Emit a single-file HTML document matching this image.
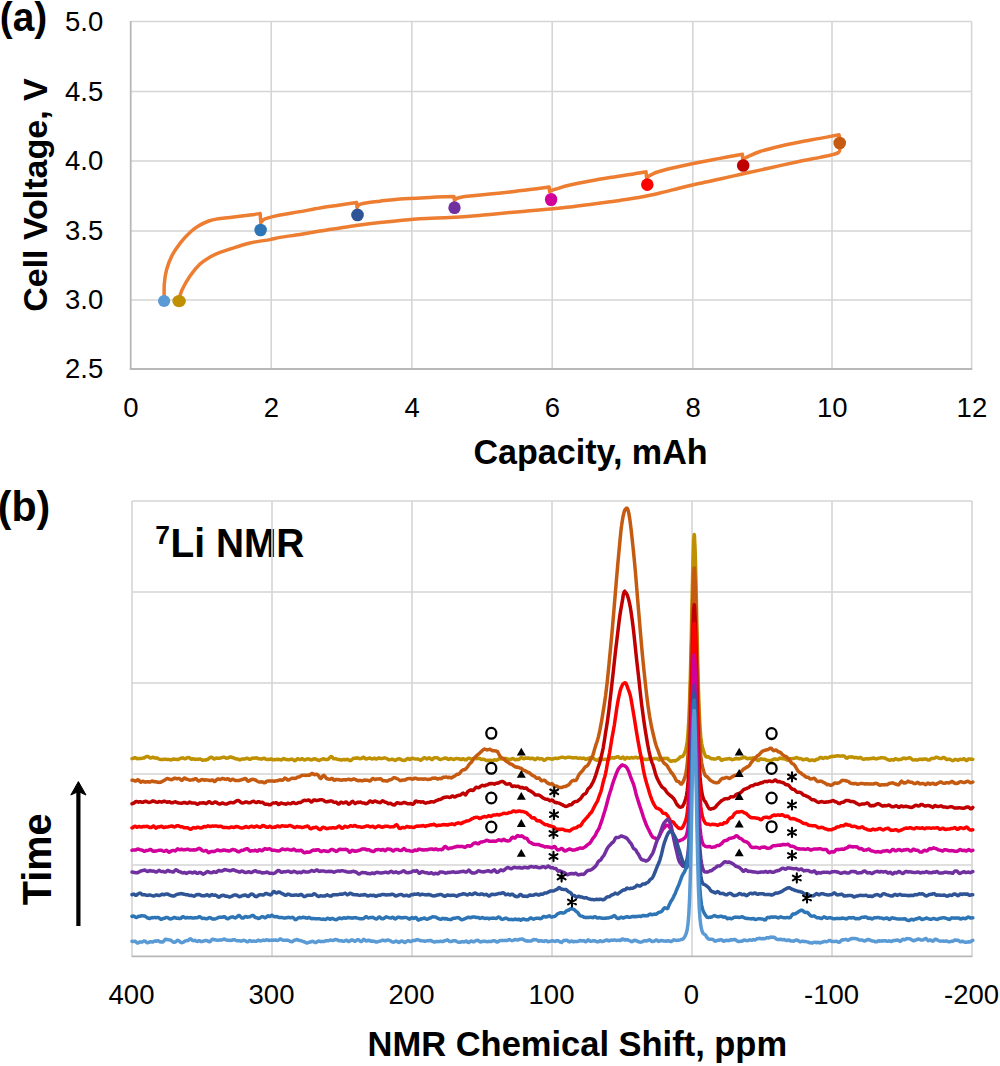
<!DOCTYPE html>
<html><head><meta charset="utf-8"><style>
html,body{margin:0;padding:0;background:#fff;overflow:hidden;}
svg{display:block;}
text{font-family:"Liberation Sans", sans-serif;}
</style></head><body>
<svg width="1000" height="1066" viewBox="0 0 1000 1066">
<rect width="1000" height="1066" fill="#fff"/>
<line x1="271.20" y1="21.50" x2="271.20" y2="369.00" stroke="#d5d5d5" stroke-width="1.6"/>
<line x1="411.80" y1="21.50" x2="411.80" y2="369.00" stroke="#d5d5d5" stroke-width="1.6"/>
<line x1="552.20" y1="21.50" x2="552.20" y2="369.00" stroke="#d5d5d5" stroke-width="1.6"/>
<line x1="692.80" y1="21.50" x2="692.80" y2="369.00" stroke="#d5d5d5" stroke-width="1.6"/>
<line x1="832.00" y1="21.50" x2="832.00" y2="369.00" stroke="#d5d5d5" stroke-width="1.6"/>
<line x1="971.60" y1="21.50" x2="971.60" y2="369.00" stroke="#d5d5d5" stroke-width="1.6"/>
<line x1="130.70" y1="21.50" x2="971.60" y2="21.50" stroke="#d5d5d5" stroke-width="1.6"/>
<line x1="130.70" y1="91.50" x2="971.60" y2="91.50" stroke="#d5d5d5" stroke-width="1.6"/>
<line x1="130.70" y1="161.00" x2="971.60" y2="161.00" stroke="#d5d5d5" stroke-width="1.6"/>
<line x1="130.70" y1="231.00" x2="971.60" y2="231.00" stroke="#d5d5d5" stroke-width="1.6"/>
<line x1="130.70" y1="300.00" x2="971.60" y2="300.00" stroke="#d5d5d5" stroke-width="1.6"/>
<line x1="130.70" y1="20.90" x2="130.70" y2="369.00" stroke="#b8b8b8" stroke-width="1.8"/>
<line x1="129.80" y1="369.00" x2="972.20" y2="369.00" stroke="#b8b8b8" stroke-width="1.8"/>
<path d="M164.20,299.50 C164.22,296.92 163.92,288.92 164.30,284.00 C164.68,279.08 165.22,274.73 166.50,270.00 C167.78,265.27 169.48,260.37 172.00,255.60 C174.52,250.83 178.43,245.42 181.60,241.40 C184.77,237.38 188.27,234.03 191.00,231.50 C193.73,228.97 195.03,227.95 198.00,226.20 C200.97,224.45 205.47,222.23 208.80,221.00 C212.13,219.77 214.47,219.40 218.00,218.80 C221.53,218.20 224.67,218.03 230.00,217.40 C235.33,216.77 244.97,215.63 250.00,215.00 C255.03,214.37 258.50,213.83 260.20,213.60 L260.80,222.80 C261.17,222.37 262.05,220.95 263.00,220.20 C263.95,219.45 263.67,219.17 266.50,218.30 C269.33,217.43 274.42,216.12 280.00,215.00 C285.58,213.88 293.33,212.77 300.00,211.60 C306.67,210.43 313.33,209.10 320.00,208.00 C326.67,206.90 333.90,205.93 340.00,205.00 C346.10,204.07 353.83,202.83 356.60,202.40 L357.00,207.40 C357.42,206.93 358.33,205.30 359.50,204.60 C360.67,203.90 360.58,203.77 364.00,203.20 C367.42,202.63 374.00,201.90 380.00,201.20 C386.00,200.50 391.67,199.63 400.00,199.00 C408.33,198.37 421.00,197.83 430.00,197.40 C439.00,196.97 450.00,196.57 454.00,196.40 L454.40,200.20 C454.83,199.88 455.90,198.80 457.00,198.30 C458.10,197.80 458.83,197.58 461.00,197.20 C463.17,196.82 465.17,196.53 470.00,196.00 C474.83,195.47 483.33,194.67 490.00,194.00 C496.67,193.33 503.33,192.73 510.00,192.00 C516.67,191.27 523.47,190.43 530.00,189.60 C536.53,188.77 546.00,187.43 549.20,187.00 L549.60,191.60 C550.00,191.40 550.93,190.83 552.00,190.40 C553.07,189.97 553.00,189.90 556.00,189.00 C559.00,188.10 564.33,186.33 570.00,185.00 C575.67,183.67 583.33,182.23 590.00,181.00 C596.67,179.77 603.33,178.67 610.00,177.60 C616.67,176.53 624.00,175.57 630.00,174.60 C636.00,173.63 643.33,172.27 646.00,171.80 L646.60,177.80 C647.00,177.50 648.10,176.57 649.00,176.00 C649.90,175.43 650.17,175.20 652.00,174.40 C653.83,173.60 653.33,172.97 660.00,171.20 C666.67,169.43 682.00,165.93 692.00,163.80 C702.00,161.67 711.60,160.00 720.00,158.40 C728.40,156.80 738.67,154.90 742.40,154.20 L742.80,160.00 C743.17,159.70 744.13,158.77 745.00,158.20 C745.87,157.63 745.50,157.72 748.00,156.60 C750.50,155.48 754.67,153.23 760.00,151.50 C765.33,149.77 773.33,147.78 780.00,146.20 C786.67,144.62 793.33,143.30 800.00,142.00 C806.67,140.70 813.50,139.60 820.00,138.40 C826.50,137.20 835.83,135.40 839.00,134.80 L839.40,136.00 C839.47,138.17 839.95,146.25 839.80,149.00 C839.65,151.75 839.80,151.53 838.50,152.50 C837.20,153.47 835.08,153.98 832.00,154.80 C828.92,155.62 825.33,156.32 820.00,157.40 C814.67,158.48 806.67,159.93 800.00,161.30 C793.33,162.67 786.67,164.13 780.00,165.60 C773.33,167.07 766.67,168.62 760.00,170.10 C753.33,171.58 746.67,173.02 740.00,174.50 C733.33,175.98 726.67,177.53 720.00,179.00 C713.33,180.47 706.67,181.80 700.00,183.30 C693.33,184.80 686.67,186.38 680.00,188.00 C673.33,189.62 666.67,191.45 660.00,193.00 C653.33,194.55 646.67,196.07 640.00,197.30 C633.33,198.53 625.00,199.65 620.00,200.40 C615.00,201.15 615.00,201.13 610.00,201.80 C605.00,202.47 596.67,203.53 590.00,204.40 C583.33,205.27 576.67,206.23 570.00,207.00 C563.33,207.77 556.67,208.37 550.00,209.00 C543.33,209.63 536.67,210.20 530.00,210.80 C523.33,211.40 516.67,212.00 510.00,212.60 C503.33,213.20 496.67,213.80 490.00,214.40 C483.33,215.00 476.67,215.68 470.00,216.20 C463.33,216.72 458.33,217.07 450.00,217.50 C441.67,217.93 428.33,218.28 420.00,218.80 C411.67,219.32 406.67,219.97 400.00,220.60 C393.33,221.23 386.67,221.87 380.00,222.60 C373.33,223.33 366.67,224.10 360.00,225.00 C353.33,225.90 346.67,227.00 340.00,228.00 C333.33,229.00 326.67,229.93 320.00,231.00 C313.33,232.07 306.67,233.33 300.00,234.40 C293.33,235.47 285.00,236.53 280.00,237.40 C275.00,238.27 275.00,238.67 270.00,239.60 C265.00,240.53 256.67,241.43 250.00,243.00 C243.33,244.57 235.00,247.43 230.00,249.00 C225.00,250.57 223.33,251.07 220.00,252.40 C216.67,253.73 213.33,255.07 210.00,257.00 C206.67,258.93 203.33,260.83 200.00,264.00 C196.67,267.17 193.00,271.67 190.00,276.00 C187.00,280.33 183.83,286.08 182.00,290.00 C180.17,293.92 179.50,297.92 179.00,299.50" fill="none" stroke="#ed7d31" stroke-width="3.5" stroke-linejoin="round" stroke-linecap="round"/>
<ellipse cx="164.1" cy="301.0" rx="6.1" ry="6.0" fill="#5b9bd5"/>
<ellipse cx="179.1" cy="301.1" rx="6.8" ry="6.1" fill="#bf9000"/>
<ellipse cx="260.6" cy="230.0" rx="6.3" ry="6.3" fill="#2e75b6"/>
<ellipse cx="357.5" cy="214.9" rx="6.35" ry="6.35" fill="#2f5597"/>
<ellipse cx="454.5" cy="207.7" rx="6.2" ry="6.4" fill="#7030a0"/>
<ellipse cx="551.1" cy="199.5" rx="6.2" ry="6.6" fill="#d2009a"/>
<ellipse cx="647.3" cy="184.6" rx="6.3" ry="6.3" fill="#ff0000"/>
<ellipse cx="743.2" cy="165.5" rx="6.3" ry="6.3" fill="#c00000"/>
<ellipse cx="839.7" cy="143.0" rx="6.3" ry="6.3" fill="#c55a11"/>
<text x="103.3" y="30.60" text-anchor="end" font-size="27.5" textLength="38.23" lengthAdjust="spacingAndGlyphs" fill="#000">5.0</text>
<text x="103.3" y="100.60" text-anchor="end" font-size="27.5" textLength="38.23" lengthAdjust="spacingAndGlyphs" fill="#000">4.5</text>
<text x="103.3" y="170.10" text-anchor="end" font-size="27.5" textLength="38.23" lengthAdjust="spacingAndGlyphs" fill="#000">4.0</text>
<text x="103.3" y="240.10" text-anchor="end" font-size="27.5" textLength="38.23" lengthAdjust="spacingAndGlyphs" fill="#000">3.5</text>
<text x="103.3" y="309.10" text-anchor="end" font-size="27.5" textLength="38.23" lengthAdjust="spacingAndGlyphs" fill="#000">3.0</text>
<text x="103.3" y="378.10" text-anchor="end" font-size="27.5" textLength="38.23" lengthAdjust="spacingAndGlyphs" fill="#000">2.5</text>
<text x="131.00" y="416.8" text-anchor="middle" font-size="27.5" textLength="15.29" lengthAdjust="spacingAndGlyphs" fill="#000">0</text>
<text x="271.50" y="416.8" text-anchor="middle" font-size="27.5" textLength="15.29" lengthAdjust="spacingAndGlyphs" fill="#000">2</text>
<text x="412.10" y="416.8" text-anchor="middle" font-size="27.5" textLength="15.29" lengthAdjust="spacingAndGlyphs" fill="#000">4</text>
<text x="552.50" y="416.8" text-anchor="middle" font-size="27.5" textLength="15.29" lengthAdjust="spacingAndGlyphs" fill="#000">6</text>
<text x="693.10" y="416.8" text-anchor="middle" font-size="27.5" textLength="15.29" lengthAdjust="spacingAndGlyphs" fill="#000">8</text>
<text x="832.30" y="416.8" text-anchor="middle" font-size="27.5" textLength="30.58" lengthAdjust="spacingAndGlyphs" fill="#000">10</text>
<text x="971.90" y="416.8" text-anchor="middle" font-size="27.5" textLength="30.58" lengthAdjust="spacingAndGlyphs" fill="#000">12</text>
<text x="473.4" y="464.2" font-size="34.4" font-weight="bold" textLength="234.2" lengthAdjust="spacingAndGlyphs">Capacity, mAh</text>
<text transform="translate(46.8,311.8) rotate(-90)" font-size="33.6" font-weight="bold" textLength="233.5" lengthAdjust="spacingAndGlyphs">Cell Voltage, V</text>
<text x="-0.3" y="31.2" font-size="40.8" font-weight="bold" textLength="47.5" lengthAdjust="spacingAndGlyphs">(a)</text>
<text x="155.2" y="543.6" font-size="26.4" font-weight="bold">7</text>
<text x="170.6" y="556.9" font-size="40.2" font-weight="bold" textLength="133.8" lengthAdjust="spacingAndGlyphs">Li NMR</text>
<line x1="272.00" y1="501.00" x2="272.00" y2="956.00" stroke="#d5d5d5" stroke-width="1.6"/>
<line x1="412.00" y1="501.00" x2="412.00" y2="956.00" stroke="#d5d5d5" stroke-width="1.6"/>
<line x1="552.00" y1="501.00" x2="552.00" y2="956.00" stroke="#d5d5d5" stroke-width="1.6"/>
<line x1="692.00" y1="501.00" x2="692.00" y2="956.00" stroke="#d5d5d5" stroke-width="1.6"/>
<line x1="832.00" y1="501.00" x2="832.00" y2="956.00" stroke="#d5d5d5" stroke-width="1.6"/>
<line x1="972.00" y1="501.00" x2="972.00" y2="956.00" stroke="#d5d5d5" stroke-width="1.6"/>
<line x1="132.00" y1="501.00" x2="972.00" y2="501.00" stroke="#d5d5d5" stroke-width="1.6"/>
<line x1="132.00" y1="592.00" x2="972.00" y2="592.00" stroke="#d5d5d5" stroke-width="1.6"/>
<line x1="132.00" y1="683.00" x2="972.00" y2="683.00" stroke="#d5d5d5" stroke-width="1.6"/>
<line x1="132.00" y1="774.00" x2="972.00" y2="774.00" stroke="#d5d5d5" stroke-width="1.6"/>
<line x1="132.00" y1="865.00" x2="972.00" y2="865.00" stroke="#d5d5d5" stroke-width="1.6"/>
<line x1="132.00" y1="501.00" x2="132.00" y2="956.00" stroke="#d5d5d5" stroke-width="1.6"/>
<line x1="131.50" y1="956.40" x2="972.50" y2="956.40" stroke="#b8b8b8" stroke-width="1.8"/>
<polyline points="132.0,758.64 132.8,758.50 133.6,758.20 134.4,757.83 135.2,757.74 136.0,758.03 136.8,758.50 137.6,758.73 138.4,758.57 139.2,758.45 140.0,758.54 140.8,758.55 141.6,758.37 142.4,758.17 143.2,758.12 144.0,758.06 144.8,757.53 145.6,757.06 146.4,756.45 147.2,756.49 148.0,756.53 148.8,757.11 149.6,757.50 150.4,758.05 151.2,757.89 152.0,757.59 152.8,757.16 153.6,757.55 154.4,757.92 155.2,758.21 156.0,757.95 156.8,757.94 157.6,758.23 158.4,758.70 159.2,759.16 160.0,759.35 160.8,759.53 161.6,759.56 162.4,759.49 163.2,759.48 164.0,759.29 164.8,759.20 165.6,759.21 166.4,759.32 167.2,759.55 168.0,759.39 168.8,759.42 169.6,759.49 170.4,759.84 171.2,759.97 172.0,759.64 172.8,759.19 173.6,758.98 174.4,759.15 175.2,759.26 176.0,759.35 176.8,759.45 177.6,759.57 178.4,759.48 179.2,759.00 180.0,758.72 180.8,758.31 181.6,758.16 182.4,757.83 183.2,758.03 184.0,758.51 184.8,758.86 185.6,758.67 186.4,758.15 187.2,757.71 188.0,757.60 188.8,757.46 189.6,757.92 190.4,758.52 191.2,759.22 192.0,759.19 192.8,758.86 193.6,758.84 194.4,759.07 195.2,759.43 196.0,759.34 196.8,759.30 197.6,759.27 198.4,759.20 199.2,759.09 200.0,758.91 200.8,759.27 201.6,759.70 202.4,760.21 203.2,760.28 204.0,760.09 204.8,759.98 205.6,759.82 206.4,759.94 207.2,759.53 208.0,759.27 208.8,758.52 209.6,758.01 210.4,757.35 211.2,757.15 212.0,757.39 212.8,758.12 213.6,758.75 214.4,758.94 215.2,758.45 216.0,758.16 216.8,758.06 217.6,758.20 218.4,758.18 219.2,758.20 220.0,758.15 220.8,757.96 221.6,757.60 222.4,757.38 223.2,757.33 224.0,757.24 224.8,757.47 225.6,757.66 226.4,758.14 227.2,758.10 228.0,758.04 228.8,757.54 229.6,757.19 230.4,756.98 231.2,757.05 232.0,757.51 232.8,757.58 233.6,758.09 234.4,758.04 235.2,758.69 236.0,758.80 236.8,759.05 237.6,758.98 238.4,759.18 239.2,759.70 240.0,759.91 240.8,759.67 241.6,759.06 242.4,758.89 243.2,758.89 244.0,759.15 244.8,758.91 245.6,758.71 246.4,758.18 247.2,758.24 248.0,758.38 248.8,759.03 249.6,759.20 250.4,759.22 251.2,758.71 252.0,758.32 252.8,758.12 253.6,758.11 254.4,758.25 255.2,758.08 256.0,757.87 256.8,757.93 257.6,758.32 258.4,758.73 259.2,758.66 260.0,758.80 260.8,758.92 261.6,759.15 262.4,758.77 263.2,758.40 264.0,758.26 264.8,758.51 265.6,759.09 266.4,759.31 267.2,759.51 268.0,759.34 268.8,759.47 269.6,759.29 270.4,759.08 271.2,758.99 272.0,759.21 272.8,759.75 273.6,759.83 274.4,759.83 275.2,759.46 276.0,759.39 276.8,759.32 277.6,759.42 278.4,759.33 279.2,759.44 280.0,759.62 280.8,759.95 281.6,759.79 282.4,759.21 283.2,758.66 284.0,758.61 284.8,759.07 285.6,759.39 286.4,759.47 287.2,759.52 288.0,759.69 288.8,759.72 289.6,759.71 290.4,759.33 291.2,759.34 292.0,759.11 292.8,759.54 293.6,759.93 294.4,760.63 295.2,760.71 296.0,760.11 296.8,759.27 297.6,758.75 298.4,759.01 299.2,759.37 300.0,759.61 300.8,759.28 301.6,758.85 302.4,758.76 303.2,759.25 304.0,759.79 304.8,759.92 305.6,759.58 306.4,759.23 307.2,758.99 308.0,758.92 308.8,758.97 309.6,759.17 310.4,759.69 311.2,759.88 312.0,759.84 312.8,759.28 313.6,758.95 314.4,758.85 315.2,758.98 316.0,759.29 316.8,759.49 317.6,760.09 318.4,760.23 319.2,760.43 320.0,759.89 320.8,759.83 321.6,759.33 322.4,759.09 323.2,758.76 324.0,758.97 324.8,759.32 325.6,759.40 326.4,759.46 327.2,759.43 328.0,759.26 328.8,758.64 329.6,757.75 330.4,756.99 331.2,756.53 332.0,756.86 332.8,757.85 333.6,758.74 334.4,758.81 335.2,758.56 336.0,758.63 336.8,759.19 337.6,759.43 338.4,759.46 339.2,759.45 340.0,759.71 340.8,760.02 341.6,759.94 342.4,759.76 343.2,759.41 344.0,759.65 344.8,759.61 345.6,759.78 346.4,759.45 347.2,759.36 348.0,759.45 348.8,759.89 349.6,760.45 350.4,760.57 351.2,760.27 352.0,759.51 352.8,758.80 353.6,758.18 354.4,758.27 355.2,758.25 356.0,758.26 356.8,757.85 357.6,757.98 358.4,758.25 359.2,758.60 360.0,758.68 360.8,758.55 361.6,758.35 362.4,757.62 363.2,757.35 364.0,757.37 364.8,758.32 365.6,758.83 366.4,759.01 367.2,758.69 368.0,758.37 368.8,758.14 369.6,757.99 370.4,758.24 371.2,758.65 372.0,759.06 372.8,758.89 373.6,758.42 374.4,758.20 375.2,758.45 376.0,758.98 376.8,758.96 377.6,758.55 378.4,758.00 379.2,757.94 380.0,758.23 380.8,758.53 381.6,758.48 382.4,758.41 383.2,758.17 384.0,758.10 384.8,757.82 385.6,758.11 386.4,758.34 387.2,758.94 388.0,759.27 388.8,759.75 389.6,759.84 390.4,759.62 391.2,759.38 392.0,759.24 392.8,759.33 393.6,759.66 394.4,760.14 395.2,760.47 396.0,760.02 396.8,759.54 397.6,759.00 398.4,758.89 399.2,758.83 400.0,758.97 400.8,759.44 401.6,759.80 402.4,760.29 403.2,760.36 404.0,760.46 404.8,760.33 405.6,760.10 406.4,759.32 407.2,758.64 408.0,758.45 408.8,759.10 409.6,759.57 410.4,759.38 411.2,758.63 412.0,758.23 412.8,758.28 413.6,758.67 414.4,758.89 415.2,759.01 416.0,758.99 416.8,758.96 417.6,758.99 418.4,759.13 419.2,759.53 420.0,759.98 420.8,760.27 421.6,759.77 422.4,759.13 423.2,758.24 424.0,757.93 424.8,757.71 425.6,758.18 426.4,758.79 427.2,758.95 428.0,758.55 428.8,757.87 429.6,757.93 430.4,758.55 431.2,759.38 432.0,759.65 432.8,759.01 433.6,758.20 434.4,757.71 435.2,757.75 436.0,757.86 436.8,757.75 437.6,757.98 438.4,758.34 439.2,759.19 440.0,759.47 440.8,759.54 441.6,759.09 442.4,758.90 443.2,758.67 444.0,758.45 444.8,758.06 445.6,757.96 446.4,758.20 447.2,758.83 448.0,759.32 448.8,759.39 449.6,759.05 450.4,758.55 451.2,758.58 452.0,758.82 452.8,759.30 453.6,759.43 454.4,759.36 455.2,758.87 456.0,758.50 456.8,758.50 457.6,758.66 458.4,758.81 459.2,758.73 460.0,759.30 460.8,759.53 461.6,759.62 462.4,758.86 463.2,758.80 464.0,758.90 464.8,759.78 465.6,759.75 466.4,759.75 467.2,758.85 468.0,758.47 468.8,758.16 469.6,758.40 470.4,758.81 471.2,759.01 472.0,759.19 472.8,758.91 473.6,758.62 474.4,758.45 475.2,758.52 476.0,758.66 476.8,758.61 477.6,758.50 478.4,758.38 479.2,758.35 480.0,758.68 480.8,759.06 481.6,759.41 482.4,759.25 483.2,759.20 484.0,759.27 484.8,759.59 485.6,760.19 486.4,760.41 487.2,760.73 488.0,760.40 488.8,760.32 489.6,760.12 490.4,760.19 491.2,760.43 492.0,760.54 492.8,760.48 493.6,760.09 494.4,759.79 495.2,759.94 496.0,760.06 496.8,760.15 497.6,759.54 498.4,759.28 499.2,758.89 500.0,758.90 500.8,758.57 501.6,758.75 502.4,758.99 503.2,759.19 504.0,758.80 504.8,758.43 505.6,758.44 506.4,758.73 507.2,759.02 508.0,759.12 508.8,759.23 509.6,759.46 510.4,759.41 511.2,759.27 512.0,758.61 512.8,758.59 513.6,758.75 514.4,759.56 515.2,759.65 516.0,759.67 516.8,759.34 517.6,759.59 518.4,759.59 519.2,759.39 520.0,758.46 520.8,757.68 521.6,757.48 522.4,758.02 523.2,758.66 524.0,758.65 524.8,758.20 525.6,758.06 526.4,758.04 527.2,758.34 528.0,757.93 528.8,758.32 529.6,758.34 530.4,758.85 531.2,758.41 532.0,758.22 532.8,758.17 533.6,758.83 534.4,759.56 535.2,759.68 536.0,759.04 536.8,758.30 537.6,758.02 538.4,758.41 539.2,758.83 540.0,758.96 540.8,758.82 541.6,758.64 542.4,758.99 543.2,759.63 544.0,760.25 544.8,760.21 545.6,759.60 546.4,758.93 547.2,758.58 548.0,758.52 548.8,758.46 549.6,758.60 550.4,758.73 551.2,759.10 552.0,759.15 552.8,759.11 553.6,758.69 554.4,758.36 555.2,758.15 556.0,758.28 556.8,758.46 557.6,758.48 558.4,758.29 559.2,757.87 560.0,757.68 560.8,757.47 561.6,757.35 562.4,757.22 563.2,757.22 564.0,757.62 564.8,757.84 565.6,757.93 566.4,757.60 567.2,757.39 568.0,757.24 568.8,757.37 569.6,757.35 570.4,757.48 571.2,757.46 572.0,757.75 572.8,757.82 573.6,757.94 574.4,757.68 575.2,757.66 576.0,757.52 576.8,757.91 577.6,758.16 578.4,758.32 579.2,758.12 580.0,757.97 580.8,758.12 581.6,758.43 582.4,758.38 583.2,758.19 584.0,758.07 584.8,758.67 585.6,759.20 586.4,759.18 587.2,758.77 588.0,758.35 588.8,758.19 589.6,757.95 590.4,757.57 591.2,757.52 592.0,757.41 592.8,757.91 593.6,758.35 594.4,759.08 595.2,759.47 596.0,760.00 596.8,760.34 597.6,760.31 598.4,759.55 599.2,758.75 600.0,758.35 600.8,758.61 601.6,759.08 602.4,759.53 603.2,759.55 604.0,759.40 604.8,759.13 605.6,759.22 606.4,759.49 607.2,759.75 608.0,759.67 608.8,759.30 609.6,758.77 610.4,758.18 611.2,757.74 612.0,757.65 612.8,758.05 613.6,758.10 614.4,757.96 615.2,757.40 616.0,757.30 616.8,756.98 617.6,756.84 618.4,756.84 619.2,757.52 620.0,758.13 620.8,758.33 621.5,758.19 621.6,757.77 622.4,757.45 623.0,757.03 623.2,757.44 624.0,758.13 624.8,758.93 624.8,759.17 625.5,758.91 625.6,758.52 626.3,758.05 626.4,757.75 627.2,757.52 628.0,757.79 628.8,758.11 629.6,758.27 630.4,757.81 631.2,757.61 632.0,757.57 632.8,758.00 633.6,757.88 634.4,757.75 635.2,757.21 636.0,757.30 636.8,757.61 637.6,758.00 638.4,757.88 639.2,757.47 640.0,757.38 640.8,757.46 641.6,757.74 642.4,758.07 643.2,758.78 644.0,759.15 644.8,759.41 645.6,759.25 646.4,759.53 647.2,759.41 648.0,759.30 648.8,758.79 649.6,758.58 650.4,758.67 651.2,758.89 652.0,759.02 652.8,758.83 653.6,758.52 654.4,758.51 655.2,758.48 656.0,758.52 656.8,758.35 657.6,758.71 658.4,759.47 659.2,760.04 660.0,759.90 660.8,759.35 661.6,758.99 662.4,758.79 663.2,758.49 664.0,758.35 664.8,758.45 665.6,758.55 666.4,758.31 667.2,758.29 668.0,758.69 668.0,759.30 668.8,759.87 669.6,760.50 670.4,760.86 670.5,761.16 671.2,761.14 672.0,761.09 672.8,760.70 673.6,760.76 674.4,760.78 675.2,760.98 676.0,760.56 676.8,759.98 677.6,759.49 678.4,758.96 679.2,758.26 680.0,757.13 680.8,756.72 681.6,756.63 682.4,756.62 683.2,755.61 684.0,754.28 684.8,752.58 685.6,750.40 686.4,746.93 687.2,741.69 688.0,733.51 688.8,720.47 689.6,701.05 690.4,674.20 691.2,640.51 692.0,602.61 692.8,566.43 693.6,540.99 694.2,534.51 694.4,535.26 695.2,551.66 696.0,583.64 696.8,621.45 697.6,657.65 698.4,687.91 699.2,710.92 700.0,726.84 700.8,737.22 701.6,743.35 702.4,747.30 703.2,749.89 704.0,752.43 704.8,754.49 705.6,756.24 706.4,756.95 707.2,756.99 708.0,756.74 708.8,756.97 709.6,757.65 710.4,758.27 711.2,758.69 712.0,758.60 712.8,758.86 713.6,758.82 714.4,759.14 715.2,759.01 716.0,758.86 716.8,758.49 717.6,757.97 718.4,757.62 719.2,757.72 720.0,758.67 720.8,759.78 721.6,760.39 722.4,760.09 723.2,759.62 724.0,759.22 724.8,759.31 725.6,759.12 726.4,759.06 727.2,758.84 728.0,758.88 728.8,758.71 729.6,758.59 730.4,758.77 731.2,759.25 732.0,759.74 732.8,759.59 733.6,759.39 734.4,759.03 735.2,758.81 736.0,758.50 736.8,758.52 737.6,758.70 738.4,758.95 739.2,758.85 740.0,758.71 740.8,758.18 741.6,758.13 742.4,757.79 743.2,757.76 744.0,757.12 744.8,757.21 745.6,757.53 746.4,758.46 747.2,758.69 748.0,758.76 748.8,758.31 749.6,758.34 750.4,758.32 751.2,758.48 752.0,758.29 752.8,758.00 753.6,757.72 754.4,757.86 755.2,758.24 756.0,758.97 756.8,759.81 757.6,760.45 758.4,760.51 759.2,759.88 760.0,759.21 760.8,758.84 761.6,758.99 762.4,759.28 763.2,759.38 764.0,759.34 764.8,759.32 765.6,759.76 766.4,760.06 767.2,760.40 768.0,760.34 768.8,760.53 769.6,760.58 770.4,760.73 771.2,760.58 772.0,760.18 772.8,759.63 773.6,759.10 774.4,759.11 775.2,759.02 776.0,759.31 776.8,759.34 777.6,759.58 778.4,759.04 779.2,758.46 780.0,758.03 780.8,758.26 781.6,758.60 782.4,758.70 783.2,758.86 784.0,758.84 784.8,758.99 785.6,759.03 786.4,759.68 787.2,760.11 788.0,760.25 788.8,759.38 789.6,758.92 790.4,758.57 791.2,758.80 792.0,758.63 792.8,758.59 793.6,758.43 794.4,758.33 795.2,758.03 796.0,757.74 796.8,757.53 797.6,757.82 798.4,758.37 799.2,758.72 800.0,758.63 800.8,758.51 801.6,758.94 802.4,759.53 803.2,759.72 804.0,759.58 804.8,759.31 805.6,759.25 806.4,758.96 807.2,759.06 808.0,759.40 808.8,760.24 809.6,760.47 810.4,760.58 811.2,760.12 812.0,759.97 812.8,759.94 813.6,760.34 814.4,760.63 815.2,760.28 816.0,759.64 816.8,759.29 817.6,759.25 818.4,758.95 819.2,758.17 820.0,757.51 820.8,757.44 821.6,757.83 822.4,758.20 823.2,758.40 824.0,758.01 824.8,757.66 825.6,757.41 826.4,757.82 827.2,758.06 828.0,757.82 828.8,757.47 829.6,757.06 830.4,756.91 831.2,756.43 832.0,756.39 832.8,756.35 833.6,756.51 834.4,756.28 835.2,756.19 836.0,756.07 836.8,755.97 837.6,755.78 838.4,755.80 839.2,755.98 840.0,756.13 840.8,756.10 841.6,756.03 842.4,756.05 843.2,755.85 844.0,755.99 844.8,756.39 845.6,757.52 846.4,758.12 847.2,758.17 848.0,757.47 848.8,757.04 849.6,756.97 850.4,756.97 851.2,757.09 852.0,756.86 852.8,757.27 853.6,757.42 854.4,757.74 855.2,757.48 856.0,757.44 856.8,757.61 857.6,758.00 858.4,758.12 859.2,757.80 860.0,757.52 860.8,757.60 861.6,758.34 862.4,758.87 863.2,759.26 864.0,759.19 864.8,759.11 865.6,758.77 866.4,758.74 867.2,758.71 868.0,759.05 868.8,758.85 869.6,758.78 870.4,758.49 871.2,758.56 872.0,758.54 872.8,758.26 873.6,758.06 874.4,758.27 875.2,758.70 876.0,758.92 876.8,758.70 877.6,758.46 878.4,758.32 879.2,758.14 880.0,758.02 880.8,757.80 881.6,757.73 882.4,757.74 883.2,757.88 884.0,757.95 884.8,758.09 885.6,758.38 886.4,758.94 887.2,759.36 888.0,759.72 888.8,760.09 889.6,760.13 890.4,760.14 891.2,759.54 892.0,759.64 892.8,759.82 893.6,760.14 894.4,759.62 895.2,758.80 896.0,758.63 896.8,759.13 897.6,759.67 898.4,759.73 899.2,759.52 900.0,759.42 900.8,759.44 901.6,759.04 902.4,758.74 903.2,758.06 904.0,758.31 904.8,758.34 905.6,758.70 906.4,758.51 907.2,758.37 908.0,758.21 908.8,757.86 909.6,757.75 910.4,757.87 911.2,758.68 912.0,759.35 912.8,759.88 913.6,759.88 914.4,759.89 915.2,759.75 916.0,759.90 916.8,760.00 917.6,760.02 918.4,759.70 919.2,759.45 920.0,759.21 920.8,759.32 921.6,759.26 922.4,759.50 923.2,759.27 924.0,759.22 924.8,758.94 925.6,759.01 926.4,759.21 927.2,759.41 928.0,759.89 928.8,759.97 929.6,759.91 930.4,759.21 931.2,758.60 932.0,758.28 932.8,758.38 933.6,758.46 934.4,758.18 935.2,757.81 936.0,757.27 936.8,757.35 937.6,757.40 938.4,757.97 939.2,758.12 940.0,758.49 940.8,758.53 941.6,758.42 942.4,757.95 943.2,757.50 944.0,757.39 944.8,757.88 945.6,758.59 946.4,759.42 947.2,759.41 948.0,759.43 948.8,759.07 949.6,759.33 950.4,759.43 951.2,759.98 952.0,760.37 952.8,760.65 953.6,760.21 954.4,759.79 955.2,759.38 956.0,759.65 956.8,759.77 957.6,760.24 958.4,760.02 959.2,759.86 960.0,759.27 960.8,759.34 961.6,759.38 962.4,759.38 963.2,758.97 964.0,758.77 964.8,759.14 965.6,760.04 966.4,760.61 967.2,760.28 968.0,759.33 968.8,758.89 969.6,758.94 970.4,759.20 971.2,759.12 972.0,759.15 972.8,759.34" fill="none" stroke="#bf9000" stroke-width="3.5" stroke-linejoin="round" stroke-linecap="round"/>
<polyline points="132.0,780.12 132.8,780.05 133.6,780.39 134.4,780.68 135.2,781.06 136.0,780.91 136.8,780.53 137.6,779.74 138.4,779.90 139.2,780.59 140.0,781.75 140.8,782.16 141.6,781.80 142.4,781.42 143.2,781.28 144.0,781.77 144.8,781.94 145.6,782.15 146.4,781.80 147.2,781.84 148.0,781.67 148.8,782.08 149.6,782.12 150.4,781.94 151.2,781.33 152.0,781.03 152.8,781.27 153.6,781.56 154.4,781.77 155.2,781.60 156.0,781.83 156.8,781.96 157.6,782.30 158.4,782.33 159.2,782.41 160.0,782.19 160.8,782.17 161.6,781.66 162.4,781.41 163.2,780.65 164.0,780.56 164.8,780.02 165.6,779.56 166.4,778.85 167.2,778.52 168.0,778.79 168.8,778.93 169.6,779.35 170.4,779.39 171.2,779.79 172.0,779.56 172.8,779.21 173.6,778.56 174.4,778.27 175.2,778.27 176.0,778.55 176.8,778.68 177.6,778.67 178.4,778.42 179.2,778.54 180.0,779.03 180.8,779.85 181.6,780.37 182.4,780.05 183.2,779.20 184.0,778.21 184.8,778.09 185.6,778.38 186.4,779.14 187.2,779.34 188.0,779.57 188.8,779.74 189.6,780.09 190.4,780.26 191.2,779.89 192.0,779.76 192.8,779.58 193.6,779.69 194.4,779.21 195.2,778.78 196.0,778.63 196.8,779.40 197.6,780.30 198.4,781.03 199.2,780.82 200.0,780.54 200.8,780.00 201.6,779.72 202.4,779.52 203.2,779.83 204.0,779.97 204.8,780.21 205.6,779.87 206.4,779.99 207.2,779.91 208.0,780.14 208.8,780.29 209.6,780.51 210.4,780.61 211.2,780.28 212.0,780.05 212.8,780.09 213.6,780.90 214.4,781.49 215.2,781.28 216.0,780.45 216.8,779.42 217.6,779.07 218.4,779.04 219.2,779.29 220.0,779.49 220.8,779.09 221.6,778.79 222.4,778.45 223.2,778.73 224.0,778.83 224.8,779.17 225.6,779.25 226.4,779.38 227.2,778.84 228.0,778.73 228.8,779.16 229.6,780.16 230.4,780.52 231.2,780.03 232.0,779.48 232.8,779.19 233.6,779.58 234.4,779.91 235.2,780.44 236.0,780.56 236.8,780.54 237.6,780.58 238.4,780.50 239.2,780.57 240.0,780.12 240.8,779.96 241.6,779.57 242.4,779.47 243.2,779.29 244.0,779.02 244.8,778.61 245.6,778.59 246.4,779.37 247.2,780.50 248.0,781.23 248.8,781.07 249.6,780.57 250.4,779.99 251.2,779.72 252.0,779.44 252.8,779.31 253.6,779.40 254.4,779.65 255.2,779.99 256.0,780.26 256.8,780.86 257.6,781.38 258.4,781.87 259.2,781.90 260.0,781.93 260.8,781.88 261.6,781.83 262.4,781.90 263.2,782.17 264.0,782.72 264.8,782.73 265.6,782.34 266.4,781.42 267.2,781.12 268.0,780.96 268.8,781.04 269.6,780.95 270.4,780.97 271.2,780.94 272.0,780.91 272.8,780.94 273.6,781.17 274.4,781.26 275.2,780.98 276.0,780.88 276.8,780.70 277.6,780.77 278.4,780.36 279.2,780.02 280.0,779.83 280.8,779.94 281.6,780.25 282.4,780.29 283.2,779.67 284.0,778.92 284.8,778.08 285.6,778.39 286.4,778.83 287.2,779.79 288.0,780.06 288.8,779.95 289.6,779.45 290.4,779.00 291.2,778.68 292.0,778.28 292.8,778.15 293.6,778.15 294.4,778.53 295.2,778.41 296.0,778.21 296.8,777.55 297.6,777.20 298.4,776.94 299.2,776.92 300.0,776.62 300.8,775.99 301.6,775.51 302.4,775.28 303.2,775.37 304.0,775.25 304.8,775.31 305.6,775.44 306.4,775.36 307.2,775.29 308.0,775.12 308.8,775.40 309.6,775.15 310.4,774.68 311.2,773.82 312.0,773.46 312.8,773.67 313.6,774.35 314.4,774.73 315.2,774.57 316.0,774.26 316.8,774.14 317.6,774.66 318.4,775.41 319.2,776.85 320.0,777.93 320.8,778.52 321.6,777.91 322.4,776.65 323.2,775.63 324.0,775.27 324.8,776.22 325.6,777.34 326.4,778.46 327.2,778.80 328.0,778.97 328.8,779.14 329.6,779.24 330.4,779.15 331.2,778.51 332.0,778.46 332.8,778.83 333.6,779.95 334.4,780.22 335.2,780.06 336.0,779.42 336.8,779.38 337.6,779.44 338.4,779.75 339.2,779.78 340.0,780.00 340.8,780.06 341.6,780.19 342.4,780.02 343.2,779.78 344.0,779.68 344.8,779.71 345.6,779.95 346.4,779.85 347.2,779.59 348.0,779.33 348.8,779.16 349.6,779.51 350.4,779.71 351.2,779.93 352.0,779.60 352.8,779.20 353.6,779.02 354.4,779.05 355.2,779.41 356.0,779.73 356.8,780.32 357.6,780.53 358.4,780.73 359.2,780.52 360.0,780.53 360.8,780.49 361.6,780.72 362.4,780.82 363.2,780.60 364.0,780.25 364.8,780.08 365.6,780.25 366.4,780.26 367.2,780.17 368.0,780.35 368.8,780.74 369.6,781.07 370.4,780.67 371.2,779.88 372.0,779.09 372.8,778.46 373.6,778.78 374.4,779.09 375.2,779.57 376.0,779.23 376.8,779.04 377.6,778.90 378.4,779.04 379.2,778.90 380.0,778.78 380.8,778.76 381.6,779.47 382.4,780.26 383.2,780.85 384.0,780.81 384.8,780.67 385.6,780.82 386.4,781.06 387.2,781.08 388.0,780.67 388.8,780.14 389.6,779.84 390.4,779.74 391.2,779.62 392.0,779.08 392.8,778.41 393.6,777.70 394.4,777.67 395.2,777.88 396.0,778.34 396.8,778.58 397.6,778.86 398.4,779.36 399.2,779.91 400.0,780.49 400.8,780.62 401.6,780.51 402.4,780.03 403.2,780.00 404.0,780.04 404.8,780.12 405.6,779.80 406.4,779.24 407.2,778.83 408.0,778.65 408.8,778.62 409.6,778.54 410.4,778.48 411.2,778.70 412.0,779.18 412.8,779.18 413.6,778.86 414.4,778.18 415.2,778.16 416.0,778.28 416.8,778.76 417.6,778.93 418.4,779.17 419.2,779.05 420.0,779.06 420.8,778.91 421.6,779.06 422.4,779.06 423.2,779.23 424.0,779.09 424.8,778.99 425.6,778.94 426.4,779.18 427.2,779.40 428.0,779.48 428.8,779.30 429.6,779.28 430.4,779.16 431.2,778.83 432.0,778.40 432.8,778.12 433.6,778.31 434.4,778.25 435.2,778.03 436.0,778.17 436.8,778.63 437.6,779.13 438.4,778.90 439.2,778.42 440.0,778.54 440.8,778.65 441.6,778.60 442.4,777.74 443.2,777.20 444.0,777.21 444.8,777.15 445.6,777.08 446.4,777.04 447.2,777.35 448.0,777.65 448.8,777.28 449.6,777.51 450.4,777.50 451.2,777.88 452.0,777.42 452.8,777.07 453.6,776.59 454.4,776.22 455.2,775.66 456.0,774.96 456.8,774.49 457.6,774.17 458.4,774.17 459.2,773.69 460.0,772.96 460.8,771.91 461.6,770.94 462.4,770.26 463.2,769.86 464.0,769.79 464.8,769.52 465.6,769.06 466.4,768.23 467.2,767.26 468.0,766.15 468.8,764.86 469.6,763.95 470.4,763.09 471.2,762.60 472.0,761.42 472.8,760.16 473.6,758.65 474.4,757.82 475.2,757.03 476.0,756.38 476.8,755.48 477.6,754.79 478.4,754.18 479.2,753.61 480.0,752.82 480.8,752.08 481.6,751.21 482.4,750.48 483.2,749.75 484.0,749.19 484.8,749.11 485.6,749.40 486.4,749.79 487.2,749.92 488.0,749.61 488.8,749.48 489.6,749.29 490.4,749.46 491.2,749.91 492.0,750.44 492.8,750.76 493.6,750.67 494.4,750.63 495.2,751.00 496.0,750.95 496.8,751.26 497.6,751.64 498.4,753.28 499.2,754.74 500.0,756.19 500.8,756.98 501.6,757.78 502.4,758.09 503.2,758.50 504.0,758.92 504.8,759.87 505.6,760.69 506.4,761.37 507.2,761.74 508.0,762.30 508.8,762.93 509.6,763.56 510.4,763.95 511.2,764.06 512.0,764.48 512.8,764.97 513.6,765.86 514.4,766.21 515.2,766.84 516.0,767.03 516.8,767.23 517.6,767.03 518.4,767.35 519.2,767.77 520.0,768.08 520.8,768.15 521.6,768.56 522.4,769.44 523.2,770.08 524.0,770.39 524.8,770.47 525.6,771.04 526.4,771.50 527.2,772.01 528.0,772.18 528.8,772.63 529.6,773.09 530.4,773.73 531.2,774.43 532.0,775.13 532.8,775.56 533.6,775.90 534.4,776.19 535.2,776.92 536.0,777.74 536.8,778.27 537.6,778.26 538.4,777.92 539.2,778.07 540.0,779.03 540.8,780.16 541.6,780.84 542.4,780.77 543.2,780.42 544.0,780.18 544.8,780.42 545.6,781.07 546.4,782.15 547.2,782.67 548.0,783.26 548.8,783.48 549.6,784.11 550.4,784.11 551.2,783.92 552.0,783.66 552.8,784.20 553.6,785.26 554.4,786.09 555.2,786.33 556.0,786.09 556.8,786.18 557.6,786.51 558.4,787.16 559.2,787.40 560.0,787.56 560.8,787.50 561.6,787.60 562.4,787.26 563.2,786.85 564.0,786.55 564.8,786.63 565.6,786.55 566.4,786.00 567.2,785.53 568.0,785.23 568.8,784.70 569.6,783.85 570.4,782.57 571.2,781.77 572.0,781.00 572.8,780.61 573.6,780.32 574.4,780.40 575.2,780.50 576.0,780.32 576.8,779.12 577.6,777.53 578.4,775.66 579.2,774.43 580.0,773.32 580.8,772.50 581.6,771.65 582.4,770.85 583.2,769.84 584.0,768.57 584.8,767.47 585.6,766.66 586.4,766.33 587.2,765.81 588.0,764.93 588.8,763.57 589.6,761.66 590.4,760.11 591.2,758.58 592.0,757.49 592.8,755.37 593.6,752.91 594.4,749.86 595.2,747.21 596.0,744.56 596.8,742.24 597.6,739.70 598.4,736.89 599.2,733.38 600.0,729.68 600.8,725.44 601.6,721.08 602.4,716.31 603.2,711.34 604.0,706.40 604.8,700.91 605.6,695.56 606.4,688.95 607.2,682.29 608.0,674.30 608.8,666.34 609.6,657.76 610.4,649.58 611.2,641.12 612.0,632.58 612.8,623.29 613.6,613.99 614.4,604.29 615.2,594.95 616.0,585.12 616.8,575.70 617.6,566.27 618.4,557.65 619.2,548.88 620.0,540.33 620.8,532.08 621.5,526.03 621.6,525.60 622.4,520.35 623.0,516.77 623.2,515.87 624.0,512.39 624.8,510.17 624.8,510.29 625.5,509.02 625.6,509.11 626.3,508.71 626.4,508.24 627.2,508.34 628.0,509.92 628.8,513.14 629.6,517.85 630.4,523.69 631.2,530.33 632.0,537.53 632.8,545.06 633.6,552.77 634.4,560.88 635.2,569.60 636.0,579.17 636.8,589.05 637.6,598.93 638.4,608.50 639.2,617.94 640.0,627.47 640.8,636.89 641.6,646.11 642.4,654.75 643.2,662.94 644.0,670.60 644.8,678.25 645.6,685.62 646.4,692.83 647.2,699.27 648.0,705.60 648.8,711.08 649.6,716.36 650.4,720.75 651.2,725.18 652.0,728.84 652.8,732.47 653.6,735.76 654.4,739.11 655.2,742.23 656.0,744.96 656.8,747.32 657.6,749.30 658.4,751.43 659.2,753.84 660.0,755.90 660.8,757.65 661.6,758.86 662.4,760.66 663.2,761.94 664.0,763.19 664.8,763.62 665.6,764.28 666.4,764.79 667.2,765.78 668.0,766.98 668.0,767.39 668.8,768.49 669.6,769.65 670.4,771.12 670.5,771.54 671.2,772.37 672.0,773.13 672.8,774.24 673.6,775.48 674.4,776.74 675.2,778.36 676.0,780.01 676.8,781.11 677.6,781.30 678.4,781.37 679.2,782.06 680.0,783.16 680.8,783.99 681.6,783.96 682.4,783.13 683.2,781.62 684.0,779.81 684.8,777.38 685.6,774.68 686.4,770.66 687.2,764.57 688.0,754.55 688.8,739.92 689.6,719.64 690.4,693.40 691.2,661.75 692.0,627.44 692.8,595.53 693.6,573.49 694.2,567.90 694.4,568.46 695.2,582.47 696.0,610.33 696.8,644.18 697.6,677.48 698.4,706.35 699.2,728.85 700.0,745.19 700.8,755.86 701.6,762.49 702.4,766.46 703.2,769.59 704.0,772.28 704.8,774.45 705.6,775.66 706.4,776.41 707.2,776.83 708.0,777.63 708.8,778.54 709.6,779.67 710.4,780.33 711.2,780.82 712.0,781.24 712.8,781.68 713.6,782.14 714.4,782.40 715.2,782.76 716.0,782.80 716.8,782.87 717.6,782.73 718.4,782.41 719.2,781.61 720.0,780.72 720.8,779.52 721.6,778.98 722.4,778.35 723.2,778.59 724.0,778.20 724.8,778.16 725.6,777.58 726.4,777.48 727.2,777.51 728.0,777.98 728.8,778.30 729.6,778.43 730.4,777.92 731.2,777.44 732.0,776.80 732.8,776.53 733.6,776.07 734.4,775.66 735.2,775.30 736.0,775.10 736.8,774.83 737.6,774.29 738.4,773.68 739.2,772.92 740.0,772.28 740.8,771.67 741.6,771.05 742.4,770.36 743.2,769.40 744.0,768.72 744.8,768.52 745.6,767.94 746.4,767.64 747.2,766.67 748.0,766.70 748.8,766.01 749.6,765.28 750.4,763.76 751.2,762.63 752.0,761.46 752.8,760.66 753.6,759.73 754.4,759.04 755.2,758.25 756.0,757.32 756.8,756.37 757.6,755.68 758.4,755.15 759.2,754.65 760.0,753.77 760.8,752.74 761.6,751.90 762.4,751.28 763.2,750.88 764.0,750.64 764.8,750.30 765.6,750.24 766.4,749.84 767.2,749.85 768.0,749.43 768.8,749.16 769.6,748.41 770.4,748.13 771.2,748.19 772.0,749.10 772.8,750.01 773.6,750.66 774.4,750.52 775.2,750.20 776.0,749.99 776.8,750.44 777.6,751.15 778.4,751.83 779.2,751.99 780.0,752.17 780.8,752.68 781.6,753.62 782.4,754.50 783.2,755.13 784.0,755.71 784.8,756.09 785.6,756.35 786.4,756.82 787.2,757.43 788.0,758.52 788.8,759.20 789.6,760.30 790.4,761.28 791.2,762.62 792.0,763.32 792.8,763.93 793.6,764.21 794.4,765.14 795.2,766.13 796.0,767.55 796.8,768.93 797.6,770.24 798.4,771.41 799.2,772.02 800.0,772.47 800.8,772.85 801.6,773.63 802.4,774.32 803.2,774.95 804.0,775.31 804.8,776.15 805.6,776.86 806.4,777.36 807.2,777.17 808.0,777.25 808.8,777.78 809.6,778.56 810.4,778.90 811.2,778.90 812.0,778.86 812.8,778.62 813.6,778.27 814.4,778.28 815.2,779.01 816.0,780.13 816.8,780.92 817.6,781.46 818.4,781.51 819.2,781.47 820.0,781.12 820.8,781.18 821.6,781.30 822.4,781.77 823.2,782.27 824.0,782.69 824.8,782.97 825.6,783.46 826.4,784.14 827.2,784.67 828.0,784.55 828.8,784.55 829.6,784.96 830.4,785.31 831.2,785.38 832.0,784.85 832.8,784.44 833.6,783.68 834.4,783.17 835.2,782.93 836.0,783.13 836.8,783.26 837.6,783.16 838.4,782.84 839.2,782.67 840.0,782.15 840.8,781.48 841.6,780.68 842.4,780.29 843.2,780.38 844.0,780.40 844.8,780.61 845.6,780.64 846.4,781.08 847.2,781.11 848.0,781.39 848.8,781.61 849.6,782.55 850.4,783.16 851.2,783.41 852.0,783.53 852.8,783.61 853.6,783.81 854.4,783.42 855.2,783.44 856.0,783.55 856.8,784.06 857.6,784.14 858.4,784.18 859.2,783.87 860.0,783.65 860.8,783.41 861.6,783.43 862.4,783.40 863.2,783.66 864.0,783.83 864.8,784.05 865.6,783.94 866.4,783.74 867.2,783.84 868.0,783.85 868.8,784.10 869.6,784.02 870.4,784.03 871.2,783.86 872.0,784.04 872.8,784.05 873.6,784.09 874.4,783.62 875.2,783.57 876.0,783.30 876.8,783.53 877.6,783.68 878.4,784.57 879.2,784.96 880.0,785.31 880.8,784.91 881.6,784.75 882.4,784.69 883.2,784.86 884.0,784.94 884.8,784.69 885.6,784.58 886.4,784.64 887.2,784.67 888.0,784.25 888.8,783.66 889.6,783.30 890.4,783.26 891.2,783.10 892.0,782.94 892.8,782.84 893.6,783.23 894.4,783.60 895.2,784.09 896.0,784.12 896.8,784.59 897.6,784.65 898.4,784.96 899.2,784.25 900.0,783.12 900.8,781.81 901.6,781.17 902.4,781.81 903.2,782.37 904.0,783.09 904.8,782.78 905.6,782.97 906.4,782.26 907.2,781.93 908.0,781.15 908.8,781.53 909.6,781.86 910.4,782.25 911.2,782.21 912.0,782.28 912.8,782.74 913.6,783.19 914.4,783.62 915.2,783.71 916.0,783.44 916.8,782.75 917.6,782.36 918.4,782.63 919.2,783.50 920.0,783.89 920.8,783.86 921.6,783.59 922.4,783.59 923.2,783.56 924.0,783.84 924.8,784.19 925.6,784.64 926.4,784.23 927.2,783.58 928.0,783.10 928.8,783.43 929.6,783.97 930.4,784.20 931.2,783.95 932.0,783.48 932.8,783.30 933.6,783.37 934.4,784.12 935.2,784.37 936.0,784.44 936.8,783.73 937.6,783.41 938.4,782.97 939.2,782.50 940.0,782.00 940.8,781.96 941.6,782.32 942.4,782.78 943.2,783.07 944.0,783.32 944.8,783.29 945.6,782.99 946.4,782.66 947.2,782.63 948.0,782.83 948.8,782.98 949.6,782.82 950.4,782.39 951.2,781.77 952.0,781.50 952.8,781.73 953.6,782.55 954.4,783.10 955.2,783.43 956.0,783.32 956.8,783.45 957.6,783.29 958.4,782.94 959.2,782.32 960.0,781.85 960.8,781.71 961.6,781.83 962.4,782.08 963.2,782.46 964.0,782.51 964.8,782.53 965.6,782.00 966.4,781.61 967.2,781.27 968.0,781.32 968.8,781.80 969.6,782.23 970.4,782.72 971.2,782.59 972.0,782.36 972.8,781.97" fill="none" stroke="#c55a11" stroke-width="3.5" stroke-linejoin="round" stroke-linecap="round"/>
<polyline points="132.0,803.70 132.8,803.61 133.6,803.14 134.4,802.70 135.2,801.95 136.0,801.57 136.8,801.57 137.6,801.89 138.4,802.14 139.2,801.79 140.0,801.65 140.8,801.64 141.6,802.17 142.4,802.34 143.2,802.25 144.0,801.69 144.8,801.37 145.6,801.25 146.4,801.45 147.2,801.82 148.0,802.18 148.8,802.40 149.6,802.28 150.4,802.12 151.2,801.86 152.0,801.31 152.8,800.94 153.6,800.91 154.4,801.41 155.2,801.72 156.0,801.94 156.8,802.19 157.6,802.28 158.4,802.08 159.2,801.61 160.0,801.68 160.8,801.92 161.6,802.17 162.4,801.93 163.2,801.50 164.0,801.27 164.8,801.20 165.6,801.70 166.4,801.95 167.2,802.24 168.0,801.98 168.8,801.86 169.6,801.87 170.4,802.16 171.2,802.67 172.0,802.72 172.8,802.77 173.6,802.26 174.4,802.10 175.2,801.76 176.0,802.06 176.8,802.36 177.6,802.81 178.4,802.95 179.2,803.01 180.0,803.12 180.8,803.19 181.6,803.22 182.4,803.03 183.2,802.79 184.0,802.55 184.8,802.55 185.6,802.74 186.4,803.18 187.2,803.40 188.0,803.15 188.8,802.56 189.6,802.13 190.4,802.42 191.2,802.80 192.0,803.12 192.8,803.04 193.6,802.98 194.4,802.94 195.2,803.10 196.0,803.56 196.8,804.13 197.6,804.34 198.4,803.89 199.2,803.30 200.0,802.89 200.8,803.02 201.6,803.00 202.4,803.01 203.2,802.78 204.0,802.84 204.8,803.13 205.6,803.57 206.4,803.60 207.2,803.06 208.0,802.15 208.8,801.66 209.6,801.75 210.4,802.43 211.2,803.01 212.0,803.33 212.8,803.17 213.6,802.85 214.4,802.33 215.2,801.96 216.0,802.13 216.8,802.55 217.6,803.30 218.4,803.60 219.2,804.06 220.0,804.01 220.8,803.69 221.6,803.22 222.4,803.03 223.2,803.23 224.0,803.55 224.8,803.83 225.6,804.07 226.4,804.04 227.2,803.74 228.0,803.39 228.8,802.92 229.6,802.70 230.4,802.46 231.2,802.47 232.0,802.67 232.8,802.72 233.6,802.74 234.4,802.21 235.2,801.72 236.0,801.24 236.8,800.78 237.6,800.61 238.4,800.52 239.2,800.99 240.0,801.64 240.8,802.33 241.6,802.88 242.4,803.06 243.2,802.90 244.0,802.62 244.8,802.25 245.6,802.06 246.4,801.94 247.2,802.19 248.0,802.58 248.8,802.81 249.6,802.86 250.4,802.55 251.2,802.23 252.0,801.58 252.8,801.39 253.6,801.24 254.4,801.78 255.2,802.15 256.0,802.59 256.8,802.45 257.6,802.00 258.4,801.71 259.2,801.73 260.0,802.27 260.8,802.41 261.6,802.37 262.4,802.19 263.2,802.68 264.0,803.54 264.8,804.11 265.6,804.37 266.4,804.10 267.2,804.27 268.0,804.32 268.8,804.76 269.6,804.80 270.4,804.77 271.2,804.21 272.0,803.61 272.8,803.11 273.6,803.05 274.4,803.12 275.2,802.94 276.0,802.63 276.8,802.86 277.6,803.59 278.4,804.44 279.2,804.31 280.0,803.73 280.8,802.98 281.6,803.05 282.4,803.36 283.2,803.61 284.0,803.73 284.8,803.92 285.6,804.24 286.4,803.95 287.2,803.58 288.0,803.14 288.8,803.43 289.6,803.62 290.4,803.82 291.2,803.56 292.0,802.99 292.8,802.69 293.6,802.54 294.4,803.06 295.2,803.37 296.0,803.62 296.8,803.39 297.6,803.02 298.4,802.62 299.2,802.51 300.0,802.44 300.8,802.39 301.6,801.86 302.4,801.37 303.2,800.66 304.0,800.43 304.8,800.28 305.6,800.62 306.4,800.58 307.2,800.49 308.0,800.08 308.8,799.98 309.6,800.41 310.4,801.21 311.2,802.03 312.0,801.76 312.8,801.11 313.6,800.08 314.4,799.99 315.2,800.00 316.0,800.49 316.8,800.53 317.6,800.55 318.4,800.16 319.2,800.00 320.0,799.79 320.8,799.86 321.6,799.72 322.4,799.80 323.2,800.05 324.0,800.63 324.8,801.26 325.6,801.67 326.4,801.74 327.2,801.76 328.0,801.49 328.8,801.43 329.6,801.01 330.4,801.00 331.2,800.88 332.0,801.11 332.8,801.52 333.6,802.15 334.4,802.39 335.2,802.27 336.0,802.10 336.8,802.69 337.6,803.61 338.4,804.11 339.2,803.77 340.0,802.80 340.8,802.20 341.6,802.28 342.4,802.80 343.2,803.06 344.0,802.85 344.8,802.42 345.6,802.12 346.4,802.12 347.2,802.86 348.0,803.64 348.8,804.25 349.6,803.86 350.4,803.34 351.2,802.18 352.0,801.65 352.8,801.30 353.6,802.26 354.4,802.92 355.2,803.61 356.0,803.00 356.8,802.67 357.6,802.18 358.4,802.57 359.2,802.23 360.0,802.16 360.8,802.02 361.6,802.67 362.4,802.99 363.2,803.04 364.0,803.07 364.8,803.22 365.6,803.64 366.4,803.63 367.2,803.50 368.0,802.82 368.8,801.96 369.6,801.17 370.4,800.93 371.2,801.44 372.0,801.99 372.8,802.21 373.6,801.68 374.4,801.23 375.2,800.92 376.0,801.36 376.8,801.67 377.6,802.03 378.4,802.17 379.2,802.45 380.0,802.67 380.8,802.22 381.6,801.51 382.4,800.83 383.2,800.92 384.0,801.58 384.8,802.10 385.6,802.34 386.4,802.36 387.2,802.90 388.0,803.51 388.8,803.66 389.6,803.38 390.4,803.21 391.2,803.74 392.0,804.16 392.8,804.69 393.6,804.76 394.4,805.02 395.2,804.37 396.0,803.70 396.8,802.78 397.6,802.75 398.4,802.94 399.2,803.28 400.0,803.61 400.8,803.56 401.6,803.57 402.4,803.07 403.2,802.75 404.0,802.54 404.8,802.61 405.6,802.87 406.4,803.21 407.2,803.48 408.0,803.83 408.8,803.75 409.6,803.70 410.4,803.52 411.2,803.76 412.0,804.10 412.8,804.33 413.6,803.81 414.4,802.88 415.2,801.45 416.0,801.10 416.8,801.13 417.6,801.88 418.4,801.77 419.2,801.82 420.0,801.70 420.8,802.15 421.6,801.94 422.4,801.95 423.2,801.78 424.0,802.44 424.8,802.86 425.6,803.16 426.4,802.95 427.2,802.65 428.0,802.50 428.8,802.44 429.6,802.32 430.4,801.96 431.2,801.73 432.0,801.71 432.8,801.88 433.6,802.07 434.4,801.74 435.2,801.28 436.0,800.61 436.8,800.47 437.6,800.15 438.4,799.82 439.2,799.48 440.0,799.41 440.8,799.30 441.6,798.83 442.4,798.29 443.2,797.71 444.0,797.47 444.8,797.30 445.6,797.25 446.4,797.05 447.2,796.99 448.0,797.02 448.8,797.39 449.6,797.50 450.4,797.36 451.2,796.63 452.0,796.00 452.8,795.98 453.6,796.58 454.4,797.07 455.2,797.02 456.0,796.33 456.8,795.94 457.6,795.41 458.4,795.47 459.2,795.21 460.0,795.15 460.8,794.72 461.6,794.10 462.4,793.50 463.2,793.08 464.0,793.69 464.8,794.40 465.6,794.85 466.4,793.76 467.2,792.61 468.0,791.36 468.8,790.91 469.6,790.29 470.4,790.01 471.2,790.04 472.0,790.28 472.8,790.53 473.6,790.10 474.4,789.19 475.2,788.03 476.0,787.33 476.8,787.28 477.6,787.62 478.4,787.77 479.2,787.47 480.0,786.91 480.8,786.12 481.6,785.62 482.4,785.30 483.2,785.67 484.0,785.91 484.8,785.73 485.6,785.16 486.4,785.01 487.2,784.98 488.0,784.68 488.8,783.83 489.6,783.57 490.4,783.54 491.2,783.81 492.0,783.46 492.8,783.66 493.6,783.79 494.4,784.18 495.2,783.69 496.0,783.34 496.8,783.10 497.6,783.17 498.4,783.04 499.2,782.50 500.0,782.14 500.8,781.71 501.6,781.60 502.4,781.49 503.2,781.68 504.0,782.18 504.8,782.91 505.6,783.73 506.4,784.05 507.2,784.16 508.0,783.91 508.8,783.80 509.6,783.67 510.4,784.22 511.2,785.33 512.0,786.29 512.8,786.55 513.6,786.13 514.4,785.95 515.2,786.11 516.0,786.47 516.8,786.40 517.6,786.19 518.4,786.25 519.2,786.88 520.0,787.58 520.8,787.76 521.6,787.50 522.4,787.50 523.2,787.79 524.0,788.31 524.8,788.18 525.6,788.08 526.4,788.03 527.2,788.87 528.0,789.76 528.8,790.41 529.6,790.62 530.4,790.95 531.2,791.51 532.0,792.06 532.8,792.58 533.6,793.32 534.4,794.14 535.2,794.76 536.0,794.93 536.8,794.92 537.6,794.90 538.4,794.93 539.2,795.23 540.0,795.59 540.8,796.36 541.6,796.85 542.4,797.58 543.2,797.92 544.0,798.38 544.8,798.81 545.6,799.16 546.4,799.37 547.2,799.16 548.0,799.43 548.8,799.99 549.6,800.66 550.4,800.66 551.2,800.24 552.0,800.08 552.8,800.34 553.6,801.32 554.4,801.90 555.2,802.52 556.0,802.43 556.8,802.78 557.6,802.84 558.4,803.03 559.2,803.16 560.0,803.64 560.8,804.08 561.6,804.57 562.4,804.64 563.2,805.28 564.0,805.55 564.8,806.22 565.6,806.24 566.4,806.45 567.2,806.17 568.0,805.76 568.8,805.13 569.6,804.73 570.4,804.92 571.2,804.72 572.0,804.23 572.8,803.10 573.6,802.45 574.4,801.89 575.2,801.62 576.0,801.61 576.8,801.49 577.6,801.09 578.4,800.24 579.2,799.72 580.0,799.13 580.8,798.41 581.6,797.19 582.4,795.96 583.2,794.92 584.0,794.26 584.8,794.05 585.6,793.57 586.4,792.51 587.2,790.70 588.0,789.09 588.8,788.20 589.6,787.62 590.4,786.70 591.2,785.43 592.0,783.89 592.8,782.64 593.6,780.82 594.4,778.91 595.2,776.72 596.0,774.32 596.8,771.89 597.6,769.03 598.4,766.65 599.2,764.25 600.0,761.70 600.8,758.58 601.6,755.19 602.4,751.60 603.2,747.80 604.0,743.03 604.8,737.91 605.6,732.58 606.4,727.70 607.2,722.70 608.0,717.09 608.8,710.96 609.6,704.17 610.4,697.38 611.2,690.19 612.0,683.16 612.8,675.98 613.6,668.76 614.4,661.34 615.2,654.08 616.0,647.15 616.8,640.65 617.6,633.85 618.4,627.17 619.2,620.51 620.0,614.76 620.8,609.76 621.5,605.85 621.6,605.22 622.4,600.59 623.0,597.13 623.2,595.31 624.0,592.23 624.8,591.15 624.8,591.91 625.5,592.29 625.6,592.68 626.3,593.24 626.4,593.52 627.2,594.92 628.0,597.31 628.8,600.15 629.6,603.67 630.4,607.70 631.2,612.84 632.0,618.40 632.8,624.50 633.6,631.12 634.4,638.36 635.2,646.15 636.0,653.80 636.8,661.19 637.6,668.11 638.4,675.09 639.2,682.25 640.0,689.92 640.8,697.17 641.6,704.09 642.4,710.03 643.2,715.99 644.0,721.76 644.8,727.27 645.6,732.29 646.4,737.03 647.2,741.84 648.0,746.28 648.8,750.26 649.6,753.82 650.4,757.39 651.2,760.26 652.0,762.63 652.8,764.39 653.6,766.91 654.4,769.65 655.2,772.71 656.0,775.30 656.8,777.53 657.6,779.23 658.4,780.84 659.2,782.32 660.0,783.86 660.8,785.10 661.6,786.47 662.4,787.35 663.2,788.00 664.0,788.33 664.8,789.23 665.6,790.35 666.4,791.66 667.2,792.63 668.0,793.46 668.0,793.42 668.8,794.20 669.6,794.92 670.4,795.67 670.5,795.61 671.2,796.16 672.0,796.88 672.8,797.66 673.6,798.52 674.4,799.68 675.2,801.09 676.0,802.82 676.8,804.11 677.6,805.23 678.4,806.00 679.2,806.79 680.0,807.12 680.8,807.25 681.6,806.88 682.4,806.50 683.2,805.20 684.0,803.58 684.8,801.28 685.6,799.01 686.4,795.86 687.2,791.03 688.0,783.29 688.8,771.53 689.6,754.08 690.4,730.17 691.2,699.93 692.0,666.05 692.8,633.55 693.6,610.56 694.2,604.71 694.4,605.35 695.2,620.15 696.0,648.82 696.8,682.65 697.6,714.91 698.4,742.05 699.2,762.32 700.0,776.13 700.8,785.04 701.6,790.90 702.4,795.23 703.2,798.10 704.0,800.03 704.8,801.12 705.6,802.17 706.4,803.70 707.2,805.34 708.0,806.88 708.8,808.12 709.6,808.81 710.4,809.16 711.2,808.94 712.0,808.62 712.8,808.44 713.6,808.22 714.4,808.02 715.2,807.33 716.0,806.45 716.8,805.39 717.6,804.50 718.4,803.60 719.2,802.95 720.0,802.05 720.8,801.40 721.6,800.65 722.4,800.26 723.2,799.80 724.0,799.25 724.8,798.94 725.6,798.66 726.4,798.69 727.2,798.61 728.0,798.74 728.8,798.41 729.6,797.74 730.4,797.01 731.2,796.78 732.0,796.89 732.8,796.84 733.6,796.69 734.4,796.17 735.2,795.54 736.0,794.69 736.8,794.08 737.6,793.78 738.4,793.68 739.2,793.46 740.0,793.01 740.8,792.45 741.6,791.73 742.4,790.95 743.2,789.99 744.0,789.44 744.8,789.08 745.6,788.98 746.4,788.56 747.2,788.21 748.0,787.87 748.8,787.52 749.6,786.94 750.4,786.08 751.2,785.85 752.0,785.65 752.8,785.79 753.6,785.20 754.4,784.72 755.2,784.20 756.0,784.14 756.8,784.13 757.6,784.21 758.4,784.01 759.2,783.59 760.0,783.18 760.8,782.80 761.6,782.90 762.4,782.52 763.2,782.23 764.0,781.59 764.8,781.39 765.6,781.41 766.4,781.55 767.2,781.70 768.0,781.34 768.8,781.04 769.6,780.92 770.4,781.19 771.2,781.49 772.0,781.65 772.8,781.51 773.6,781.10 774.4,780.29 775.2,779.99 776.0,780.25 776.8,781.14 777.6,781.69 778.4,781.71 779.2,781.58 780.0,781.71 780.8,782.17 781.6,782.48 782.4,782.54 783.2,782.73 784.0,783.06 784.8,783.95 785.6,784.47 786.4,784.82 787.2,784.65 788.0,784.94 788.8,785.52 789.6,786.40 790.4,787.32 791.2,788.32 792.0,789.08 792.8,789.25 793.6,789.31 794.4,789.55 795.2,790.47 796.0,791.32 796.8,792.08 797.6,792.28 798.4,792.28 799.2,792.26 800.0,792.38 800.8,792.65 801.6,793.22 802.4,793.97 803.2,794.82 804.0,795.20 804.8,795.37 805.6,795.74 806.4,796.03 807.2,796.55 808.0,796.67 808.8,797.19 809.6,797.77 810.4,798.58 811.2,799.31 812.0,799.76 812.8,799.73 813.6,799.80 814.4,799.88 815.2,800.49 816.0,801.01 816.8,801.59 817.6,802.13 818.4,802.41 819.2,802.37 820.0,801.99 820.8,801.67 821.6,801.56 822.4,801.75 823.2,801.88 824.0,802.31 824.8,802.23 825.6,802.20 826.4,801.87 827.2,801.95 828.0,802.02 828.8,801.73 829.6,801.61 830.4,801.32 831.2,801.39 832.0,800.87 832.8,800.58 833.6,800.70 834.4,801.19 835.2,801.81 836.0,801.79 836.8,802.23 837.6,802.53 838.4,803.50 839.2,803.51 840.0,803.48 840.8,802.58 841.6,802.39 842.4,802.17 843.2,802.28 844.0,801.90 844.8,801.23 845.6,800.67 846.4,800.43 847.2,800.50 848.0,800.57 848.8,800.71 849.6,801.06 850.4,801.44 851.2,801.61 852.0,801.50 852.8,801.54 853.6,801.69 854.4,802.05 855.2,802.44 856.0,803.07 856.8,803.44 857.6,803.83 858.4,804.18 859.2,804.66 860.0,804.64 860.8,804.37 861.6,804.05 862.4,804.11 863.2,804.06 864.0,804.06 864.8,803.88 865.6,803.61 866.4,803.34 867.2,802.89 868.0,803.25 868.8,803.89 869.6,805.28 870.4,805.79 871.2,805.91 872.0,805.55 872.8,805.60 873.6,805.72 874.4,805.51 875.2,805.11 876.0,804.51 876.8,804.21 877.6,803.78 878.4,803.72 879.2,804.05 880.0,804.59 880.8,805.20 881.6,805.54 882.4,806.06 883.2,806.06 884.0,805.77 884.8,805.53 885.6,805.62 886.4,805.77 887.2,805.61 888.0,805.16 888.8,805.05 889.6,805.13 890.4,805.83 891.2,806.42 892.0,806.79 892.8,806.86 893.6,806.75 894.4,806.54 895.2,806.13 896.0,805.79 896.8,805.95 897.6,806.54 898.4,807.23 899.2,807.30 900.0,806.74 900.8,806.00 901.6,805.88 902.4,806.27 903.2,806.78 904.0,806.64 904.8,806.42 905.6,806.24 906.4,806.48 907.2,806.53 908.0,806.72 908.8,806.79 909.6,807.21 910.4,807.34 911.2,807.51 912.0,807.32 912.8,806.98 913.6,806.47 914.4,805.91 915.2,805.44 916.0,805.30 916.8,805.38 917.6,805.81 918.4,806.10 919.2,805.89 920.0,805.43 920.8,804.54 921.6,804.62 922.4,804.57 923.2,805.21 924.0,805.54 924.8,805.93 925.6,806.05 926.4,805.78 927.2,805.61 928.0,805.49 928.8,805.61 929.6,805.97 930.4,806.06 931.2,806.61 932.0,806.96 932.8,807.36 933.6,806.66 934.4,805.94 935.2,805.58 936.0,805.97 936.8,806.24 937.6,806.43 938.4,806.42 939.2,806.45 940.0,806.13 940.8,805.88 941.6,806.00 942.4,806.51 943.2,807.02 944.0,807.07 944.8,806.89 945.6,807.07 946.4,807.28 947.2,807.58 948.0,807.33 948.8,807.14 949.6,806.87 950.4,806.73 951.2,806.71 952.0,806.81 952.8,807.12 953.6,807.61 954.4,807.93 955.2,807.99 956.0,808.00 956.8,807.97 957.6,808.08 958.4,807.77 959.2,807.79 960.0,807.85 960.8,808.02 961.6,808.08 962.4,808.16 963.2,808.28 964.0,808.22 964.8,807.86 965.6,807.52 966.4,807.24 967.2,806.99 968.0,806.93 968.8,807.18 969.6,808.01 970.4,808.75 971.2,808.85 972.0,808.27 972.8,807.42" fill="none" stroke="#c00000" stroke-width="3.5" stroke-linejoin="round" stroke-linecap="round"/>
<polyline points="132.0,827.97 132.8,827.65 133.6,826.88 134.4,826.34 135.2,826.14 136.0,826.78 136.8,827.27 137.6,827.16 138.4,826.62 139.2,826.38 140.0,826.77 140.8,827.08 141.6,827.10 142.4,826.77 143.2,826.57 144.0,826.43 144.8,826.63 145.6,826.44 146.4,826.41 147.2,826.26 148.0,826.73 148.8,826.98 149.6,827.48 150.4,827.54 151.2,827.61 152.0,826.94 152.8,826.31 153.6,825.95 154.4,826.78 155.2,827.69 156.0,828.13 156.8,827.41 157.6,826.97 158.4,826.83 159.2,827.05 160.0,826.70 160.8,826.35 161.6,826.16 162.4,826.75 163.2,827.32 164.0,827.58 164.8,827.19 165.6,826.97 166.4,827.03 167.2,827.10 168.0,826.87 168.8,826.61 169.6,826.55 170.4,826.37 171.2,826.05 172.0,825.91 172.8,826.37 173.6,826.85 174.4,827.02 175.2,826.64 176.0,826.16 176.8,825.80 177.6,825.63 178.4,825.72 179.2,826.16 180.0,826.53 180.8,826.88 181.6,826.66 182.4,826.95 183.2,827.21 184.0,827.75 184.8,827.78 185.6,827.74 186.4,827.65 187.2,827.76 188.0,827.99 188.8,828.56 189.6,828.97 190.4,829.28 191.2,829.03 192.0,828.48 192.8,827.92 193.6,827.57 194.4,827.81 195.2,827.94 196.0,827.95 196.8,827.44 197.6,827.13 198.4,827.23 199.2,827.67 200.0,827.97 200.8,827.98 201.6,827.80 202.4,827.53 203.2,826.88 204.0,826.60 204.8,826.53 205.6,826.93 206.4,826.62 207.2,826.16 208.0,825.82 208.8,826.12 209.6,826.45 210.4,826.52 211.2,826.25 212.0,826.11 212.8,826.02 213.6,826.15 214.4,826.09 215.2,825.99 216.0,825.93 216.8,826.10 217.6,826.32 218.4,826.48 219.2,826.45 220.0,826.30 220.8,826.14 221.6,826.38 222.4,827.05 223.2,827.49 224.0,827.62 224.8,827.36 225.6,827.41 226.4,827.38 227.2,827.44 228.0,827.65 228.8,827.73 229.6,827.76 230.4,827.23 231.2,827.06 232.0,827.00 232.8,827.37 233.6,827.49 234.4,827.31 235.2,826.91 236.0,826.57 236.8,826.61 237.6,826.70 238.4,827.09 239.2,827.22 240.0,827.67 240.8,827.87 241.6,828.04 242.4,827.91 243.2,827.72 244.0,827.59 244.8,827.01 245.6,826.73 246.4,826.59 247.2,827.18 248.0,827.40 248.8,827.43 249.6,827.00 250.4,826.57 251.2,826.27 252.0,826.30 252.8,826.83 253.6,827.10 254.4,827.15 255.2,826.46 256.0,826.27 256.8,826.06 257.6,826.52 258.4,826.69 259.2,827.14 260.0,827.33 260.8,826.99 261.6,826.46 262.4,825.60 263.2,825.61 264.0,825.72 264.8,826.31 265.6,826.68 266.4,827.03 267.2,827.28 268.0,827.19 268.8,826.76 269.6,826.34 270.4,826.50 271.2,827.04 272.0,827.61 272.8,827.38 273.6,827.26 274.4,827.04 275.2,827.25 276.0,826.85 276.8,826.31 277.6,825.93 278.4,826.16 279.2,826.71 280.0,826.80 280.8,826.42 281.6,825.86 282.4,825.67 283.2,825.93 284.0,826.11 284.8,826.19 285.6,826.08 286.4,826.21 287.2,826.28 288.0,826.11 288.8,825.75 289.6,825.43 290.4,825.59 291.2,825.91 292.0,826.30 292.8,826.67 293.6,827.05 294.4,827.50 295.2,827.43 296.0,826.98 296.8,826.55 297.6,826.61 298.4,826.92 299.2,826.96 300.0,826.93 300.8,827.06 301.6,827.45 302.4,827.52 303.2,827.36 304.0,826.96 304.8,826.86 305.6,826.58 306.4,826.43 307.2,825.97 308.0,826.29 308.8,826.87 309.6,828.11 310.4,828.74 311.2,828.81 312.0,828.33 312.8,827.80 313.6,827.74 314.4,827.53 315.2,827.42 316.0,827.12 316.8,827.51 317.6,828.03 318.4,828.85 319.2,829.40 320.0,829.68 320.8,829.35 321.6,828.32 322.4,827.63 323.2,827.20 324.0,827.44 324.8,827.66 325.6,828.17 326.4,828.59 327.2,828.69 328.0,828.45 328.8,828.13 329.6,828.04 330.4,828.05 331.2,828.13 332.0,827.83 332.8,827.67 333.6,827.63 334.4,828.09 335.2,828.11 336.0,827.90 336.8,827.40 337.6,827.00 338.4,826.44 339.2,826.10 340.0,826.51 340.8,827.37 341.6,828.11 342.4,828.30 343.2,827.80 344.0,827.04 344.8,826.33 345.6,826.47 346.4,826.87 347.2,827.14 348.0,826.97 348.8,826.65 349.6,826.25 350.4,825.76 351.2,825.73 352.0,826.10 352.8,826.27 353.6,826.08 354.4,825.54 355.2,825.74 356.0,825.96 356.8,826.55 357.6,826.70 358.4,826.81 359.2,826.78 360.0,826.83 360.8,827.10 361.6,827.36 362.4,827.28 363.2,827.14 364.0,826.79 364.8,826.67 365.6,826.34 366.4,826.05 367.2,825.89 368.0,825.90 368.8,826.27 369.6,826.60 370.4,826.92 371.2,826.63 372.0,826.37 372.8,826.25 373.6,826.86 374.4,827.46 375.2,827.66 376.0,827.25 376.8,826.69 377.6,826.27 378.4,826.06 379.2,826.08 380.0,826.27 380.8,826.94 381.6,827.08 382.4,827.35 383.2,826.72 384.0,826.67 384.8,826.19 385.6,826.32 386.4,826.17 387.2,826.31 388.0,826.35 388.8,826.68 389.6,826.90 390.4,827.12 391.2,826.89 392.0,826.77 392.8,826.80 393.6,826.72 394.4,826.46 395.2,825.43 396.0,825.03 396.8,824.80 397.6,826.01 398.4,827.06 399.2,828.35 400.0,828.44 400.8,828.33 401.6,827.72 402.4,827.54 403.2,827.57 404.0,827.75 404.8,827.71 405.6,827.32 406.4,826.83 407.2,826.47 408.0,826.66 408.8,826.97 409.6,827.20 410.4,827.01 411.2,826.94 412.0,827.11 412.8,827.40 413.6,827.61 414.4,827.33 415.2,826.84 416.0,826.31 416.8,826.05 417.6,826.15 418.4,826.07 419.2,826.13 420.0,826.04 420.8,826.10 421.6,826.04 422.4,825.73 423.2,825.53 424.0,825.89 424.8,826.24 425.6,826.47 426.4,825.73 427.2,825.66 428.0,825.56 428.8,825.57 429.6,825.18 430.4,824.74 431.2,825.00 432.0,824.82 432.8,824.74 433.6,824.26 434.4,824.50 435.2,825.03 436.0,825.61 436.8,825.79 437.6,825.49 438.4,825.31 439.2,825.12 440.0,825.26 440.8,825.18 441.6,825.10 442.4,824.81 443.2,824.73 444.0,824.59 444.8,824.73 445.6,824.69 446.4,824.99 447.2,824.84 448.0,825.03 448.8,824.55 449.6,824.57 450.4,824.14 451.2,824.29 452.0,823.87 452.8,824.03 453.6,824.30 454.4,824.64 455.2,824.20 456.0,823.62 456.8,823.19 457.6,823.21 458.4,822.84 459.2,823.03 460.0,823.14 460.8,823.73 461.6,823.35 462.4,822.90 463.2,822.15 464.0,822.00 464.8,821.78 465.6,821.54 466.4,821.09 467.2,820.95 468.0,820.80 468.8,820.59 469.6,820.23 470.4,819.81 471.2,819.30 472.0,818.80 472.8,818.32 473.6,818.08 474.4,817.63 475.2,817.51 476.0,817.31 476.8,817.38 477.6,817.36 478.4,817.66 479.2,818.26 480.0,818.43 480.8,818.21 481.6,817.48 482.4,817.29 483.2,816.93 484.0,816.69 484.8,816.49 485.6,816.74 486.4,816.96 487.2,816.67 488.0,816.07 488.8,815.68 489.6,815.97 490.4,816.30 491.2,816.39 492.0,815.78 492.8,815.31 493.6,814.98 494.4,815.12 495.2,815.11 496.0,814.83 496.8,814.50 497.6,814.52 498.4,814.98 499.2,815.08 500.0,814.82 500.8,814.31 501.6,814.05 502.4,813.79 503.2,813.46 504.0,813.33 504.8,813.32 505.6,813.54 506.4,813.50 507.2,813.48 508.0,813.13 508.8,812.70 509.6,812.45 510.4,812.46 511.2,812.38 512.0,811.79 512.8,811.16 513.6,810.92 514.4,811.26 515.2,811.47 516.0,811.70 516.8,811.46 517.6,811.48 518.4,810.98 519.2,811.06 520.0,811.11 520.8,811.48 521.6,811.58 522.4,811.45 523.2,811.62 524.0,811.83 524.8,812.20 525.6,812.35 526.4,812.67 527.2,813.42 528.0,814.35 528.8,814.89 529.6,815.39 530.4,816.09 531.2,817.36 532.0,817.92 532.8,817.98 533.6,817.74 534.4,818.00 535.2,818.82 536.0,819.63 536.8,820.62 537.6,820.87 538.4,820.97 539.2,820.67 540.0,820.94 540.8,821.45 541.6,822.19 542.4,822.72 543.2,823.22 544.0,823.90 544.8,824.48 545.6,824.80 546.4,824.63 547.2,824.76 548.0,825.14 548.8,825.74 549.6,825.82 550.4,825.97 551.2,826.15 552.0,826.53 552.8,826.68 553.6,826.91 554.4,827.50 555.2,828.35 556.0,829.10 556.8,829.36 557.6,829.27 558.4,829.20 559.2,829.21 560.0,829.45 560.8,829.25 561.6,829.28 562.4,829.14 563.2,829.48 564.0,829.80 564.8,830.18 565.6,830.53 566.4,830.57 567.2,830.57 568.0,830.65 568.8,830.76 569.6,830.96 570.4,830.44 571.2,829.90 572.0,829.10 572.8,828.80 573.6,828.43 574.4,828.16 575.2,827.98 576.0,827.85 576.8,827.58 577.6,826.72 578.4,826.16 579.2,825.88 580.0,826.00 580.8,825.45 581.6,824.28 582.4,822.85 583.2,821.59 584.0,820.77 584.8,819.93 585.6,818.99 586.4,817.95 587.2,817.16 588.0,816.28 588.8,815.23 589.6,814.11 590.4,813.34 591.2,812.60 592.0,811.25 592.8,809.83 593.6,808.10 594.4,806.71 595.2,804.83 596.0,803.56 596.8,802.24 597.6,800.83 598.4,798.49 599.2,796.03 600.0,794.00 600.8,791.84 601.6,789.13 602.4,785.52 603.2,782.23 604.0,779.31 604.8,776.69 605.6,773.36 606.4,769.37 607.2,764.79 608.0,760.63 608.8,756.64 609.6,752.62 610.4,747.82 611.2,742.75 612.0,737.83 612.8,733.65 613.6,729.22 614.4,724.70 615.2,719.10 616.0,713.72 616.8,708.06 617.6,703.30 618.4,698.82 619.2,695.03 620.0,691.57 620.8,688.68 621.5,686.72 621.6,686.67 622.4,684.90 623.0,683.96 623.2,683.94 624.0,683.30 624.8,682.93 624.8,682.78 625.5,682.90 625.6,682.96 626.3,683.90 626.4,684.30 627.2,686.44 628.0,688.71 628.8,690.87 629.6,692.98 630.4,695.85 631.2,699.90 632.0,704.55 632.8,709.30 633.6,714.00 634.4,718.74 635.2,723.86 636.0,728.85 636.8,733.82 637.6,738.45 638.4,742.89 639.2,747.39 640.0,751.56 640.8,755.65 641.6,759.72 642.4,764.14 643.2,768.79 644.0,772.82 644.8,776.44 645.6,779.52 646.4,782.54 647.2,785.16 648.0,787.76 648.8,790.48 649.6,793.32 650.4,795.77 651.2,797.87 652.0,800.08 652.8,802.08 653.6,803.83 654.4,805.05 655.2,806.37 656.0,807.68 656.8,808.12 657.6,808.51 658.4,808.47 659.2,809.15 660.0,809.48 660.8,810.15 661.6,811.15 662.4,812.33 663.2,813.23 664.0,813.42 664.8,813.37 665.6,813.55 666.4,814.25 667.2,815.26 668.0,816.34 668.0,816.59 668.8,817.74 669.6,819.24 670.4,820.89 670.5,821.44 671.2,821.89 672.0,821.76 672.8,821.83 673.6,822.47 674.4,823.62 675.2,824.74 676.0,825.50 676.8,826.38 677.6,827.20 678.4,827.97 679.2,828.31 680.0,828.45 680.8,828.49 681.6,828.26 682.4,827.43 683.2,826.19 684.0,824.45 684.8,822.82 685.6,820.73 686.4,817.82 687.2,813.08 688.0,805.38 688.8,793.72 689.6,776.18 690.4,751.95 691.2,721.03 692.0,686.20 692.8,652.83 693.6,629.26 694.2,623.30 694.4,623.97 695.2,639.20 696.0,668.73 696.8,703.52 697.6,736.55 698.4,763.89 699.2,784.23 700.0,797.95 700.8,806.74 701.6,812.46 702.4,816.23 703.2,818.93 704.0,820.66 704.8,822.22 705.6,823.31 706.4,824.01 707.2,824.13 708.0,824.06 708.8,824.15 709.6,824.54 710.4,824.84 711.2,824.63 712.0,824.33 712.8,824.21 713.6,824.48 714.4,824.56 715.2,824.58 716.0,824.72 716.8,825.01 717.6,825.23 718.4,825.05 719.2,824.58 720.0,824.03 720.8,824.00 721.6,824.35 722.4,824.33 723.2,823.77 724.0,822.80 724.8,822.60 725.6,822.75 726.4,822.70 727.2,821.89 728.0,820.37 728.8,819.31 729.6,818.31 730.4,818.02 731.2,817.47 732.0,817.32 732.8,816.34 733.6,815.12 734.4,813.71 735.2,812.95 736.0,812.56 736.8,812.09 737.6,811.93 738.4,811.87 739.2,812.10 740.0,811.89 740.8,811.67 741.6,811.44 742.4,811.68 743.2,812.02 744.0,812.68 744.8,812.88 745.6,813.36 746.4,813.54 747.2,814.52 748.0,815.15 748.8,816.11 749.6,816.69 750.4,817.31 751.2,817.63 752.0,817.62 752.8,817.76 753.6,817.72 754.4,817.88 755.2,817.81 756.0,818.06 756.8,818.25 757.6,818.28 758.4,818.46 759.2,818.70 760.0,819.60 760.8,819.79 761.6,819.62 762.4,818.67 763.2,817.91 764.0,817.57 764.8,817.31 765.6,817.36 766.4,817.20 767.2,817.29 768.0,817.52 768.8,817.79 769.6,817.77 770.4,817.29 771.2,816.48 772.0,816.07 772.8,815.47 773.6,815.26 774.4,815.03 775.2,815.25 776.0,815.44 776.8,815.19 777.6,814.91 778.4,814.94 779.2,815.18 780.0,815.29 780.8,815.00 781.6,814.78 782.4,814.85 783.2,815.16 784.0,815.79 784.8,816.28 785.6,816.44 786.4,816.24 787.2,816.06 788.0,816.29 788.8,816.99 789.6,817.96 790.4,818.70 791.2,818.86 792.0,818.75 792.8,818.58 793.6,818.76 794.4,818.83 795.2,819.20 796.0,819.45 796.8,819.95 797.6,820.25 798.4,820.64 799.2,820.76 800.0,821.21 800.8,821.57 801.6,822.31 802.4,822.73 803.2,823.36 804.0,823.51 804.8,823.65 805.6,823.51 806.4,823.78 807.2,824.23 808.0,824.91 808.8,825.33 809.6,825.47 810.4,825.59 811.2,825.59 812.0,825.69 812.8,825.69 813.6,825.62 814.4,825.81 815.2,825.74 816.0,826.19 816.8,826.53 817.6,827.34 818.4,827.74 819.2,827.83 820.0,827.58 820.8,827.41 821.6,827.29 822.4,827.38 823.2,827.80 824.0,828.27 824.8,828.65 825.6,828.75 826.4,829.19 827.2,829.47 828.0,829.78 828.8,829.58 829.6,829.70 830.4,829.77 831.2,829.86 832.0,829.61 832.8,829.03 833.6,828.88 834.4,828.59 835.2,828.39 836.0,827.60 836.8,827.10 837.6,826.83 838.4,826.92 839.2,826.73 840.0,826.29 840.8,825.85 841.6,825.74 842.4,825.84 843.2,825.87 844.0,825.58 844.8,824.86 845.6,824.24 846.4,824.24 847.2,824.85 848.0,825.21 848.8,825.02 849.6,825.02 850.4,825.42 851.2,826.16 852.0,826.43 852.8,826.50 853.6,826.33 854.4,826.27 855.2,826.39 856.0,826.69 856.8,827.27 857.6,827.52 858.4,827.81 859.2,827.60 860.0,827.75 860.8,827.27 861.6,827.10 862.4,826.86 863.2,827.45 864.0,828.20 864.8,828.53 865.6,828.81 866.4,828.96 867.2,829.66 868.0,829.88 868.8,829.97 869.6,830.01 870.4,830.16 871.2,830.07 872.0,829.51 872.8,829.12 873.6,829.29 874.4,829.68 875.2,829.81 876.0,829.58 876.8,829.52 877.6,829.24 878.4,828.88 879.2,828.38 880.0,828.42 880.8,828.79 881.6,829.36 882.4,829.73 883.2,829.91 884.0,829.55 884.8,829.17 885.6,828.78 886.4,828.63 887.2,828.31 888.0,828.25 888.8,828.52 889.6,829.47 890.4,830.02 891.2,830.40 892.0,830.22 892.8,830.31 893.6,830.15 894.4,830.12 895.2,829.75 896.0,829.77 896.8,829.91 897.6,830.43 898.4,830.96 899.2,830.86 900.0,830.67 900.8,830.02 901.6,829.91 902.4,829.50 903.2,829.18 904.0,828.73 904.8,828.39 905.6,828.20 906.4,828.06 907.2,828.17 908.0,828.27 908.8,828.07 909.6,827.84 910.4,827.72 911.2,828.04 912.0,828.22 912.8,828.65 913.6,828.82 914.4,828.78 915.2,828.17 916.0,827.71 916.8,827.82 917.6,827.92 918.4,828.12 919.2,827.99 920.0,828.35 920.8,828.15 921.6,828.06 922.4,827.74 923.2,828.26 924.0,828.59 924.8,828.74 925.6,828.29 926.4,827.89 927.2,827.90 928.0,827.91 928.8,828.10 929.6,827.95 930.4,828.13 931.2,828.14 932.0,828.15 932.8,828.01 933.6,827.91 934.4,828.03 935.2,828.12 936.0,827.98 936.8,827.67 937.6,827.63 938.4,828.21 939.2,828.93 940.0,829.27 940.8,829.13 941.6,828.61 942.4,828.28 943.2,828.29 944.0,828.87 944.8,829.34 945.6,829.50 946.4,829.31 947.2,829.15 948.0,829.03 948.8,829.05 949.6,828.92 950.4,828.74 951.2,828.54 952.0,828.58 952.8,828.45 953.6,828.20 954.4,827.56 955.2,827.80 956.0,828.17 956.8,829.25 957.6,829.32 958.4,829.04 959.2,828.21 960.0,827.85 960.8,827.81 961.6,827.97 962.4,828.12 963.2,828.44 964.0,828.53 964.8,828.13 965.6,827.46 966.4,827.03 967.2,827.40 968.0,828.11 968.8,829.10 969.6,829.70 970.4,829.99 971.2,829.95 972.0,829.90 972.8,829.79" fill="none" stroke="#ff0000" stroke-width="3.5" stroke-linejoin="round" stroke-linecap="round"/>
<polyline points="132.0,850.21 132.8,850.11 133.6,850.07 134.4,850.12 135.2,850.12 136.0,849.81 136.8,849.36 137.6,849.05 138.4,849.11 139.2,849.36 140.0,849.70 140.8,849.88 141.6,850.00 142.4,850.28 143.2,850.78 144.0,851.18 144.8,851.17 145.6,850.76 146.4,850.54 147.2,850.39 148.0,850.41 148.8,850.18 149.6,849.72 150.4,849.41 151.2,849.65 152.0,850.42 152.8,851.11 153.6,851.20 154.4,851.23 155.2,851.01 156.0,851.04 156.8,850.82 157.6,850.57 158.4,850.35 159.2,850.19 160.0,850.23 160.8,850.26 161.6,850.31 162.4,850.75 163.2,851.08 164.0,851.35 164.8,851.04 165.6,850.65 166.4,850.32 167.2,850.64 168.0,851.42 168.8,852.17 169.6,852.07 170.4,851.41 171.2,850.90 172.0,850.72 172.8,850.57 173.6,850.46 174.4,850.63 175.2,850.92 176.0,850.47 176.8,849.49 177.6,848.85 178.4,849.09 179.2,849.68 180.0,849.75 180.8,849.45 181.6,849.22 182.4,849.51 183.2,849.75 184.0,849.87 184.8,849.75 185.6,849.65 186.4,849.49 187.2,849.17 188.0,849.26 188.8,849.47 189.6,849.92 190.4,849.96 191.2,850.07 192.0,849.96 192.8,849.91 193.6,849.80 194.4,849.94 195.2,850.12 196.0,849.77 196.8,849.54 197.6,848.98 198.4,848.83 199.2,848.38 200.0,848.63 200.8,849.21 201.6,849.99 202.4,850.55 203.2,850.87 204.0,851.11 204.8,850.90 205.6,850.53 206.4,850.48 207.2,851.24 208.0,852.28 208.8,852.62 209.6,852.30 210.4,851.66 211.2,851.56 212.0,851.45 212.8,851.55 213.6,851.51 214.4,851.39 215.2,851.29 216.0,850.57 216.8,850.30 217.6,849.89 218.4,850.25 219.2,850.52 220.0,850.75 220.8,850.81 221.6,850.53 222.4,850.41 223.2,850.04 224.0,850.15 224.8,850.07 225.6,850.48 226.4,850.46 227.2,850.73 228.0,850.77 228.8,851.05 229.6,850.96 230.4,850.70 231.2,849.92 232.0,849.69 232.8,849.43 233.6,849.82 234.4,849.87 235.2,850.04 236.0,850.50 236.8,850.89 237.6,851.59 238.4,851.69 239.2,851.83 240.0,851.22 240.8,850.69 241.6,850.25 242.4,850.38 243.2,850.29 244.0,849.98 244.8,849.46 245.6,849.09 246.4,848.84 247.2,848.69 248.0,849.07 248.8,849.97 249.6,850.90 250.4,851.18 251.2,850.83 252.0,850.65 252.8,850.75 253.6,850.86 254.4,850.50 255.2,850.23 256.0,850.57 256.8,851.14 257.6,851.12 258.4,850.36 259.2,849.72 260.0,849.86 260.8,850.33 261.6,850.73 262.4,850.58 263.2,849.87 264.0,849.12 264.8,848.61 265.6,848.92 266.4,849.06 267.2,849.29 268.0,848.93 268.8,848.89 269.6,848.72 270.4,849.12 271.2,849.65 272.0,850.24 272.8,850.31 273.6,850.21 274.4,850.15 275.2,850.52 276.0,850.60 276.8,850.75 277.6,850.74 278.4,850.94 279.2,850.87 280.0,850.47 280.8,849.88 281.6,849.26 282.4,849.07 283.2,849.18 284.0,849.48 284.8,849.65 285.6,849.66 286.4,849.33 287.2,849.14 288.0,849.17 288.8,849.62 289.6,849.89 290.4,850.00 291.2,850.15 292.0,850.01 292.8,849.68 293.6,849.11 294.4,849.43 295.2,850.05 296.0,850.82 296.8,850.68 297.6,850.55 298.4,850.49 299.2,850.70 300.0,850.51 300.8,850.25 301.6,850.43 302.4,851.27 303.2,852.09 304.0,852.70 304.8,852.71 305.6,852.47 306.4,852.07 307.2,852.07 308.0,852.19 308.8,852.23 309.6,852.09 310.4,851.83 311.2,851.32 312.0,850.59 312.8,850.26 313.6,850.02 314.4,850.32 315.2,850.04 316.0,850.21 316.8,849.68 317.6,849.71 318.4,849.64 319.2,850.34 320.0,851.10 320.8,851.56 321.6,851.49 322.4,851.02 323.2,850.84 324.0,850.72 324.8,850.90 325.6,850.93 326.4,851.26 327.2,851.36 328.0,851.54 328.8,851.19 329.6,850.80 330.4,850.06 331.2,849.65 332.0,849.41 332.8,849.77 333.6,849.92 334.4,850.54 335.2,850.70 336.0,851.39 336.8,851.25 337.6,850.91 338.4,849.97 339.2,849.43 340.0,849.28 340.8,849.53 341.6,849.36 342.4,849.48 343.2,849.38 344.0,849.49 344.8,849.42 345.6,849.29 346.4,849.47 347.2,849.62 348.0,850.52 348.8,851.41 349.6,852.20 350.4,851.82 351.2,851.11 352.0,850.37 352.8,850.40 353.6,850.71 354.4,851.15 355.2,851.09 356.0,851.23 356.8,850.90 357.6,850.94 358.4,850.34 359.2,850.40 360.0,850.09 360.8,849.82 361.6,849.19 362.4,848.99 363.2,849.05 364.0,849.07 364.8,848.99 365.6,849.27 366.4,849.76 367.2,850.01 368.0,849.66 368.8,849.69 369.6,850.09 370.4,850.85 371.2,850.95 372.0,851.14 372.8,851.42 373.6,851.57 374.4,851.08 375.2,850.18 376.0,849.81 376.8,849.63 377.6,849.68 378.4,849.47 379.2,849.66 380.0,849.91 380.8,850.21 381.6,849.96 382.4,849.55 383.2,849.49 384.0,850.06 384.8,850.75 385.6,850.52 386.4,849.79 387.2,848.88 388.0,848.99 388.8,849.12 389.6,849.40 390.4,849.17 391.2,849.65 392.0,850.26 392.8,850.99 393.6,850.73 394.4,850.18 395.2,849.64 396.0,849.46 396.8,849.43 397.6,849.49 398.4,849.80 399.2,850.16 400.0,850.46 400.8,850.52 401.6,850.34 402.4,849.68 403.2,848.98 404.0,848.62 404.8,849.05 405.6,849.89 406.4,850.50 407.2,850.60 408.0,850.38 408.8,850.49 409.6,850.81 410.4,851.10 411.2,851.12 412.0,851.20 412.8,851.27 413.6,850.77 414.4,850.28 415.2,849.93 416.0,850.42 416.8,850.48 417.6,850.14 418.4,849.44 419.2,849.07 420.0,849.35 420.8,849.50 421.6,849.85 422.4,849.71 423.2,850.11 424.0,849.92 424.8,849.97 425.6,849.68 426.4,849.93 427.2,849.87 428.0,849.58 428.8,849.21 429.6,849.13 430.4,849.12 431.2,848.99 432.0,848.92 432.8,849.31 433.6,849.52 434.4,849.51 435.2,848.94 436.0,848.96 436.8,849.24 437.6,849.84 438.4,849.83 439.2,849.65 440.0,849.49 440.8,849.50 441.6,849.72 442.4,849.35 443.2,848.68 444.0,847.33 444.8,846.61 445.6,846.41 446.4,847.22 447.2,848.07 448.0,848.70 448.8,848.66 449.6,848.23 450.4,848.07 451.2,847.98 452.0,848.07 452.8,847.64 453.6,847.36 454.4,847.09 455.2,847.02 456.0,846.76 456.8,846.45 457.6,846.34 458.4,846.47 459.2,846.50 460.0,846.49 460.8,846.35 461.6,846.44 462.4,846.45 463.2,846.74 464.0,846.96 464.8,847.26 465.6,847.03 466.4,846.56 467.2,845.80 468.0,845.75 468.8,845.82 469.6,846.28 470.4,846.03 471.2,845.66 472.0,844.91 472.8,844.10 473.6,843.52 474.4,843.07 475.2,842.85 476.0,842.91 476.8,843.33 477.6,843.84 478.4,843.81 479.2,843.12 480.0,842.44 480.8,842.02 481.6,842.06 482.4,841.94 483.2,841.68 484.0,841.44 484.8,841.10 485.6,840.80 486.4,840.37 487.2,840.35 488.0,840.57 488.8,841.07 489.6,841.27 490.4,841.21 491.2,841.23 492.0,841.11 492.8,841.36 493.6,841.11 494.4,841.41 495.2,841.22 496.0,841.19 496.8,840.68 497.6,840.30 498.4,840.01 499.2,839.82 500.0,840.09 500.8,840.51 501.6,840.72 502.4,840.22 503.2,839.40 504.0,839.36 504.8,839.92 505.6,840.59 506.4,840.76 507.2,840.76 508.0,840.91 508.8,840.85 509.6,840.64 510.4,839.68 511.2,838.78 512.0,837.54 512.8,837.26 513.6,837.37 514.4,838.06 515.2,837.93 516.0,837.10 516.8,836.00 517.6,835.59 518.4,835.81 519.2,836.33 520.0,836.29 520.8,836.21 521.6,835.86 522.4,836.33 523.2,836.83 524.0,837.65 524.8,838.08 525.6,838.12 526.4,838.21 527.2,838.77 528.0,840.16 528.8,841.45 529.6,842.17 530.4,842.46 531.2,842.70 532.0,843.40 532.8,843.83 533.6,844.37 534.4,844.34 535.2,844.49 536.0,844.40 536.8,844.48 537.6,844.47 538.4,844.52 539.2,844.77 540.0,845.10 540.8,845.50 541.6,845.68 542.4,845.77 543.2,846.10 544.0,846.53 544.8,846.96 545.6,846.78 546.4,846.67 547.2,846.68 548.0,847.01 548.8,847.09 549.6,847.17 550.4,847.31 551.2,847.68 552.0,847.73 552.8,847.48 553.6,846.67 554.4,846.49 555.2,846.86 556.0,848.29 556.8,849.26 557.6,849.92 558.4,849.78 559.2,849.71 560.0,849.23 560.8,848.84 561.6,848.42 562.4,848.77 563.2,849.59 564.0,850.49 564.8,850.93 565.6,850.78 566.4,850.55 567.2,850.07 568.0,849.62 568.8,849.09 569.6,849.05 570.4,849.24 571.2,849.69 572.0,849.93 572.8,850.16 573.6,850.07 574.4,850.10 575.2,849.69 576.0,849.53 576.8,849.11 577.6,849.13 578.4,848.72 579.2,848.40 580.0,847.94 580.8,848.07 581.6,848.15 582.4,848.28 583.2,847.92 584.0,847.54 584.8,847.07 585.6,846.55 586.4,845.83 587.2,845.02 588.0,844.48 588.8,844.01 589.6,843.34 590.4,842.38 591.2,841.18 592.0,839.81 592.8,838.59 593.6,837.50 594.4,836.75 595.2,835.32 596.0,833.86 596.8,831.89 597.6,830.87 598.4,829.44 599.2,828.04 600.0,825.56 600.8,823.46 601.6,821.09 602.4,818.82 603.2,816.07 604.0,813.52 604.8,811.05 605.6,808.33 606.4,805.43 607.2,802.27 608.0,799.29 608.8,796.21 609.6,793.67 610.4,791.16 611.2,788.85 612.0,786.01 612.8,783.32 613.6,780.95 614.4,778.75 615.2,776.70 616.0,774.32 616.8,772.36 617.6,770.46 618.4,768.93 619.2,767.79 620.0,766.89 620.8,766.20 621.5,765.30 621.6,765.11 622.4,764.88 623.0,765.39 623.2,765.51 624.0,765.65 624.8,765.68 624.8,765.73 625.5,766.36 625.6,766.41 626.3,767.07 626.4,767.08 627.2,768.44 628.0,769.88 628.8,771.74 629.6,773.86 630.4,776.32 631.2,778.45 632.0,780.51 632.8,782.36 633.6,784.56 634.4,787.22 635.2,790.42 636.0,793.66 636.8,796.56 637.6,799.07 638.4,801.63 639.2,804.13 640.0,806.63 640.8,808.94 641.6,811.41 642.4,813.78 643.2,816.51 644.0,818.60 644.8,821.00 645.6,822.88 646.4,825.21 647.2,826.85 648.0,828.49 648.8,829.90 649.6,831.68 650.4,833.31 651.2,834.88 652.0,836.10 652.8,837.18 653.6,837.58 654.4,837.89 655.2,837.96 656.0,838.64 656.8,838.97 657.6,838.95 658.4,838.00 659.2,836.47 660.0,834.90 660.8,833.06 661.6,831.51 662.4,829.87 663.2,828.72 664.0,827.96 664.8,827.04 665.6,826.30 666.4,825.33 667.2,825.25 668.0,825.21 668.0,825.27 668.8,825.96 669.6,827.41 670.4,828.56 670.5,828.36 671.2,829.49 672.0,831.43 672.8,833.64 673.6,835.32 674.4,836.72 675.2,837.96 676.0,839.16 676.8,840.16 677.6,840.92 678.4,841.12 679.2,841.02 680.0,840.46 680.8,840.22 681.6,839.89 682.4,839.61 683.2,839.03 684.0,838.51 684.8,837.91 685.6,836.97 686.4,835.27 687.2,832.49 688.0,827.56 688.8,818.71 689.6,803.95 690.4,782.06 691.2,753.02 692.0,719.04 692.8,685.43 693.6,661.12 694.2,654.93 694.4,655.65 695.2,671.83 696.0,702.61 696.8,738.03 697.6,770.80 698.4,797.05 699.2,815.64 700.0,827.73 700.8,834.99 701.6,839.70 702.4,842.52 703.2,844.34 704.0,845.35 704.8,845.92 705.6,846.36 706.4,846.58 707.2,846.86 708.0,846.77 708.8,846.57 709.6,846.45 710.4,846.81 711.2,847.25 712.0,847.38 712.8,847.17 713.6,846.95 714.4,846.89 715.2,846.73 716.0,846.13 716.8,845.60 717.6,845.45 718.4,845.55 719.2,845.43 720.0,844.80 720.8,844.29 721.6,843.59 722.4,842.73 723.2,841.71 724.0,840.92 724.8,840.66 725.6,840.56 726.4,840.49 727.2,840.12 728.0,839.44 728.8,838.78 729.6,838.37 730.4,838.25 731.2,838.15 732.0,837.86 732.8,837.69 733.6,837.57 734.4,837.20 735.2,836.53 736.0,835.74 736.8,835.80 737.6,836.28 738.4,837.13 739.2,837.82 740.0,838.44 740.8,838.67 741.6,838.90 742.4,839.66 743.2,840.57 744.0,841.36 744.8,841.39 745.6,841.65 746.4,841.94 747.2,842.34 748.0,842.86 748.8,843.66 749.6,844.92 750.4,846.16 751.2,846.94 752.0,847.34 752.8,847.53 753.6,847.55 754.4,847.44 755.2,847.23 756.0,847.29 756.8,847.40 757.6,847.53 758.4,847.90 759.2,848.24 760.0,848.19 760.8,847.65 761.6,847.25 762.4,847.14 763.2,847.16 764.0,847.09 764.8,847.11 765.6,847.46 766.4,847.90 767.2,848.34 768.0,848.17 768.8,848.13 769.6,848.03 770.4,847.97 771.2,847.30 772.0,846.44 772.8,845.87 773.6,845.67 774.4,845.65 775.2,845.68 776.0,845.61 776.8,845.60 777.6,845.29 778.4,845.29 779.2,845.08 780.0,845.38 780.8,845.02 781.6,845.03 782.4,844.48 783.2,844.63 784.0,844.40 784.8,844.65 785.6,844.76 786.4,844.63 787.2,844.37 788.0,844.16 788.8,844.82 789.6,845.49 790.4,846.10 791.2,846.25 792.0,846.35 792.8,846.33 793.6,846.59 794.4,846.89 795.2,847.64 796.0,847.89 796.8,848.51 797.6,848.56 798.4,848.93 799.2,848.79 800.0,848.95 800.8,849.00 801.6,849.03 802.4,848.99 803.2,848.86 804.0,849.08 804.8,849.26 805.6,849.38 806.4,849.10 807.2,848.81 808.0,848.73 808.8,849.05 809.6,849.43 810.4,849.98 811.2,849.98 812.0,849.77 812.8,849.33 813.6,849.11 814.4,849.12 815.2,848.98 816.0,849.08 816.8,849.04 817.6,848.98 818.4,848.91 819.2,848.71 820.0,848.68 820.8,848.76 821.6,849.13 822.4,849.43 823.2,849.54 824.0,849.58 824.8,849.55 825.6,849.43 826.4,849.56 827.2,850.45 828.0,851.72 828.8,852.54 829.6,852.77 830.4,852.29 831.2,851.95 832.0,851.66 832.8,851.94 833.6,852.13 834.4,851.64 835.2,850.77 836.0,849.68 836.8,849.50 837.6,849.39 838.4,849.73 839.2,849.39 840.0,849.50 840.8,849.15 841.6,849.22 842.4,849.03 843.2,849.26 844.0,849.18 844.8,848.70 845.6,848.14 846.4,847.99 847.2,847.78 848.0,847.37 848.8,846.27 849.6,846.15 850.4,846.14 851.2,846.85 852.0,846.84 852.8,846.94 853.6,846.72 854.4,846.85 855.2,846.85 856.0,846.90 856.8,846.80 857.6,847.09 858.4,847.94 859.2,848.72 860.0,848.89 860.8,848.57 861.6,848.59 862.4,849.22 863.2,850.00 864.0,850.20 864.8,850.18 865.6,849.96 866.4,850.03 867.2,849.68 868.0,849.17 868.8,848.99 869.6,849.51 870.4,850.33 871.2,850.88 872.0,851.01 872.8,851.10 873.6,851.28 874.4,851.62 875.2,851.86 876.0,851.94 876.8,851.76 877.6,851.71 878.4,851.58 879.2,851.88 880.0,851.93 880.8,852.20 881.6,851.80 882.4,851.47 883.2,851.02 884.0,851.04 884.8,851.07 885.6,850.92 886.4,850.66 887.2,850.55 888.0,850.90 888.8,851.42 889.6,851.76 890.4,851.46 891.2,850.77 892.0,849.92 892.8,849.55 893.6,849.55 894.4,850.14 895.2,850.70 896.0,850.83 896.8,850.49 897.6,849.87 898.4,849.66 899.2,849.51 900.0,850.06 900.8,850.22 901.6,850.64 902.4,850.15 903.2,850.23 904.0,849.83 904.8,850.03 905.6,849.72 906.4,849.76 907.2,849.47 908.0,849.56 908.8,849.83 909.6,850.51 910.4,851.11 911.2,851.08 912.0,850.50 912.8,849.45 913.6,849.19 914.4,849.37 915.2,850.05 916.0,850.27 916.8,850.24 917.6,850.26 918.4,850.80 919.2,851.41 920.0,851.96 920.8,852.09 921.6,852.04 922.4,851.77 923.2,851.04 924.0,850.53 924.8,850.23 925.6,850.68 926.4,850.97 927.2,850.85 928.0,850.06 928.8,849.13 929.6,848.60 930.4,848.73 931.2,848.93 932.0,848.68 932.8,848.14 933.6,847.87 934.4,848.33 935.2,848.41 936.0,848.75 936.8,848.81 937.6,849.50 938.4,849.87 939.2,850.07 940.0,850.13 940.8,850.34 941.6,850.82 942.4,851.06 943.2,850.75 944.0,850.08 944.8,849.65 945.6,849.73 946.4,849.94 947.2,850.21 948.0,850.33 948.8,850.64 949.6,850.70 950.4,850.84 951.2,850.60 952.0,850.68 952.8,850.63 953.6,851.06 954.4,851.11 955.2,851.30 956.0,851.29 956.8,851.38 957.6,851.17 958.4,850.55 959.2,849.99 960.0,849.59 960.8,849.75 961.6,850.23 962.4,850.49 963.2,850.62 964.0,850.23 964.8,850.51 965.6,850.91 966.4,851.12 967.2,850.62 968.0,849.85 968.8,849.60 969.6,850.04 970.4,850.51 971.2,850.91 972.0,850.65 972.8,850.39" fill="none" stroke="#d2009a" stroke-width="3.5" stroke-linejoin="round" stroke-linecap="round"/>
<polyline points="132.0,872.09 132.8,872.07 133.6,872.44 134.4,872.54 135.2,872.56 136.0,872.81 136.8,872.67 137.6,872.74 138.4,872.22 139.2,871.95 140.0,871.36 140.8,870.93 141.6,870.80 142.4,870.68 143.2,870.36 144.0,870.14 144.8,870.08 145.6,870.55 146.4,870.91 147.2,871.33 148.0,871.44 148.8,871.07 149.6,870.66 150.4,870.59 151.2,870.95 152.0,871.18 152.8,871.12 153.6,871.10 154.4,871.37 155.2,871.83 156.0,871.98 156.8,872.00 157.6,871.23 158.4,870.80 159.2,870.38 160.0,870.99 160.8,871.31 161.6,871.60 162.4,871.38 163.2,871.49 164.0,871.80 164.8,872.05 165.6,872.02 166.4,871.43 167.2,870.69 168.0,870.45 168.8,870.63 169.6,871.34 170.4,871.54 171.2,871.59 172.0,871.80 172.8,871.98 173.6,871.95 174.4,870.97 175.2,870.23 176.0,869.73 176.8,870.15 177.6,870.62 178.4,871.32 179.2,871.61 180.0,871.91 180.8,872.07 181.6,872.53 182.4,872.83 183.2,872.91 184.0,872.62 184.8,872.59 185.6,872.91 186.4,873.38 187.2,873.17 188.0,872.71 188.8,872.23 189.6,872.14 190.4,872.19 191.2,872.45 192.0,872.87 192.8,872.93 193.6,872.57 194.4,872.10 195.2,872.08 196.0,872.71 196.8,873.22 197.6,873.37 198.4,873.00 199.2,872.50 200.0,872.41 200.8,872.53 201.6,873.34 202.4,873.84 203.2,874.16 204.0,873.71 204.8,873.44 205.6,872.75 206.4,872.23 207.2,871.50 208.0,871.72 208.8,872.00 209.6,872.42 210.4,872.47 211.2,872.69 212.0,872.66 212.8,872.30 213.6,871.82 214.4,871.71 215.2,872.10 216.0,872.38 216.8,872.10 217.6,871.18 218.4,870.58 219.2,870.48 220.0,870.91 220.8,871.05 221.6,871.04 222.4,870.82 223.2,870.46 224.0,869.94 224.8,869.54 225.6,869.63 226.4,869.93 227.2,870.13 228.0,870.30 228.8,870.43 229.6,870.76 230.4,870.70 231.2,870.60 232.0,870.14 232.8,869.90 233.6,869.73 234.4,870.19 235.2,870.58 236.0,871.02 236.8,871.06 237.6,871.34 238.4,871.69 239.2,872.08 240.0,872.06 240.8,871.74 241.6,871.10 242.4,871.15 243.2,871.37 244.0,872.08 244.8,872.37 245.6,872.57 246.4,872.49 247.2,872.14 248.0,871.85 248.8,871.81 249.6,872.03 250.4,872.45 251.2,872.51 252.0,872.34 252.8,871.77 253.6,871.35 254.4,870.91 255.2,870.81 256.0,870.95 256.8,871.56 257.6,871.93 258.4,872.00 259.2,871.86 260.0,871.98 260.8,872.49 261.6,872.80 262.4,872.98 263.2,872.72 264.0,872.77 264.8,872.72 265.6,872.57 266.4,872.18 267.2,872.01 268.0,872.48 268.8,873.02 269.6,873.38 270.4,873.20 271.2,873.27 272.0,873.34 272.8,873.52 273.6,873.42 274.4,873.14 275.2,872.80 276.0,872.08 276.8,871.44 277.6,870.72 278.4,870.44 279.2,870.65 280.0,871.27 280.8,872.05 281.6,872.34 282.4,872.18 283.2,871.83 284.0,871.63 284.8,871.71 285.6,871.77 286.4,871.64 287.2,871.31 288.0,871.21 288.8,871.31 289.6,871.84 290.4,872.03 291.2,872.45 292.0,872.16 292.8,871.96 293.6,871.36 294.4,871.42 295.2,871.62 296.0,872.21 296.8,872.47 297.6,872.72 298.4,872.34 299.2,872.27 300.0,872.21 300.8,872.69 301.6,872.45 302.4,872.04 303.2,871.34 304.0,871.44 304.8,871.69 305.6,872.02 306.4,872.00 307.2,871.89 308.0,871.96 308.8,871.97 309.6,871.69 310.4,871.16 311.2,870.56 312.0,870.58 312.8,870.84 313.6,871.26 314.4,871.23 315.2,870.89 316.0,870.22 316.8,869.90 317.6,870.16 318.4,871.00 319.2,871.38 320.0,871.24 320.8,871.00 321.6,871.04 322.4,871.12 323.2,871.06 324.0,871.07 324.8,871.30 325.6,871.51 326.4,871.63 327.2,871.60 328.0,871.35 328.8,871.44 329.6,871.28 330.4,871.55 331.2,871.31 332.0,871.65 332.8,871.79 333.6,872.22 334.4,872.09 335.2,871.86 336.0,871.33 336.8,871.14 337.6,870.92 338.4,871.06 339.2,871.09 340.0,871.21 340.8,870.94 341.6,870.79 342.4,870.72 343.2,870.91 344.0,871.12 344.8,871.23 345.6,871.45 346.4,871.74 347.2,871.90 348.0,872.13 348.8,871.95 349.6,872.15 350.4,871.95 351.2,872.05 352.0,871.53 352.8,871.45 353.6,871.27 354.4,871.66 355.2,871.75 356.0,872.04 356.8,872.55 357.6,873.25 358.4,873.91 359.2,873.93 360.0,873.73 360.8,873.12 361.6,872.76 362.4,872.45 363.2,872.57 364.0,872.71 364.8,872.70 365.6,872.77 366.4,872.97 367.2,873.43 368.0,873.54 368.8,873.52 369.6,873.71 370.4,873.81 371.2,873.48 372.0,872.95 372.8,873.01 373.6,873.42 374.4,873.65 375.2,873.06 376.0,872.60 376.8,872.30 377.6,872.50 378.4,872.51 379.2,872.75 380.0,872.87 380.8,873.12 381.6,872.96 382.4,872.84 383.2,872.64 384.0,872.58 384.8,872.35 385.6,872.28 386.4,872.25 387.2,872.65 388.0,872.77 388.8,872.73 389.6,872.09 390.4,871.61 391.2,871.32 392.0,871.78 392.8,872.28 393.6,872.64 394.4,872.37 395.2,872.03 396.0,871.87 396.8,872.27 397.6,872.71 398.4,872.97 399.2,872.72 400.0,872.40 400.8,872.20 401.6,871.88 402.4,871.46 403.2,870.85 404.0,870.93 404.8,871.38 405.6,872.15 406.4,872.61 407.2,872.68 408.0,872.69 408.8,872.48 409.6,872.45 410.4,872.34 411.2,872.08 412.0,871.72 412.8,871.07 413.6,870.98 414.4,871.10 415.2,871.22 416.0,870.97 416.8,870.62 417.6,871.27 418.4,872.28 419.2,873.33 420.0,873.15 420.8,872.59 421.6,871.82 422.4,871.78 423.2,871.90 424.0,872.33 424.8,872.56 425.6,872.68 426.4,872.64 427.2,872.78 428.0,873.13 428.8,873.53 429.6,873.39 430.4,873.03 431.2,872.75 432.0,873.03 432.8,873.55 433.6,873.92 434.4,873.74 435.2,873.45 436.0,873.28 436.8,873.68 437.6,873.90 438.4,873.64 439.2,872.91 440.0,872.03 440.8,871.93 441.6,871.91 442.4,872.19 443.2,872.14 444.0,872.49 444.8,872.81 445.6,873.14 446.4,872.91 447.2,872.82 448.0,872.36 448.8,872.47 449.6,872.34 450.4,872.43 451.2,872.20 452.0,871.91 452.8,871.91 453.6,871.87 454.4,872.30 455.2,872.38 456.0,872.48 456.8,872.17 457.6,872.25 458.4,872.17 459.2,872.12 460.0,871.74 460.8,871.67 461.6,871.49 462.4,871.42 463.2,871.34 464.0,871.46 464.8,871.74 465.6,871.92 466.4,872.04 467.2,871.41 468.0,870.78 468.8,870.12 469.6,870.66 470.4,871.56 471.2,872.50 472.0,872.88 472.8,872.85 473.6,872.99 474.4,872.90 475.2,872.83 476.0,872.50 476.8,871.96 477.6,871.28 478.4,870.81 479.2,870.91 480.0,871.23 480.8,871.59 481.6,871.63 482.4,871.89 483.2,871.78 484.0,871.96 484.8,871.60 485.6,871.52 486.4,871.14 487.2,870.97 488.0,870.72 488.8,870.71 489.6,871.17 490.4,871.68 491.2,871.93 492.0,871.58 492.8,870.77 493.6,870.08 494.4,869.87 495.2,870.66 496.0,871.72 496.8,872.35 497.6,872.23 498.4,871.78 499.2,871.16 500.0,870.45 500.8,869.87 501.6,870.01 502.4,870.52 503.2,870.70 504.0,870.22 504.8,869.45 505.6,868.82 506.4,868.18 507.2,867.77 508.0,867.52 508.8,867.76 509.6,868.14 510.4,868.61 511.2,868.76 512.0,868.52 512.8,867.84 513.6,867.50 514.4,867.29 515.2,867.61 516.0,867.61 516.8,867.85 517.6,867.87 518.4,867.75 519.2,867.56 520.0,867.49 520.8,868.04 521.6,868.10 522.4,868.14 523.2,867.51 524.0,867.50 524.8,867.33 525.6,867.48 526.4,867.57 527.2,867.84 528.0,867.91 528.8,867.56 529.6,866.93 530.4,866.62 531.2,866.52 532.0,866.68 532.8,866.89 533.6,867.13 534.4,867.10 535.2,866.79 536.0,866.76 536.8,866.99 537.6,867.46 538.4,867.61 539.2,867.80 540.0,867.76 540.8,867.58 541.6,867.27 542.4,866.80 543.2,866.70 544.0,866.87 544.8,867.30 545.6,867.67 546.4,867.28 547.2,866.85 548.0,866.01 548.8,866.30 549.6,866.72 550.4,867.77 551.2,867.74 552.0,867.80 552.8,867.60 553.6,868.28 554.4,868.46 555.2,868.61 556.0,868.60 556.8,869.60 557.6,870.70 558.4,871.28 559.2,871.03 560.0,870.80 560.8,871.07 561.6,871.67 562.4,871.98 563.2,872.29 564.0,872.50 564.8,872.88 565.6,873.53 566.4,874.05 567.2,874.76 568.0,874.50 568.8,874.31 569.6,873.86 570.4,873.84 571.2,873.59 572.0,873.49 572.8,873.70 573.6,873.95 574.4,873.73 575.2,873.24 576.0,873.27 576.8,874.04 577.6,874.67 578.4,874.97 579.2,874.68 580.0,874.60 580.8,874.27 581.6,874.23 582.4,874.20 583.2,874.41 584.0,874.13 584.8,873.54 585.6,872.46 586.4,871.62 587.2,870.87 588.0,870.51 588.8,870.29 589.6,870.18 590.4,870.12 591.2,869.75 592.0,869.32 592.8,868.58 593.6,868.01 594.4,867.21 595.2,866.57 596.0,865.61 596.8,864.42 597.6,862.78 598.4,861.55 599.2,860.78 600.0,860.59 600.8,859.73 601.6,858.48 602.4,857.26 603.2,856.20 604.0,855.30 604.8,853.57 605.6,851.98 606.4,850.14 607.2,848.64 608.0,847.27 608.8,846.22 609.6,845.52 610.4,844.61 611.2,843.76 612.0,842.83 612.8,842.40 613.6,841.66 614.4,840.24 615.2,838.57 616.0,837.46 616.8,837.45 617.6,837.60 618.4,837.46 619.2,837.16 620.0,836.55 620.8,836.28 621.5,835.93 621.6,836.05 622.4,836.23 623.0,836.64 623.2,836.73 624.0,836.89 624.8,837.14 624.8,837.23 625.5,837.65 625.6,837.47 626.3,837.76 626.4,837.83 627.2,838.75 628.0,839.64 628.8,840.85 629.6,841.84 630.4,842.93 631.2,843.79 632.0,845.36 632.8,847.07 633.6,848.50 634.4,848.96 635.2,849.52 636.0,850.44 636.8,851.89 637.6,853.04 638.4,854.26 639.2,855.63 640.0,857.30 640.8,858.67 641.6,859.67 642.4,859.95 643.2,860.04 644.0,860.14 644.8,860.55 645.6,860.97 646.4,860.94 647.2,860.60 648.0,860.01 648.8,859.34 649.6,858.18 650.4,856.88 651.2,855.56 652.0,854.49 652.8,852.93 653.6,850.98 654.4,848.54 655.2,846.13 656.0,843.56 656.8,841.37 657.6,839.19 658.4,837.54 659.2,835.55 660.0,833.66 660.8,831.24 661.6,828.94 662.4,826.45 663.2,824.55 664.0,822.99 664.8,822.06 665.6,821.10 666.4,820.27 667.2,819.60 668.0,819.36 668.0,819.63 668.8,820.41 669.6,821.79 670.4,823.45 670.5,823.55 671.2,826.15 672.0,830.14 672.8,833.91 673.6,838.05 674.4,841.79 675.2,845.56 676.0,848.72 676.8,852.11 677.6,855.55 678.4,858.88 679.2,861.08 680.0,862.63 680.8,863.58 681.6,864.63 682.4,865.65 683.2,866.30 684.0,866.38 684.8,865.40 685.6,863.86 686.4,861.55 687.2,858.44 688.0,853.13 688.8,844.41 689.6,830.07 690.4,808.95 691.2,780.57 692.0,747.38 692.8,714.66 693.6,691.10 694.2,685.10 694.4,685.82 695.2,701.25 696.0,730.70 696.8,764.56 697.6,795.82 698.4,820.79 699.2,838.65 700.0,850.53 700.8,858.27 701.6,863.51 702.4,867.24 703.2,869.73 704.0,871.24 704.8,871.85 705.6,872.06 706.4,872.11 707.2,872.05 708.0,871.96 708.8,871.30 709.6,871.05 710.4,870.70 711.2,870.85 712.0,870.33 712.8,869.72 713.6,868.86 714.4,868.35 715.2,867.92 716.0,867.38 716.8,866.59 717.6,866.08 718.4,865.91 719.2,866.03 720.0,865.75 720.8,865.16 721.6,864.47 722.4,863.72 723.2,863.03 724.0,862.19 724.8,861.71 725.6,861.65 726.4,862.11 727.2,862.26 728.0,862.23 728.8,861.94 729.6,862.12 730.4,862.51 731.2,862.95 732.0,863.32 732.8,863.79 733.6,864.28 734.4,865.14 735.2,865.64 736.0,866.37 736.8,866.48 737.6,866.76 738.4,866.96 739.2,867.58 740.0,868.06 740.8,868.80 741.6,869.41 742.4,870.64 743.2,871.19 744.0,871.13 744.8,870.25 745.6,869.78 746.4,870.14 747.2,870.79 748.0,871.31 748.8,871.39 749.6,871.28 750.4,871.43 751.2,871.39 752.0,871.78 752.8,871.76 753.6,871.98 754.4,871.89 755.2,871.99 756.0,872.11 756.8,872.42 757.6,872.45 758.4,872.48 759.2,872.30 760.0,872.24 760.8,872.04 761.6,871.93 762.4,871.96 763.2,872.16 764.0,871.99 764.8,871.71 765.6,871.44 766.4,871.80 767.2,872.25 768.0,872.34 768.8,871.89 769.6,871.40 770.4,871.46 771.2,871.85 772.0,872.35 772.8,872.28 773.6,872.28 774.4,871.78 775.2,871.60 776.0,870.88 776.8,870.74 777.6,870.57 778.4,870.73 779.2,870.41 780.0,869.85 780.8,869.18 781.6,868.67 782.4,868.24 783.2,868.23 784.0,868.60 784.8,869.11 785.6,869.14 786.4,868.68 787.2,868.17 788.0,867.87 788.8,867.89 789.6,868.07 790.4,868.33 791.2,868.33 792.0,868.44 792.8,868.48 793.6,868.86 794.4,868.69 795.2,868.62 796.0,868.44 796.8,868.73 797.6,869.18 798.4,869.61 799.2,869.78 800.0,869.34 800.8,869.02 801.6,868.95 802.4,869.86 803.2,870.47 804.0,870.92 804.8,870.67 805.6,870.52 806.4,870.53 807.2,870.46 808.0,870.58 808.8,870.76 809.6,871.24 810.4,871.76 811.2,871.89 812.0,872.08 812.8,871.60 813.6,871.17 814.4,870.91 815.2,871.62 816.0,872.98 816.8,873.49 817.6,873.33 818.4,872.59 819.2,872.67 820.0,872.91 820.8,873.03 821.6,872.83 822.4,872.38 823.2,872.21 824.0,872.12 824.8,872.29 825.6,872.37 826.4,872.25 827.2,872.18 828.0,872.28 828.8,872.60 829.6,872.86 830.4,872.59 831.2,872.13 832.0,871.69 832.8,871.70 833.6,871.80 834.4,871.58 835.2,871.62 836.0,871.69 836.8,872.08 837.6,872.04 838.4,872.26 839.2,872.63 840.0,873.17 840.8,873.36 841.6,873.27 842.4,872.91 843.2,872.58 844.0,872.26 844.8,872.27 845.6,872.43 846.4,872.76 847.2,872.98 848.0,873.14 848.8,872.98 849.6,872.57 850.4,871.98 851.2,871.53 852.0,871.41 852.8,871.45 853.6,871.65 854.4,871.54 855.2,871.74 856.0,871.99 856.8,872.72 857.6,872.99 858.4,873.08 859.2,872.78 860.0,872.72 860.8,872.75 861.6,872.59 862.4,872.17 863.2,871.47 864.0,871.13 864.8,871.03 865.6,871.52 866.4,872.15 867.2,872.79 868.0,872.94 868.8,872.68 869.6,872.65 870.4,872.80 871.2,873.50 872.0,873.54 872.8,873.36 873.6,872.59 874.4,872.17 875.2,871.92 876.0,871.63 876.8,871.49 877.6,871.36 878.4,871.82 879.2,872.00 880.0,871.92 880.8,871.54 881.6,871.54 882.4,871.89 883.2,872.07 884.0,871.82 884.8,871.62 885.6,871.53 886.4,871.94 887.2,872.38 888.0,873.07 888.8,872.91 889.6,872.46 890.4,872.24 891.2,872.94 892.0,873.86 892.8,873.95 893.6,873.54 894.4,872.61 895.2,872.55 896.0,872.62 896.8,873.00 897.6,872.37 898.4,871.67 899.2,871.40 900.0,871.94 900.8,872.52 901.6,873.04 902.4,873.44 903.2,873.46 904.0,872.86 904.8,871.91 905.6,871.47 906.4,871.42 907.2,871.79 908.0,871.97 908.8,872.02 909.6,871.80 910.4,871.87 911.2,871.95 912.0,872.32 912.8,872.34 913.6,872.55 914.4,872.50 915.2,872.61 916.0,872.39 916.8,872.29 917.6,871.90 918.4,872.19 919.2,872.33 920.0,873.03 920.8,872.77 921.6,872.66 922.4,872.32 923.2,872.44 924.0,872.53 924.8,872.31 925.6,872.03 926.4,871.62 927.2,871.96 928.0,872.29 928.8,872.74 929.6,872.47 930.4,872.66 931.2,872.74 932.0,872.80 932.8,872.23 933.6,872.06 934.4,872.16 935.2,872.16 936.0,871.66 936.8,871.47 937.6,871.83 938.4,872.65 939.2,873.02 940.0,873.13 940.8,872.97 941.6,872.93 942.4,872.94 943.2,872.74 944.0,872.47 944.8,872.18 945.6,872.23 946.4,872.32 947.2,872.41 948.0,872.52 948.8,872.76 949.6,872.76 950.4,872.69 951.2,872.88 952.0,873.27 952.8,873.24 953.6,872.34 954.4,871.44 955.2,870.94 956.0,870.88 956.8,871.10 957.6,871.61 958.4,872.58 959.2,873.26 960.0,873.42 960.8,873.12 961.6,872.64 962.4,872.38 963.2,871.84 964.0,871.79 964.8,871.92 965.6,872.50 966.4,872.58 967.2,872.32 968.0,872.04 968.8,872.17 969.6,872.44 970.4,872.64 971.2,872.32 972.0,871.98 972.8,871.54" fill="none" stroke="#7030a0" stroke-width="3.5" stroke-linejoin="round" stroke-linecap="round"/>
<polyline points="132.0,894.66 132.8,894.27 133.6,894.22 134.4,894.27 135.2,895.21 136.0,895.27 136.8,895.06 137.6,894.09 138.4,893.73 139.2,893.31 140.0,893.06 140.8,893.49 141.6,894.11 142.4,894.85 143.2,894.71 144.0,894.76 144.8,894.69 145.6,894.98 146.4,895.19 147.2,895.35 148.0,895.39 148.8,895.07 149.6,895.06 150.4,895.00 151.2,895.32 152.0,895.59 152.8,895.81 153.6,895.96 154.4,895.81 155.2,895.44 156.0,895.00 156.8,894.91 157.6,895.26 158.4,895.46 159.2,895.48 160.0,895.23 160.8,894.94 161.6,894.54 162.4,894.29 163.2,894.53 164.0,894.70 164.8,894.61 165.6,894.14 166.4,893.92 167.2,894.00 168.0,894.24 168.8,894.54 169.6,895.02 170.4,895.32 171.2,895.69 172.0,895.67 172.8,896.08 173.6,896.04 174.4,895.93 175.2,895.31 176.0,894.85 176.8,894.50 177.6,894.18 178.4,894.07 179.2,893.88 180.0,893.85 180.8,893.59 181.6,893.69 182.4,893.78 183.2,894.00 184.0,894.19 184.8,894.44 185.6,894.69 186.4,894.63 187.2,894.61 188.0,894.74 188.8,895.21 189.6,895.42 190.4,895.40 191.2,895.33 192.0,895.44 192.8,895.89 193.6,896.05 194.4,896.14 195.2,895.54 196.0,895.07 196.8,894.62 197.6,894.72 198.4,894.49 199.2,894.58 200.0,894.68 200.8,895.38 201.6,895.68 202.4,895.87 203.2,895.81 204.0,895.87 204.8,895.83 205.6,895.37 206.4,894.93 207.2,894.67 208.0,895.20 208.8,895.82 209.6,896.07 210.4,895.49 211.2,894.77 212.0,894.60 212.8,895.06 213.6,895.24 214.4,895.20 215.2,895.03 216.0,895.29 216.8,895.75 217.6,896.53 218.4,897.09 219.2,897.16 220.0,896.50 220.8,895.95 221.6,895.58 222.4,895.54 223.2,895.26 224.0,895.42 224.8,895.74 225.6,896.32 226.4,896.20 227.2,896.12 228.0,896.37 228.8,896.93 229.6,897.09 230.4,896.74 231.2,896.46 232.0,896.16 232.8,895.69 233.6,895.24 234.4,895.06 235.2,895.11 236.0,895.07 236.8,895.23 237.6,895.72 238.4,896.26 239.2,896.69 240.0,896.60 240.8,896.54 241.6,895.84 242.4,895.59 243.2,895.30 244.0,895.45 244.8,895.12 245.6,895.08 246.4,895.44 247.2,896.17 248.0,896.48 248.8,896.08 249.6,895.41 250.4,894.55 251.2,894.15 252.0,893.96 252.8,894.38 253.6,894.95 254.4,895.67 255.2,896.43 256.0,896.69 256.8,896.61 257.6,895.89 258.4,895.34 259.2,894.91 260.0,894.78 260.8,894.69 261.6,894.75 262.4,894.94 263.2,895.09 264.0,894.72 264.8,894.04 265.6,893.40 266.4,893.53 267.2,893.74 268.0,894.14 268.8,894.32 269.6,894.76 270.4,894.90 271.2,894.56 272.0,893.55 272.8,892.37 273.6,891.59 274.4,891.70 275.2,892.32 276.0,892.92 276.8,892.91 277.6,892.55 278.4,892.02 279.2,892.09 280.0,892.27 280.8,892.99 281.6,893.16 282.4,893.77 283.2,893.96 284.0,894.62 284.8,895.00 285.6,895.30 286.4,895.09 287.2,894.53 288.0,894.12 288.8,894.21 289.6,894.57 290.4,895.04 291.2,895.22 292.0,895.28 292.8,895.39 293.6,895.20 294.4,895.17 295.2,894.88 296.0,895.08 296.8,895.05 297.6,895.16 298.4,895.18 299.2,895.16 300.0,894.74 300.8,894.46 301.6,894.51 302.4,895.29 303.2,895.93 304.0,896.50 304.8,896.57 305.6,896.25 306.4,895.79 307.2,895.26 308.0,895.26 308.8,895.15 309.6,895.29 310.4,895.12 311.2,895.35 312.0,895.19 312.8,894.84 313.6,894.01 314.4,893.77 315.2,894.10 316.0,894.80 316.8,895.56 317.6,896.10 318.4,896.56 319.2,896.31 320.0,896.01 320.8,895.67 321.6,895.88 322.4,895.96 323.2,896.01 324.0,896.03 324.8,896.08 325.6,895.72 326.4,895.12 327.2,894.84 328.0,895.26 328.8,895.59 329.6,895.97 330.4,896.03 331.2,896.14 332.0,895.47 332.8,894.97 333.6,894.66 334.4,894.85 335.2,894.86 336.0,894.80 336.8,894.81 337.6,894.78 338.4,894.64 339.2,894.41 340.0,894.08 340.8,894.14 341.6,894.08 342.4,894.34 343.2,893.90 344.0,893.68 344.8,893.18 345.6,893.58 346.4,893.97 347.2,894.77 348.0,894.60 348.8,894.21 349.6,893.46 350.4,893.25 351.2,893.56 352.0,893.94 352.8,894.50 353.6,894.58 354.4,894.73 355.2,894.76 356.0,894.76 356.8,894.82 357.6,894.85 358.4,895.17 359.2,895.38 360.0,895.30 360.8,895.08 361.6,894.97 362.4,895.11 363.2,895.02 364.0,894.77 364.8,894.51 365.6,894.84 366.4,895.23 367.2,895.86 368.0,895.93 368.8,895.86 369.6,895.40 370.4,895.20 371.2,895.33 372.0,895.50 372.8,895.48 373.6,895.31 374.4,895.43 375.2,895.99 376.0,896.18 376.8,896.08 377.6,895.46 378.4,895.32 379.2,895.21 380.0,895.31 380.8,895.00 381.6,894.66 382.4,894.40 383.2,894.49 384.0,894.58 384.8,894.67 385.6,894.76 386.4,894.99 387.2,894.92 388.0,894.78 388.8,894.68 389.6,894.84 390.4,894.75 391.2,894.50 392.0,894.14 392.8,894.21 393.6,894.59 394.4,895.26 395.2,895.81 396.0,895.97 396.8,895.73 397.6,895.34 398.4,895.03 399.2,894.89 400.0,894.63 400.8,894.51 401.6,894.44 402.4,894.92 403.2,895.44 404.0,895.86 404.8,895.74 405.6,895.36 406.4,895.23 407.2,895.25 408.0,895.90 408.8,896.04 409.6,896.05 410.4,895.13 411.2,894.72 412.0,894.55 412.8,894.70 413.6,894.49 414.4,894.10 415.2,894.13 416.0,894.25 416.8,894.18 417.6,893.85 418.4,893.87 419.2,894.56 420.0,894.92 420.8,894.86 421.6,894.30 422.4,894.26 423.2,894.40 424.0,894.64 424.8,894.77 425.6,894.86 426.4,894.92 427.2,894.70 428.0,894.51 428.8,894.49 429.6,894.71 430.4,894.94 431.2,895.24 432.0,895.56 432.8,895.87 433.6,895.96 434.4,895.84 435.2,895.74 436.0,895.45 436.8,895.27 437.6,894.97 438.4,894.90 439.2,894.70 440.0,894.57 440.8,894.44 441.6,894.68 442.4,895.02 443.2,895.64 444.0,896.07 444.8,896.35 445.6,895.98 446.4,895.46 447.2,895.10 448.0,895.08 448.8,895.37 449.6,895.36 450.4,895.51 451.2,895.30 452.0,895.31 452.8,895.17 453.6,895.19 454.4,895.29 455.2,895.61 456.0,895.95 456.8,896.25 457.6,895.89 458.4,895.30 459.2,894.74 460.0,894.65 460.8,894.66 461.6,894.41 462.4,893.97 463.2,893.77 464.0,893.86 464.8,894.06 465.6,894.27 466.4,894.57 467.2,894.96 468.0,894.81 468.8,894.32 469.6,893.79 470.4,893.97 471.2,894.36 472.0,894.61 472.8,894.37 473.6,893.67 474.4,893.11 475.2,892.91 476.0,893.53 476.8,893.96 477.6,894.30 478.4,894.37 479.2,894.44 480.0,894.50 480.8,894.07 481.6,893.95 482.4,893.89 483.2,894.43 484.0,894.80 484.8,894.84 485.6,894.56 486.4,894.37 487.2,894.77 488.0,895.49 488.8,896.04 489.6,895.97 490.4,895.23 491.2,894.46 492.0,894.26 492.8,894.34 493.6,894.59 494.4,894.48 495.2,894.49 496.0,894.33 496.8,894.03 497.6,893.82 498.4,893.53 499.2,893.60 500.0,893.41 500.8,893.48 501.6,893.09 502.4,893.00 503.2,892.67 504.0,893.24 504.8,893.85 505.6,894.66 506.4,894.59 507.2,894.33 508.0,894.04 508.8,894.56 509.6,894.75 510.4,895.05 511.2,894.23 512.0,894.35 512.8,894.24 513.6,895.35 514.4,895.68 515.2,896.39 516.0,896.29 516.8,896.66 517.6,896.60 518.4,896.27 519.2,895.41 520.0,894.46 520.8,894.51 521.6,895.00 522.4,895.94 523.2,896.25 524.0,896.33 524.8,896.11 525.6,896.17 526.4,896.30 527.2,896.56 528.0,896.12 528.8,895.55 529.6,894.95 530.4,895.02 531.2,895.23 532.0,895.40 532.8,895.23 533.6,895.10 534.4,894.75 535.2,894.56 536.0,894.18 536.8,894.34 537.6,894.64 538.4,895.14 539.2,895.00 540.0,894.53 540.8,894.03 541.6,894.15 542.4,894.23 543.2,894.03 544.0,893.31 544.8,892.99 545.6,892.89 546.4,893.01 547.2,892.60 548.0,892.32 548.8,891.69 549.6,891.52 550.4,890.96 551.2,891.00 552.0,890.94 552.8,891.09 553.6,890.94 554.4,890.55 555.2,890.11 556.0,889.73 556.8,889.45 557.6,888.92 558.4,888.05 559.2,887.62 560.0,887.94 560.8,888.79 561.6,889.22 562.4,889.23 563.2,889.41 564.0,889.50 564.8,889.61 565.6,889.38 566.4,889.80 567.2,890.49 568.0,891.37 568.8,891.95 569.6,892.05 570.4,892.64 571.2,893.29 572.0,894.80 572.8,895.26 573.6,895.57 574.4,895.51 575.2,896.32 576.0,897.11 576.8,897.24 577.6,896.75 578.4,896.24 579.2,896.49 580.0,896.76 580.8,897.09 581.6,897.03 582.4,897.27 583.2,897.67 584.0,897.94 584.8,897.97 585.6,897.62 586.4,897.75 587.2,898.11 588.0,898.64 588.8,898.88 589.6,899.06 590.4,899.28 591.2,899.41 592.0,899.38 592.8,899.48 593.6,899.67 594.4,899.82 595.2,899.64 596.0,899.34 596.8,899.26 597.6,899.43 598.4,899.59 599.2,899.47 600.0,899.20 600.8,899.23 601.6,899.38 602.4,899.76 603.2,899.68 604.0,899.58 604.8,898.90 605.6,898.21 606.4,897.35 607.2,896.92 608.0,896.81 608.8,896.80 609.6,896.55 610.4,895.93 611.2,895.24 612.0,894.78 612.8,894.73 613.6,894.33 614.4,893.85 615.2,893.13 616.0,893.50 616.8,893.83 617.6,894.08 618.4,893.44 619.2,892.77 620.0,892.14 620.8,891.66 621.5,891.19 621.6,890.89 622.4,890.42 623.0,890.25 623.2,890.02 624.0,889.86 624.8,889.57 624.8,889.91 625.5,889.64 625.6,889.48 626.3,888.74 626.4,888.43 627.2,888.04 628.0,888.39 628.8,888.63 629.6,888.73 630.4,888.37 631.2,888.34 632.0,888.31 632.8,888.22 633.6,887.73 634.4,887.45 635.2,886.93 636.0,886.19 636.8,885.33 637.6,885.24 638.4,885.58 639.2,886.07 640.0,886.02 640.8,885.71 641.6,884.95 642.4,884.20 643.2,883.90 644.0,884.08 644.8,884.07 645.6,883.66 646.4,882.89 647.2,882.65 648.0,882.15 648.8,881.57 649.6,880.22 650.4,879.39 651.2,878.80 652.0,878.38 652.8,877.08 653.6,875.48 654.4,873.58 655.2,871.85 656.0,869.67 656.8,867.50 657.6,865.54 658.4,863.80 659.2,861.94 660.0,859.58 660.8,856.83 661.6,853.73 662.4,850.30 663.2,846.91 664.0,843.96 664.8,841.49 665.6,839.34 666.4,837.13 667.2,835.23 668.0,833.67 668.0,833.66 668.8,832.30 669.6,831.48 670.4,831.13 670.5,831.32 671.2,831.63 672.0,832.53 672.8,833.31 673.6,834.52 674.4,835.64 675.2,837.54 676.0,839.61 676.8,842.51 677.6,845.08 678.4,847.79 679.2,850.06 680.0,852.82 680.8,855.52 681.6,858.15 682.4,860.27 683.2,862.34 684.0,863.92 684.8,865.53 685.6,866.69 686.4,867.64 687.2,866.89 688.0,863.21 688.8,855.08 689.6,840.98 690.4,819.71 691.2,791.00 692.0,757.06 692.8,723.48 693.6,699.33 694.2,693.48 694.4,694.39 695.2,711.13 696.0,742.40 696.8,778.19 697.6,811.01 698.4,837.12 699.2,855.79 700.0,868.15 700.8,875.71 701.6,880.27 702.4,882.68 703.2,884.10 704.0,884.42 704.8,884.73 705.6,885.08 706.4,885.81 707.2,886.45 708.0,887.10 708.8,887.82 709.6,888.90 710.4,890.10 711.2,891.09 712.0,891.59 712.8,891.82 713.6,892.00 714.4,892.60 715.2,892.92 716.0,892.86 716.8,892.06 717.6,891.56 718.4,891.82 719.2,892.61 720.0,893.44 720.8,893.62 721.6,893.56 722.4,893.35 723.2,893.55 724.0,893.92 724.8,894.34 725.6,894.73 726.4,894.85 727.2,894.73 728.0,894.04 728.8,893.59 729.6,893.34 730.4,893.48 731.2,893.74 732.0,894.20 732.8,895.00 733.6,895.47 734.4,895.65 735.2,895.41 736.0,895.28 736.8,895.07 737.6,894.75 738.4,894.13 739.2,893.52 740.0,893.48 740.8,893.85 741.6,894.59 742.4,894.71 743.2,894.49 744.0,894.19 744.8,894.58 745.6,895.40 746.4,895.74 747.2,895.41 748.0,894.62 748.8,894.16 749.6,893.54 750.4,893.38 751.2,893.28 752.0,893.71 752.8,893.75 753.6,893.48 754.4,893.00 755.2,892.96 756.0,893.35 756.8,894.10 757.6,894.28 758.4,894.33 759.2,893.84 760.0,893.74 760.8,893.73 761.6,893.74 762.4,893.82 763.2,893.77 764.0,894.25 764.8,894.50 765.6,894.63 766.4,894.56 767.2,894.57 768.0,894.62 768.8,894.49 769.6,894.47 770.4,894.71 771.2,894.99 772.0,895.00 772.8,894.70 773.6,894.31 774.4,893.69 775.2,893.20 776.0,892.95 776.8,893.16 777.6,893.18 778.4,892.93 779.2,892.49 780.0,892.26 780.8,891.95 781.6,891.62 782.4,891.10 783.2,890.45 784.0,889.88 784.8,889.38 785.6,889.12 786.4,888.54 787.2,888.18 788.0,887.80 788.8,887.90 789.6,887.74 790.4,888.26 791.2,888.62 792.0,889.27 792.8,889.40 793.6,889.79 794.4,890.18 795.2,890.56 796.0,890.62 796.8,890.91 797.6,891.10 798.4,891.58 799.2,891.41 800.0,891.74 800.8,891.69 801.6,892.18 802.4,892.31 803.2,892.96 804.0,893.51 804.8,893.89 805.6,893.95 806.4,893.71 807.2,893.80 808.0,894.07 808.8,894.86 809.6,895.40 810.4,895.79 811.2,895.76 812.0,895.91 812.8,895.87 813.6,895.79 814.4,895.31 815.2,894.51 816.0,893.84 816.8,893.51 817.6,894.27 818.4,894.56 819.2,894.89 820.0,894.15 820.8,894.08 821.6,893.64 822.4,893.82 823.2,893.72 824.0,894.13 824.8,894.33 825.6,894.62 826.4,894.73 827.2,894.92 828.0,894.97 828.8,894.95 829.6,894.80 830.4,894.81 831.2,894.61 832.0,894.41 832.8,893.65 833.6,893.25 834.4,892.85 835.2,893.48 836.0,894.11 836.8,894.79 837.6,894.96 838.4,894.69 839.2,894.70 840.0,894.40 840.8,894.39 841.6,894.09 842.4,894.47 843.2,895.15 844.0,895.90 844.8,896.03 845.6,895.88 846.4,895.65 847.2,895.73 848.0,895.49 848.8,895.40 849.6,895.38 850.4,895.56 851.2,895.58 852.0,895.66 852.8,896.13 853.6,896.75 854.4,896.97 855.2,896.60 856.0,896.23 856.8,895.96 857.6,896.00 858.4,895.74 859.2,895.56 860.0,895.31 860.8,895.34 861.6,895.39 862.4,895.44 863.2,895.44 864.0,895.44 864.8,895.38 865.6,895.27 866.4,895.32 867.2,895.71 868.0,896.17 868.8,896.33 869.6,896.08 870.4,896.02 871.2,896.27 872.0,896.56 872.8,896.31 873.6,895.70 874.4,895.30 875.2,894.95 876.0,894.87 876.8,894.57 877.6,894.65 878.4,894.85 879.2,895.53 880.0,896.00 880.8,895.90 881.6,895.17 882.4,894.33 883.2,893.86 884.0,893.74 884.8,893.88 885.6,894.27 886.4,894.59 887.2,894.88 888.0,895.06 888.8,895.34 889.6,895.63 890.4,895.81 891.2,895.98 892.0,895.96 892.8,895.71 893.6,895.13 894.4,894.55 895.2,894.42 896.0,894.82 896.8,895.35 897.6,895.45 898.4,894.84 899.2,894.53 900.0,894.36 900.8,894.83 901.6,895.00 902.4,895.26 903.2,895.33 904.0,895.33 904.8,895.26 905.6,895.35 906.4,895.34 907.2,895.53 908.0,895.51 908.8,895.73 909.6,895.51 910.4,895.49 911.2,895.23 912.0,895.62 912.8,895.47 913.6,895.44 914.4,894.74 915.2,894.64 916.0,894.55 916.8,894.85 917.6,894.52 918.4,894.21 919.2,893.78 920.0,893.96 920.8,893.94 921.6,894.00 922.4,893.72 923.2,894.20 924.0,894.53 924.8,895.46 925.6,895.66 926.4,896.05 927.2,895.59 928.0,895.21 928.8,894.73 929.6,894.44 930.4,894.41 931.2,894.15 932.0,894.34 932.8,893.83 933.6,893.77 934.4,893.61 935.2,894.42 936.0,894.98 936.8,895.22 937.6,895.01 938.4,894.96 939.2,895.07 940.0,895.25 940.8,895.24 941.6,895.28 942.4,895.22 943.2,895.17 944.0,895.05 944.8,895.29 945.6,895.51 946.4,896.08 947.2,896.13 948.0,896.03 948.8,895.38 949.6,894.92 950.4,895.09 951.2,895.30 952.0,895.40 952.8,894.80 953.6,894.34 954.4,893.93 955.2,894.00 956.0,894.48 956.8,895.12 957.6,895.69 958.4,895.47 959.2,894.95 960.0,894.07 960.8,894.04 961.6,894.20 962.4,894.43 963.2,893.97 964.0,893.91 964.8,894.00 965.6,894.35 966.4,893.95 967.2,894.02 968.0,894.26 968.8,895.10 969.6,895.27 970.4,895.17 971.2,894.81 972.0,894.67 972.8,894.69" fill="none" stroke="#2f5597" stroke-width="3.5" stroke-linejoin="round" stroke-linecap="round"/>
<polyline points="132.0,916.42 132.8,916.04 133.6,916.07 134.4,916.33 135.2,917.15 136.0,917.41 136.8,917.48 137.6,916.81 138.4,916.51 139.2,916.24 140.0,916.31 140.8,916.01 141.6,915.77 142.4,915.65 143.2,915.84 144.0,916.02 144.8,916.08 145.6,916.61 146.4,917.20 147.2,917.78 148.0,917.96 148.8,918.30 149.6,918.51 150.4,918.29 151.2,917.83 152.0,917.60 152.8,917.73 153.6,917.72 154.4,917.61 155.2,917.54 156.0,917.65 156.8,917.66 157.6,917.42 158.4,917.48 159.2,917.83 160.0,918.82 160.8,919.24 161.6,919.28 162.4,918.73 163.2,918.59 164.0,918.32 164.8,918.16 165.6,917.58 166.4,917.54 167.2,917.38 168.0,917.89 168.8,918.22 169.6,918.79 170.4,918.91 171.2,918.85 172.0,918.59 172.8,918.13 173.6,917.72 174.4,917.53 175.2,917.73 176.0,918.02 176.8,918.17 177.6,918.19 178.4,918.24 179.2,918.47 180.0,918.54 180.8,918.32 181.6,917.66 182.4,916.86 183.2,916.66 184.0,917.01 184.8,917.80 185.6,917.91 186.4,917.78 187.2,917.53 188.0,917.79 188.8,917.87 189.6,917.75 190.4,917.62 191.2,917.64 192.0,917.96 192.8,918.04 193.6,917.99 194.4,917.89 195.2,917.63 196.0,917.74 196.8,917.69 197.6,917.63 198.4,917.03 199.2,916.73 200.0,916.76 200.8,917.57 201.6,918.03 202.4,918.45 203.2,918.35 204.0,918.31 204.8,918.39 205.6,918.54 206.4,918.84 207.2,918.68 208.0,918.37 208.8,917.81 209.6,917.62 210.4,917.72 211.2,918.27 212.0,918.77 212.8,919.06 213.6,919.08 214.4,918.95 215.2,918.93 216.0,918.68 216.8,918.40 217.6,917.87 218.4,917.49 219.2,917.21 220.0,917.18 220.8,917.19 221.6,917.21 222.4,917.24 223.2,916.98 224.0,916.72 224.8,916.77 225.6,917.50 226.4,918.42 227.2,918.72 228.0,918.66 228.8,918.15 229.6,917.83 230.4,917.41 231.2,917.12 232.0,916.97 232.8,916.87 233.6,917.34 234.4,917.62 235.2,917.95 236.0,917.46 236.8,917.11 237.6,916.28 238.4,915.75 239.2,915.46 240.0,916.11 240.8,916.96 241.6,917.76 242.4,918.09 243.2,918.04 244.0,917.41 244.8,916.69 245.6,916.60 246.4,916.81 247.2,917.18 248.0,917.04 248.8,917.02 249.6,916.89 250.4,916.42 251.2,916.08 252.0,915.46 252.8,915.54 253.6,915.73 254.4,916.65 255.2,917.40 256.0,917.68 256.8,917.83 257.6,917.99 258.4,918.50 259.2,918.37 260.0,918.01 260.8,917.21 261.6,916.82 262.4,916.53 263.2,916.85 264.0,917.24 264.8,917.76 265.6,917.75 266.4,917.08 267.2,916.26 268.0,915.78 268.8,916.35 269.6,916.62 270.4,916.36 271.2,915.49 272.0,915.31 272.8,915.85 273.6,916.38 274.4,916.85 275.2,916.76 276.0,916.75 276.8,916.56 277.6,916.92 278.4,917.26 279.2,917.48 280.0,917.41 280.8,917.38 281.6,917.46 282.4,917.58 283.2,917.82 284.0,918.07 284.8,917.98 285.6,917.91 286.4,917.64 287.2,917.66 288.0,917.35 288.8,917.41 289.6,917.50 290.4,917.82 291.2,917.67 292.0,917.43 292.8,917.35 293.6,917.95 294.4,918.91 295.2,919.60 296.0,919.65 296.8,919.11 297.6,918.49 298.4,917.79 299.2,917.60 300.0,917.59 300.8,917.92 301.6,917.68 302.4,917.50 303.2,917.28 304.0,917.46 304.8,917.57 305.6,917.93 306.4,918.02 307.2,918.14 308.0,917.68 308.8,917.54 309.6,917.59 310.4,918.15 311.2,918.59 312.0,918.69 312.8,918.51 313.6,918.55 314.4,918.62 315.2,918.87 316.0,918.71 316.8,918.77 317.6,918.66 318.4,918.68 319.2,918.64 320.0,918.85 320.8,919.11 321.6,919.28 322.4,919.17 323.2,919.03 324.0,919.14 324.8,919.38 325.6,919.40 326.4,918.99 327.2,918.26 328.0,918.21 328.8,918.61 329.6,919.25 330.4,919.20 331.2,918.75 332.0,918.44 332.8,918.54 333.6,918.95 334.4,919.36 335.2,919.61 336.0,919.70 336.8,919.54 337.6,919.09 338.4,918.41 339.2,917.96 340.0,917.94 340.8,918.43 341.6,918.63 342.4,918.46 343.2,917.92 344.0,917.79 344.8,917.98 345.6,918.29 346.4,918.06 347.2,917.76 348.0,917.51 348.8,917.57 349.6,917.82 350.4,917.82 351.2,918.13 352.0,917.97 352.8,918.18 353.6,917.86 354.4,917.77 355.2,917.59 356.0,917.74 356.8,917.97 357.6,918.14 358.4,918.34 359.2,918.58 360.0,918.68 360.8,918.79 361.6,918.77 362.4,918.86 363.2,918.60 364.0,918.21 364.8,917.45 365.6,916.84 366.4,916.77 367.2,917.35 368.0,917.90 368.8,917.88 369.6,917.65 370.4,917.55 371.2,917.54 372.0,917.43 372.8,917.36 373.6,917.72 374.4,918.16 375.2,918.67 376.0,918.92 376.8,918.92 377.6,918.24 378.4,917.48 379.2,916.91 380.0,917.33 380.8,917.94 381.6,918.64 382.4,918.83 383.2,918.67 384.0,918.35 384.8,917.69 385.6,917.20 386.4,916.84 387.2,917.09 388.0,917.32 388.8,917.62 389.6,917.83 390.4,918.03 391.2,917.98 392.0,917.42 392.8,917.29 393.6,917.65 394.4,918.55 395.2,918.94 396.0,918.59 396.8,917.86 397.6,917.28 398.4,917.28 399.2,917.34 400.0,917.63 400.8,917.61 401.6,917.95 402.4,917.86 403.2,917.87 404.0,917.55 404.8,917.39 405.6,917.43 406.4,917.68 407.2,917.89 408.0,918.39 408.8,918.83 409.6,919.28 410.4,918.60 411.2,917.89 412.0,917.42 412.8,918.08 413.6,918.40 414.4,918.29 415.2,917.52 416.0,917.59 416.8,918.35 417.6,919.58 418.4,920.17 419.2,919.78 420.0,919.36 420.8,918.85 421.6,918.98 422.4,918.74 423.2,918.40 424.0,918.02 424.8,918.07 425.6,918.66 426.4,919.16 427.2,919.36 428.0,918.84 428.8,918.51 429.6,918.03 430.4,918.05 431.2,917.49 432.0,917.03 432.8,916.72 433.6,916.90 434.4,916.93 435.2,916.96 436.0,917.11 436.8,917.74 437.6,918.25 438.4,918.49 439.2,918.87 440.0,919.24 440.8,919.30 441.6,919.01 442.4,918.31 443.2,918.56 444.0,918.59 444.8,918.97 445.6,918.60 446.4,918.69 447.2,918.99 448.0,919.31 448.8,919.38 449.6,919.50 450.4,919.62 451.2,919.55 452.0,918.88 452.8,918.42 453.6,918.21 454.4,918.23 455.2,918.20 456.0,917.88 456.8,917.80 457.6,917.59 458.4,917.73 459.2,918.00 460.0,918.64 460.8,919.33 461.6,919.78 462.4,919.67 463.2,919.41 464.0,918.90 464.8,918.76 465.6,918.41 466.4,918.11 467.2,917.61 468.0,917.22 468.8,917.28 469.6,917.55 470.4,917.77 471.2,917.52 472.0,917.23 472.8,916.99 473.6,916.99 474.4,916.96 475.2,917.19 476.0,917.48 476.8,917.54 477.6,917.40 478.4,917.46 479.2,917.98 480.0,918.38 480.8,918.07 481.6,917.75 482.4,917.41 483.2,917.99 484.0,918.15 484.8,918.55 485.6,918.34 486.4,918.18 487.2,918.30 488.0,918.35 488.8,918.86 489.6,918.40 490.4,918.34 491.2,918.16 492.0,918.36 492.8,918.37 493.6,918.05 494.4,918.19 495.2,918.40 496.0,918.55 496.8,918.16 497.6,917.43 498.4,916.96 499.2,917.12 500.0,917.76 500.8,918.65 501.6,919.11 502.4,919.40 503.2,919.18 504.0,918.79 504.8,918.45 505.6,918.13 506.4,918.28 507.2,918.63 508.0,919.16 508.8,919.56 509.6,919.38 510.4,919.43 511.2,919.37 512.0,919.49 512.8,919.67 513.6,919.56 514.4,919.49 515.2,919.05 516.0,919.28 516.8,919.60 517.6,919.64 518.4,919.16 519.2,919.14 520.0,919.67 520.8,920.20 521.6,919.86 522.4,919.13 523.2,918.90 524.0,919.04 524.8,919.62 525.6,919.63 526.4,919.89 527.2,919.75 528.0,919.84 528.8,919.22 529.6,918.61 530.4,918.00 531.2,917.94 532.0,918.45 532.8,918.89 533.6,919.21 534.4,918.86 535.2,918.50 536.0,918.35 536.8,918.26 537.6,918.21 538.4,918.13 539.2,918.23 540.0,918.63 540.8,918.60 541.6,918.32 542.4,917.40 543.2,916.69 544.0,916.38 544.8,916.59 545.6,916.98 546.4,917.00 547.2,916.84 548.0,916.25 548.8,915.90 549.6,915.86 550.4,916.44 551.2,916.98 552.0,917.04 552.8,916.75 553.6,916.60 554.4,916.51 555.2,916.17 556.0,915.50 556.8,914.53 557.6,913.95 558.4,913.36 559.2,913.18 560.0,912.84 560.8,912.78 561.6,912.78 562.4,912.98 563.2,912.97 564.0,912.95 564.8,912.33 565.6,911.76 566.4,910.83 567.2,910.53 568.0,910.27 568.8,910.08 569.6,909.46 570.4,908.89 571.2,908.69 572.0,908.78 572.8,909.06 573.6,909.35 574.4,909.83 575.2,910.57 576.0,911.21 576.8,911.83 577.6,912.40 578.4,913.48 579.2,914.74 580.0,915.65 580.8,916.02 581.6,916.13 582.4,916.33 583.2,916.63 584.0,917.23 584.8,917.42 585.6,917.64 586.4,917.37 587.2,917.62 588.0,917.58 588.8,917.58 589.6,917.30 590.4,917.16 591.2,917.28 592.0,917.44 592.8,917.65 593.6,917.19 594.4,916.90 595.2,916.68 596.0,917.27 596.8,917.81 597.6,918.00 598.4,917.93 599.2,917.62 600.0,917.84 600.8,917.89 601.6,918.17 602.4,918.22 603.2,918.24 604.0,918.38 604.8,918.23 605.6,918.23 606.4,918.01 607.2,918.05 608.0,918.04 608.8,917.86 609.6,917.60 610.4,917.36 611.2,917.27 612.0,917.04 612.8,916.39 613.6,915.82 614.4,915.57 615.2,916.29 616.0,917.07 616.8,917.95 617.6,918.34 618.4,918.56 619.2,918.27 620.0,917.76 620.8,917.27 621.5,917.15 621.6,917.27 622.4,917.62 623.0,918.09 623.2,918.05 624.0,917.75 624.8,917.25 624.8,917.19 625.5,917.22 625.6,917.15 626.3,916.90 626.4,916.84 627.2,916.70 628.0,917.03 628.8,917.17 629.6,917.30 630.4,917.19 631.2,916.75 632.0,916.73 632.8,916.42 633.6,916.70 634.4,916.53 635.2,916.72 636.0,916.52 636.8,916.64 637.6,916.49 638.4,916.34 639.2,916.21 640.0,916.27 640.8,916.48 641.6,916.21 642.4,915.78 643.2,915.42 644.0,915.53 644.8,915.88 645.6,915.76 646.4,915.86 647.2,915.53 648.0,915.68 648.8,914.80 649.6,914.33 650.4,913.99 651.2,914.51 652.0,914.72 652.8,914.61 653.6,914.21 654.4,914.12 655.2,914.14 656.0,914.22 656.8,913.68 657.6,913.17 658.4,912.53 659.2,912.37 660.0,912.06 660.8,911.90 661.6,911.46 662.4,910.54 663.2,909.29 664.0,908.25 664.8,907.81 665.6,907.88 666.4,908.41 667.2,908.64 668.0,908.07 668.0,907.44 668.8,905.80 669.6,903.99 670.4,902.42 670.5,901.88 671.2,901.00 672.0,899.78 672.8,898.39 673.6,896.80 674.4,895.08 675.2,893.54 676.0,891.43 676.8,889.47 677.6,887.44 678.4,885.69 679.2,883.82 680.0,881.64 680.8,879.41 681.6,877.13 682.4,875.27 683.2,873.81 684.0,872.69 684.8,871.19 685.6,869.17 686.4,866.41 687.2,862.88 688.0,857.29 688.8,848.34 689.6,834.31 690.4,814.00 691.2,787.15 692.0,755.72 692.8,724.91 693.6,703.63 694.2,699.91 694.4,701.51 695.2,721.10 696.0,755.08 696.8,793.19 697.6,828.11 698.4,856.18 699.2,876.81 700.0,890.73 700.8,899.62 701.6,905.12 702.4,908.54 703.2,910.95 704.0,912.60 704.8,914.12 705.6,915.41 706.4,916.43 707.2,917.21 708.0,917.43 708.8,917.40 709.6,917.16 710.4,917.08 711.2,917.17 712.0,916.92 712.8,916.38 713.6,915.83 714.4,915.60 715.2,915.90 716.0,916.19 716.8,916.62 717.6,916.82 718.4,916.87 719.2,916.63 720.0,916.29 720.8,916.16 721.6,916.22 722.4,916.67 723.2,917.09 724.0,917.19 724.8,916.85 725.6,917.09 726.4,917.80 727.2,918.72 728.0,918.50 728.8,918.27 729.6,918.15 730.4,918.57 731.2,918.82 732.0,918.50 732.8,918.21 733.6,917.50 734.4,917.36 735.2,917.04 736.0,917.32 736.8,917.22 737.6,917.36 738.4,917.26 739.2,917.45 740.0,917.35 740.8,917.08 741.6,916.76 742.4,916.79 743.2,917.17 744.0,917.62 744.8,918.02 745.6,918.24 746.4,918.40 747.2,918.37 748.0,918.49 748.8,918.60 749.6,918.65 750.4,918.79 751.2,918.84 752.0,918.94 752.8,918.61 753.6,918.62 754.4,918.96 755.2,919.42 756.0,919.50 756.8,919.16 757.6,918.91 758.4,918.74 759.2,918.73 760.0,918.73 760.8,918.91 761.6,918.91 762.4,919.08 763.2,919.14 764.0,919.72 764.8,919.93 765.6,919.73 766.4,918.60 767.2,917.58 768.0,917.30 768.8,917.59 769.6,917.72 770.4,917.23 771.2,917.06 772.0,917.09 772.8,917.24 773.6,917.02 774.4,916.90 775.2,917.07 776.0,917.05 776.8,917.39 777.6,917.47 778.4,917.90 779.2,917.53 780.0,917.19 780.8,916.85 781.6,917.13 782.4,917.44 783.2,917.63 784.0,917.73 784.8,917.78 785.6,917.82 786.4,917.61 787.2,917.53 788.0,917.57 788.8,917.79 789.6,917.78 790.4,917.47 791.2,916.28 792.0,915.10 792.8,914.06 793.6,913.94 794.4,914.06 795.2,913.72 796.0,913.49 796.8,912.74 797.6,912.55 798.4,911.75 799.2,911.32 800.0,910.81 800.8,910.52 801.6,910.23 802.4,910.31 803.2,910.87 804.0,911.84 804.8,912.35 805.6,912.55 806.4,912.29 807.2,912.42 808.0,912.82 808.8,913.83 809.6,914.81 810.4,915.62 811.2,916.06 812.0,916.16 812.8,916.06 813.6,915.88 814.4,916.04 815.2,916.59 816.0,917.25 816.8,917.64 817.6,917.74 818.4,917.68 819.2,917.81 820.0,918.11 820.8,918.42 821.6,918.51 822.4,917.91 823.2,917.51 824.0,916.88 824.8,917.11 825.6,917.39 826.4,918.13 827.2,918.29 828.0,918.13 828.8,917.76 829.6,917.84 830.4,917.81 831.2,918.01 832.0,918.15 832.8,918.57 833.6,918.86 834.4,918.75 835.2,918.75 836.0,918.43 836.8,918.59 837.6,918.42 838.4,918.54 839.2,918.51 840.0,918.61 840.8,918.55 841.6,918.23 842.4,918.10 843.2,918.18 844.0,918.27 844.8,918.59 845.6,918.70 846.4,918.89 847.2,918.42 848.0,918.05 848.8,917.73 849.6,917.76 850.4,917.79 851.2,917.96 852.0,917.85 852.8,917.85 853.6,917.58 854.4,918.20 855.2,918.47 856.0,918.85 856.8,918.49 857.6,918.55 858.4,918.75 859.2,918.70 860.0,918.35 860.8,917.78 861.6,917.39 862.4,917.36 863.2,917.15 864.0,917.34 864.8,916.93 865.6,917.00 866.4,916.92 867.2,917.66 868.0,918.18 868.8,918.38 869.6,918.00 870.4,918.11 871.2,918.46 872.0,919.03 872.8,918.61 873.6,918.11 874.4,917.65 875.2,917.72 876.0,917.81 876.8,917.63 877.6,917.48 878.4,917.53 879.2,917.77 880.0,917.99 880.8,917.92 881.6,918.10 882.4,918.29 883.2,918.68 884.0,918.66 884.8,918.58 885.6,918.24 886.4,917.97 887.2,917.97 888.0,918.48 888.8,919.26 889.6,919.43 890.4,919.00 891.2,918.08 892.0,917.82 892.8,917.93 893.6,918.31 894.4,918.36 895.2,918.46 896.0,918.68 896.8,918.83 897.6,918.92 898.4,918.92 899.2,919.00 900.0,918.92 900.8,918.89 901.6,918.93 902.4,919.05 903.2,919.09 904.0,918.80 904.8,918.82 905.6,918.97 906.4,919.69 907.2,920.16 908.0,920.55 908.8,920.58 909.6,920.28 910.4,919.88 911.2,919.27 912.0,919.39 912.8,919.43 913.6,919.95 914.4,919.47 915.2,919.21 916.0,918.82 916.8,918.93 917.6,918.68 918.4,918.10 919.2,917.72 920.0,917.88 920.8,918.69 921.6,919.31 922.4,919.60 923.2,919.13 924.0,919.10 924.8,918.60 925.6,918.44 926.4,917.90 927.2,918.13 928.0,918.63 928.8,918.89 929.6,919.18 930.4,919.13 931.2,919.34 932.0,918.98 932.8,918.59 933.6,918.42 934.4,918.65 935.2,918.92 936.0,919.27 936.8,919.28 937.6,919.43 938.4,918.83 939.2,918.55 940.0,918.25 940.8,918.21 941.6,918.03 942.4,917.88 943.2,917.77 944.0,917.82 944.8,917.92 945.6,918.13 946.4,918.43 947.2,918.61 948.0,919.09 948.8,919.36 949.6,919.42 950.4,918.81 951.2,918.18 952.0,917.87 952.8,918.05 953.6,918.11 954.4,918.13 955.2,917.94 956.0,918.14 956.8,918.08 957.6,918.01 958.4,917.91 959.2,918.17 960.0,918.87 960.8,918.94 961.6,918.74 962.4,918.16 963.2,918.14 964.0,918.50 964.8,918.54 965.6,918.70 966.4,918.06 967.2,917.82 968.0,917.06 968.8,917.19 969.6,917.38 970.4,917.95 971.2,917.93 972.0,917.89 972.8,917.86" fill="none" stroke="#2e75b6" stroke-width="3.5" stroke-linejoin="round" stroke-linecap="round"/>
<polyline points="132.0,941.32 132.8,941.56 133.6,941.49 134.4,941.15 135.2,941.24 136.0,941.89 136.8,942.66 137.6,943.07 138.4,942.77 139.2,942.30 140.0,941.90 140.8,941.95 141.6,942.16 142.4,941.85 143.2,941.49 144.0,940.92 144.8,941.09 145.6,941.45 146.4,942.27 147.2,942.75 148.0,942.72 148.8,942.43 149.6,941.98 150.4,941.78 151.2,941.77 152.0,941.90 152.8,942.02 153.6,941.39 154.4,941.15 155.2,940.96 156.0,941.31 156.8,940.93 157.6,940.72 158.4,940.77 159.2,941.48 160.0,941.84 160.8,941.95 161.6,941.84 162.4,942.00 163.2,941.77 164.0,940.99 164.8,939.81 165.6,939.27 166.4,939.28 167.2,939.65 168.0,939.74 168.8,939.86 169.6,939.91 170.4,940.14 171.2,940.48 172.0,941.16 172.8,941.70 173.6,942.17 174.4,942.23 175.2,942.13 176.0,941.43 176.8,940.80 177.6,940.26 178.4,940.57 179.2,941.04 180.0,941.86 180.8,942.28 181.6,942.64 182.4,942.57 183.2,942.35 184.0,941.83 184.8,941.35 185.6,940.86 186.4,940.70 187.2,940.60 188.0,940.52 188.8,939.87 189.6,939.14 190.4,938.79 191.2,939.23 192.0,940.05 192.8,940.63 193.6,940.73 194.4,940.41 195.2,940.37 196.0,940.90 196.8,941.36 197.6,941.42 198.4,940.76 199.2,940.67 200.0,940.90 200.8,941.49 201.6,941.60 202.4,941.43 203.2,941.15 204.0,940.86 204.8,940.71 205.6,940.58 206.4,940.61 207.2,940.76 208.0,941.16 208.8,941.58 209.6,941.84 210.4,941.32 211.2,940.39 212.0,939.44 212.8,939.27 213.6,939.46 214.4,939.73 215.2,939.81 216.0,939.97 216.8,940.15 217.6,940.23 218.4,940.20 219.2,940.04 220.0,939.90 220.8,939.90 221.6,939.99 222.4,939.81 223.2,939.32 224.0,939.08 224.8,939.19 225.6,939.74 226.4,939.91 227.2,940.28 228.0,940.14 228.8,940.32 229.6,940.24 230.4,940.56 231.2,940.35 232.0,940.25 232.8,939.69 233.6,939.73 234.4,939.65 235.2,940.08 236.0,940.41 236.8,940.71 237.6,940.85 238.4,940.69 239.2,940.70 240.0,940.81 240.8,941.15 241.6,941.10 242.4,940.76 243.2,940.35 244.0,940.35 244.8,940.57 245.6,941.01 246.4,941.50 247.2,941.84 248.0,941.74 248.8,941.11 249.6,940.54 250.4,940.64 251.2,941.14 252.0,941.42 252.8,941.20 253.6,940.95 254.4,941.12 255.2,941.32 256.0,941.36 256.8,941.02 257.6,940.50 258.4,940.31 259.2,940.42 260.0,940.78 260.8,940.93 261.6,940.59 262.4,940.36 263.2,940.10 264.0,940.43 264.8,940.38 265.6,940.28 266.4,939.76 267.2,939.91 268.0,940.08 268.8,940.53 269.6,940.33 270.4,940.28 271.2,940.15 272.0,940.33 272.8,940.20 273.6,940.18 274.4,939.93 275.2,940.13 276.0,940.08 276.8,940.40 277.6,940.38 278.4,940.24 279.2,939.57 280.0,939.01 280.8,939.08 281.6,939.58 282.4,940.14 283.2,940.29 284.0,940.32 284.8,940.35 285.6,940.27 286.4,940.21 287.2,940.11 288.0,940.27 288.8,940.66 289.6,940.98 290.4,941.46 291.2,941.61 292.0,941.85 292.8,941.31 293.6,940.68 294.4,940.19 295.2,939.92 296.0,939.95 296.8,939.52 297.6,939.79 298.4,939.96 299.2,940.44 300.0,940.44 300.8,940.60 301.6,940.86 302.4,941.38 303.2,941.49 304.0,941.69 304.8,941.92 305.6,942.53 306.4,942.91 307.2,943.00 308.0,942.62 308.8,942.37 309.6,942.04 310.4,942.04 311.2,941.70 312.0,941.46 312.8,941.36 313.6,941.65 314.4,942.24 315.2,942.58 316.0,942.57 316.8,942.03 317.6,941.41 318.4,940.95 319.2,941.03 320.0,941.31 320.8,941.66 321.6,941.49 322.4,941.40 323.2,941.45 324.0,941.48 324.8,941.19 325.6,940.81 326.4,940.67 327.2,940.87 328.0,940.85 328.8,940.64 329.6,940.29 330.4,939.98 331.2,940.17 332.0,940.37 332.8,940.47 333.6,940.27 334.4,939.77 335.2,939.76 336.0,939.50 336.8,939.82 337.6,939.94 338.4,940.50 339.2,940.74 340.0,940.83 340.8,940.66 341.6,940.70 342.4,941.01 343.2,941.28 344.0,941.25 344.8,940.86 345.6,940.42 346.4,940.25 347.2,940.54 348.0,941.28 348.8,941.59 349.6,941.39 350.4,940.56 351.2,940.13 352.0,939.82 352.8,940.10 353.6,940.50 354.4,941.17 355.2,941.17 356.0,940.72 356.8,940.00 357.6,939.67 358.4,939.66 359.2,940.21 360.0,940.93 360.8,941.61 361.6,941.50 362.4,940.64 363.2,939.71 364.0,939.34 364.8,940.00 365.6,940.70 366.4,941.06 367.2,940.85 368.0,940.26 368.8,940.20 369.6,940.53 370.4,941.06 371.2,941.24 372.0,941.01 372.8,941.25 373.6,941.13 374.4,941.41 375.2,941.39 376.0,942.00 376.8,941.93 377.6,941.89 378.4,941.38 379.2,941.37 380.0,941.11 380.8,940.90 381.6,940.44 382.4,940.22 383.2,940.21 384.0,940.58 384.8,940.81 385.6,940.79 386.4,940.36 387.2,940.04 388.0,939.97 388.8,940.13 389.6,940.50 390.4,940.86 391.2,941.34 392.0,941.76 392.8,942.07 393.6,942.16 394.4,941.88 395.2,941.44 396.0,941.07 396.8,941.13 397.6,941.79 398.4,942.33 399.2,942.44 400.0,941.83 400.8,941.30 401.6,941.00 402.4,941.12 403.2,941.60 404.0,942.25 404.8,942.44 405.6,942.06 406.4,941.43 407.2,940.97 408.0,940.84 408.8,940.82 409.6,941.28 410.4,941.46 411.2,941.53 412.0,941.04 412.8,940.59 413.6,940.55 414.4,940.43 415.2,940.57 416.0,939.94 416.8,939.67 417.6,939.54 418.4,939.81 419.2,940.25 420.0,940.45 420.8,940.75 421.6,940.82 422.4,940.87 423.2,940.90 424.0,941.03 424.8,941.20 425.6,941.20 426.4,940.92 427.2,940.73 428.0,940.67 428.8,940.78 429.6,940.54 430.4,940.62 431.2,940.56 432.0,941.22 432.8,941.37 433.6,941.97 434.4,941.90 435.2,941.95 436.0,941.57 436.8,941.43 437.6,941.39 438.4,941.63 439.2,941.60 440.0,941.47 440.8,941.18 441.6,941.46 442.4,941.59 443.2,941.52 444.0,940.95 444.8,940.79 445.6,940.46 446.4,940.37 447.2,939.85 448.0,940.34 448.8,940.72 449.6,941.59 450.4,941.59 451.2,941.54 452.0,941.20 452.8,940.97 453.6,940.84 454.4,940.73 455.2,940.83 456.0,941.01 456.8,941.49 457.6,941.92 458.4,942.27 459.2,942.28 460.0,942.25 460.8,942.01 461.6,941.79 462.4,941.57 463.2,941.80 464.0,941.97 464.8,941.71 465.6,941.22 466.4,941.07 467.2,941.82 468.0,942.37 468.8,942.58 469.6,941.96 470.4,941.26 471.2,940.88 472.0,941.08 472.8,941.75 473.6,941.87 474.4,941.53 475.2,940.86 476.0,940.69 476.8,940.38 477.6,940.33 478.4,940.42 479.2,941.19 480.0,941.79 480.8,941.93 481.6,941.67 482.4,941.49 483.2,941.34 484.0,941.34 484.8,941.25 485.6,941.43 486.4,941.61 487.2,941.63 488.0,941.65 488.8,941.42 489.6,941.60 490.4,941.49 491.2,941.53 492.0,941.18 492.8,940.91 493.6,940.75 494.4,940.71 495.2,941.02 496.0,941.42 496.8,941.93 497.6,942.01 498.4,941.55 499.2,940.90 500.0,940.39 500.8,940.42 501.6,940.49 502.4,940.54 503.2,940.51 504.0,940.41 504.8,940.42 505.6,940.35 506.4,940.49 507.2,940.41 508.0,940.04 508.8,939.66 509.6,939.62 510.4,940.03 511.2,940.41 512.0,940.67 512.8,940.42 513.6,940.09 514.4,939.70 515.2,939.58 516.0,939.76 516.8,939.90 517.6,940.12 518.4,939.79 519.2,939.56 520.0,939.14 520.8,939.14 521.6,938.96 522.4,939.05 523.2,939.40 524.0,939.92 524.8,940.57 525.6,940.61 526.4,941.06 527.2,940.86 528.0,941.24 528.8,940.92 529.6,941.13 530.4,940.94 531.2,941.01 532.0,940.61 532.8,940.03 533.6,939.55 534.4,939.60 535.2,939.77 536.0,939.74 536.8,939.87 537.6,940.43 538.4,941.12 539.2,941.22 540.0,940.76 540.8,940.65 541.6,940.65 542.4,941.21 543.2,941.24 544.0,941.40 544.8,940.99 545.6,940.67 546.4,940.79 547.2,941.21 548.0,941.73 548.8,941.48 549.6,941.40 550.4,941.22 551.2,941.10 552.0,940.75 552.8,940.71 553.6,941.11 554.4,941.32 555.2,941.38 556.0,940.91 556.8,940.85 557.6,940.52 558.4,941.03 559.2,941.15 560.0,941.94 560.8,942.04 561.6,942.52 562.4,941.67 563.2,941.11 564.0,940.34 564.8,940.57 565.6,940.40 566.4,940.17 567.2,940.16 568.0,940.94 568.8,941.69 569.6,941.95 570.4,941.34 571.2,941.21 572.0,941.03 572.8,941.64 573.6,941.58 574.4,941.69 575.2,941.45 576.0,941.43 576.8,941.60 577.6,941.43 578.4,941.35 579.2,940.70 580.0,940.58 580.8,940.58 581.6,940.98 582.4,940.77 583.2,940.64 584.0,940.66 584.8,941.36 585.6,941.82 586.4,941.45 587.2,940.67 588.0,939.87 588.8,940.22 589.6,940.70 590.4,941.28 591.2,941.24 592.0,941.18 592.8,940.87 593.6,940.81 594.4,940.75 595.2,940.99 596.0,941.28 596.8,941.66 597.6,941.98 598.4,941.66 599.2,941.15 600.0,940.71 600.8,941.01 601.6,941.46 602.4,941.57 603.2,941.29 604.0,940.97 604.8,940.80 605.6,940.31 606.4,940.00 607.2,939.93 608.0,940.61 608.8,940.97 609.6,940.76 610.4,940.43 611.2,940.02 612.0,940.32 612.8,940.17 613.6,940.22 614.4,939.90 615.2,940.06 616.0,940.29 616.8,940.55 617.6,940.37 618.4,940.32 619.2,940.27 620.0,940.53 620.8,940.31 621.5,939.92 621.6,939.40 622.4,939.00 623.0,939.01 623.2,939.19 624.0,939.81 624.8,939.98 624.8,940.01 625.5,939.63 625.6,939.81 626.3,939.88 626.4,939.95 627.2,939.73 628.0,939.95 628.8,940.31 629.6,940.64 630.4,940.88 631.2,941.53 632.0,941.67 632.8,941.45 633.6,940.52 634.4,940.38 635.2,940.18 636.0,940.66 636.8,940.81 637.6,941.47 638.4,941.60 639.2,941.97 640.0,942.08 640.8,942.14 641.6,941.93 642.4,941.60 643.2,941.16 644.0,940.89 644.8,940.65 645.6,940.95 646.4,940.92 647.2,940.82 648.0,940.36 648.8,939.89 649.6,939.81 650.4,940.20 651.2,941.08 652.0,941.45 652.8,941.49 653.6,941.20 654.4,941.09 655.2,940.48 656.0,940.02 656.8,940.08 657.6,940.86 658.4,941.43 659.2,941.29 660.0,940.85 660.8,940.54 661.6,940.56 662.4,940.64 663.2,940.93 664.0,940.94 664.8,941.14 665.6,941.02 666.4,941.17 667.2,940.95 668.0,940.72 668.0,940.77 668.8,940.85 669.6,941.25 670.4,941.24 670.5,941.45 671.2,941.43 672.0,941.00 672.8,940.58 673.6,939.87 674.4,940.01 675.2,940.15 676.0,940.42 676.8,940.31 677.6,940.16 678.4,940.16 679.2,940.07 680.0,939.86 680.8,939.60 681.6,939.47 682.4,939.28 683.2,938.78 684.0,937.88 684.8,936.55 685.6,934.93 686.4,932.81 687.2,929.48 688.0,924.03 688.8,914.53 689.6,898.69 690.4,873.72 691.2,838.66 692.0,795.74 692.8,751.74 693.6,719.00 694.2,710.43 694.4,711.44 695.2,733.04 696.0,773.24 696.8,817.73 697.6,857.09 698.4,886.91 699.2,906.80 700.0,918.66 700.8,925.42 701.6,929.50 702.4,932.02 703.2,933.42 704.0,933.96 704.8,934.41 705.6,935.26 706.4,936.49 707.2,937.80 708.0,938.66 708.8,939.08 709.6,939.17 710.4,939.21 711.2,939.32 712.0,939.30 712.8,939.46 713.6,939.92 714.4,940.81 715.2,941.14 716.0,941.11 716.8,940.41 717.6,940.27 718.4,940.08 719.2,940.21 720.0,940.00 720.8,939.65 721.6,939.77 722.4,940.35 723.2,941.10 724.0,941.16 724.8,940.72 725.6,940.47 726.4,940.32 727.2,940.51 728.0,940.40 728.8,940.65 729.6,940.24 730.4,940.05 731.2,939.53 732.0,939.95 732.8,939.82 733.6,939.86 734.4,939.38 735.2,939.70 736.0,940.08 736.8,940.73 737.6,941.22 738.4,941.53 739.2,941.54 740.0,941.32 740.8,941.24 741.6,941.18 742.4,941.01 743.2,940.44 744.0,940.08 744.8,940.07 745.6,940.46 746.4,940.58 747.2,940.63 748.0,940.45 748.8,940.29 749.6,939.87 750.4,939.97 751.2,940.14 752.0,940.16 752.8,939.67 753.6,939.58 754.4,939.88 755.2,939.88 756.0,939.42 756.8,938.80 757.6,938.83 758.4,938.58 759.2,938.52 760.0,938.30 760.8,938.65 761.6,938.71 762.4,938.69 763.2,938.52 764.0,938.71 764.8,938.67 765.6,938.44 766.4,937.72 767.2,937.65 768.0,937.72 768.8,937.97 769.6,937.57 770.4,937.16 771.2,937.08 772.0,937.21 772.8,937.34 773.6,937.17 774.4,937.43 775.2,937.97 776.0,938.83 776.8,939.14 777.6,939.47 778.4,939.53 779.2,939.61 780.0,939.31 780.8,939.26 781.6,939.50 782.4,939.66 783.2,939.70 784.0,939.51 784.8,939.79 785.6,940.13 786.4,940.47 787.2,940.44 788.0,939.97 788.8,940.00 789.6,940.15 790.4,940.88 791.2,940.91 792.0,941.08 792.8,941.08 793.6,941.22 794.4,940.87 795.2,940.35 796.0,939.96 796.8,940.07 797.6,940.28 798.4,940.68 799.2,941.19 800.0,941.66 800.8,941.68 801.6,941.32 802.4,941.14 803.2,941.27 804.0,941.52 804.8,941.49 805.6,941.62 806.4,941.67 807.2,941.86 808.0,942.05 808.8,942.46 809.6,942.77 810.4,942.82 811.2,942.92 812.0,942.91 812.8,942.94 813.6,942.35 814.4,942.19 815.2,942.26 816.0,942.59 816.8,942.71 817.6,942.26 818.4,942.53 819.2,942.43 820.0,943.02 820.8,942.57 821.6,942.61 822.4,942.03 823.2,941.94 824.0,941.55 824.8,941.56 825.6,941.62 826.4,941.72 827.2,941.62 828.0,941.12 828.8,940.73 829.6,940.39 830.4,940.70 831.2,941.10 832.0,941.48 832.8,941.47 833.6,941.43 834.4,941.50 835.2,941.40 836.0,941.36 836.8,941.35 837.6,941.86 838.4,942.19 839.2,942.19 840.0,941.84 840.8,940.83 841.6,940.20 842.4,939.65 843.2,939.93 844.0,939.81 844.8,939.59 845.6,939.30 846.4,939.58 847.2,939.95 848.0,940.27 848.8,939.97 849.6,939.50 850.4,938.98 851.2,938.58 852.0,938.65 852.8,938.52 853.6,938.61 854.4,938.47 855.2,938.61 856.0,938.66 856.8,938.80 857.6,939.05 858.4,939.60 859.2,939.93 860.0,940.18 860.8,939.95 861.6,939.99 862.4,940.05 863.2,940.69 864.0,940.80 864.8,940.96 865.6,940.50 866.4,940.30 867.2,939.73 868.0,939.54 868.8,939.55 869.6,939.88 870.4,940.26 871.2,940.55 872.0,940.92 872.8,940.96 873.6,941.16 874.4,941.22 875.2,941.80 876.0,941.81 876.8,941.82 877.6,940.95 878.4,940.98 879.2,940.68 880.0,941.23 880.8,940.91 881.6,940.99 882.4,940.79 883.2,941.01 884.0,940.85 884.8,940.67 885.6,940.67 886.4,941.11 887.2,941.35 888.0,941.19 888.8,940.85 889.6,940.89 890.4,941.25 891.2,941.47 892.0,941.28 892.8,940.79 893.6,940.48 894.4,940.41 895.2,940.50 896.0,940.34 896.8,940.26 897.6,940.00 898.4,940.37 899.2,940.75 900.0,941.41 900.8,941.11 901.6,940.31 902.4,939.43 903.2,939.24 904.0,939.65 904.8,939.66 905.6,939.29 906.4,938.67 907.2,938.60 908.0,938.77 908.8,938.84 909.6,938.86 910.4,939.00 911.2,939.51 912.0,940.00 912.8,940.49 913.6,940.71 914.4,940.48 915.2,940.26 916.0,939.87 916.8,939.74 917.6,939.29 918.4,939.05 919.2,939.20 920.0,939.42 920.8,939.93 921.6,939.92 922.4,940.05 923.2,939.80 924.0,939.47 924.8,938.97 925.6,938.46 926.4,938.83 927.2,939.61 928.0,940.66 928.8,940.61 929.6,940.30 930.4,939.90 931.2,940.29 932.0,940.94 932.8,941.14 933.6,940.81 934.4,939.80 935.2,939.25 936.0,939.15 936.8,939.61 937.6,940.16 938.4,940.55 939.2,940.81 940.0,941.04 940.8,941.15 941.6,941.11 942.4,941.01 943.2,941.05 944.0,941.21 944.8,941.17 945.6,941.06 946.4,941.10 947.2,941.22 948.0,941.48 948.8,941.71 949.6,941.87 950.4,941.60 951.2,941.32 952.0,941.17 952.8,941.25 953.6,940.72 954.4,940.26 955.2,939.99 956.0,940.27 956.8,940.31 957.6,940.16 958.4,940.42 959.2,940.99 960.0,941.77 960.8,941.78 961.6,941.54 962.4,941.24 963.2,941.47 964.0,941.94 964.8,942.22 965.6,942.35 966.4,942.21 967.2,942.05 968.0,941.90 968.8,941.83 969.6,942.06 970.4,941.84 971.2,941.40 972.0,940.64 972.8,940.41" fill="none" stroke="#5b9bd5" stroke-width="3.5" stroke-linejoin="round" stroke-linecap="round"/>
<ellipse cx="491.3" cy="733.3" rx="5.0" ry="5.4" fill="none" stroke="#000" stroke-width="2.3"/>
<ellipse cx="491.3" cy="768.3" rx="5.0" ry="5.4" fill="none" stroke="#000" stroke-width="2.3"/>
<ellipse cx="491.3" cy="798" rx="5.0" ry="5.4" fill="none" stroke="#000" stroke-width="2.3"/>
<ellipse cx="491.3" cy="827" rx="5.0" ry="5.4" fill="none" stroke="#000" stroke-width="2.3"/>
<path d="M521.3,747.7 L525.8,755.5 L516.8,755.5 Z" fill="#000"/>
<path d="M521.3,769.9 L525.8,777.7 L516.8,777.7 Z" fill="#000"/>
<path d="M521.3,791.9 L525.8,799.7 L516.8,799.7 Z" fill="#000"/>
<path d="M521.3,819.1 L525.8,826.9 L516.8,826.9 Z" fill="#000"/>
<path d="M521.3,848.9 L525.8,856.7 L516.8,856.7 Z" fill="#000"/>
<path d="M554.20,787.20 L554.20,796.40 M550.22,789.50 L558.18,794.10 M550.22,794.10 L558.18,789.50 " stroke="#000" stroke-width="2.1" stroke-linecap="round" fill="none"/>
<path d="M554.00,810.00 L554.00,819.20 M550.02,812.30 L557.98,816.90 M550.02,816.90 L557.98,812.30 " stroke="#000" stroke-width="2.1" stroke-linecap="round" fill="none"/>
<path d="M553.50,828.90 L553.50,838.10 M549.52,831.20 L557.48,835.80 M549.52,835.80 L557.48,831.20 " stroke="#000" stroke-width="2.1" stroke-linecap="round" fill="none"/>
<path d="M553.50,851.90 L553.50,861.10 M549.52,854.20 L557.48,858.80 M549.52,858.80 L557.48,854.20 " stroke="#000" stroke-width="2.1" stroke-linecap="round" fill="none"/>
<path d="M561.60,872.40 L561.60,881.60 M557.62,874.70 L565.58,879.30 M557.62,879.30 L565.58,874.70 " stroke="#000" stroke-width="2.1" stroke-linecap="round" fill="none"/>
<path d="M572.00,897.40 L572.00,906.60 M568.02,899.70 L575.98,904.30 M568.02,904.30 L575.98,899.70 " stroke="#000" stroke-width="2.1" stroke-linecap="round" fill="none"/>
<ellipse cx="771.6" cy="733.6" rx="5.0" ry="5.4" fill="none" stroke="#000" stroke-width="2.3"/>
<ellipse cx="771.6" cy="768.4" rx="5.0" ry="5.4" fill="none" stroke="#000" stroke-width="2.3"/>
<ellipse cx="771.6" cy="798" rx="5.0" ry="5.4" fill="none" stroke="#000" stroke-width="2.3"/>
<ellipse cx="771.6" cy="826.7" rx="5.0" ry="5.4" fill="none" stroke="#000" stroke-width="2.3"/>
<path d="M739.2,747.7 L743.7,755.5 L734.7,755.5 Z" fill="#000"/>
<path d="M739.2,769.1 L743.7,776.9 L734.7,776.9 Z" fill="#000"/>
<path d="M739.2,792.1 L743.7,799.9 L734.7,799.9 Z" fill="#000"/>
<path d="M739.2,819.7 L743.7,827.5 L734.7,827.5 Z" fill="#000"/>
<path d="M739.2,848.5 L743.7,856.3 L734.7,856.3 Z" fill="#000"/>
<path d="M792.00,772.20 L792.00,781.40 M788.02,774.50 L795.98,779.10 M788.02,779.10 L795.98,774.50 " stroke="#000" stroke-width="2.1" stroke-linecap="round" fill="none"/>
<path d="M792.00,800.40 L792.00,809.60 M788.02,802.70 L795.98,807.30 M788.02,807.30 L795.98,802.70 " stroke="#000" stroke-width="2.1" stroke-linecap="round" fill="none"/>
<path d="M792.00,827.90 L792.00,837.10 M788.02,830.20 L795.98,834.80 M788.02,834.80 L795.98,830.20 " stroke="#000" stroke-width="2.1" stroke-linecap="round" fill="none"/>
<path d="M792.00,850.90 L792.00,860.10 M788.02,853.20 L795.98,857.80 M788.02,857.80 L795.98,853.20 " stroke="#000" stroke-width="2.1" stroke-linecap="round" fill="none"/>
<path d="M796.80,873.40 L796.80,882.60 M792.82,875.70 L800.78,880.30 M792.82,880.30 L800.78,875.70 " stroke="#000" stroke-width="2.1" stroke-linecap="round" fill="none"/>
<path d="M807.00,893.40 L807.00,902.60 M803.02,895.70 L810.98,900.30 M803.02,900.30 L810.98,895.70 " stroke="#000" stroke-width="2.1" stroke-linecap="round" fill="none"/>
<text x="131.50" y="1004.4" text-anchor="middle" font-size="27.5" textLength="45.87" lengthAdjust="spacingAndGlyphs" fill="#000">400</text>
<text x="271.50" y="1004.4" text-anchor="middle" font-size="27.5" textLength="45.87" lengthAdjust="spacingAndGlyphs" fill="#000">300</text>
<text x="411.50" y="1004.4" text-anchor="middle" font-size="27.5" textLength="45.87" lengthAdjust="spacingAndGlyphs" fill="#000">200</text>
<text x="551.50" y="1004.4" text-anchor="middle" font-size="27.5" textLength="45.87" lengthAdjust="spacingAndGlyphs" fill="#000">100</text>
<text x="691.50" y="1004.4" text-anchor="middle" font-size="27.5" textLength="15.29" lengthAdjust="spacingAndGlyphs" fill="#000">0</text>
<text x="831.50" y="1004.4" text-anchor="middle" font-size="27.5" textLength="55.03" lengthAdjust="spacingAndGlyphs" fill="#000">-100</text>
<text x="971.50" y="1004.4" text-anchor="middle" font-size="27.5" textLength="55.03" lengthAdjust="spacingAndGlyphs" fill="#000">-200</text>
<text x="367.6" y="1056.2" font-size="34.2" font-weight="bold" textLength="419.5" lengthAdjust="spacingAndGlyphs">NMR Chemical Shift, ppm</text>
<text x="-2.3" y="521" font-size="42" font-weight="bold" textLength="52.5" lengthAdjust="spacingAndGlyphs">(b)</text>
<text transform="translate(50.6,905.2) rotate(-90)" font-size="40.5" font-weight="bold" textLength="91.8" lengthAdjust="spacingAndGlyphs">Time</text>
<line x1="78.4" y1="926" x2="78.4" y2="790" stroke="#000" stroke-width="4.2"/>
<path d="M78.4,781.6 L86,795 L78.4,791.5 L70.8,795 Z" fill="#000" stroke="#000" stroke-width="1" stroke-linejoin="miter"/>
</svg></body></html>
